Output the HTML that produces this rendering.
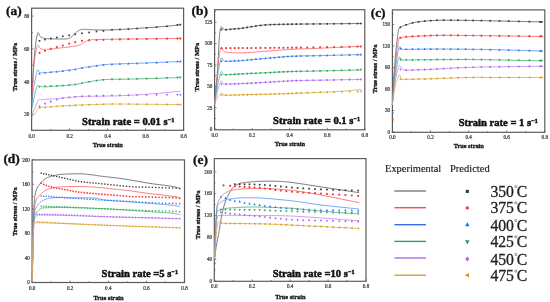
<!DOCTYPE html>
<html><head><meta charset="utf-8"><style>
html,body{margin:0;padding:0;background:#fff;}
body{width:550px;height:302px;overflow:hidden;}
svg{display:block;font-family:"Liberation Serif", serif;will-change:transform;}
</style></head><body>
<svg width="550" height="302" viewBox="0 0 550 302">
<rect width="550" height="302" fill="#fff"/>
<rect x="31.60" y="8.20" width="152.00" height="122.10" fill="none" stroke="#5c5c5c" stroke-width="1.2"/>
<line x1="31.60" y1="130.30" x2="31.60" y2="128.30" stroke="#555" stroke-width="0.7"/>
<text x="31.60" y="137.70" font-size="5.1" text-anchor="middle" fill="#3a3a3a" stroke="#3a3a3a" stroke-width="0.22">0.0</text>
<line x1="50.60" y1="130.30" x2="50.60" y2="129.00" stroke="#555" stroke-width="0.7"/>
<line x1="69.60" y1="130.30" x2="69.60" y2="128.30" stroke="#555" stroke-width="0.7"/>
<text x="69.60" y="137.70" font-size="5.1" text-anchor="middle" fill="#3a3a3a" stroke="#3a3a3a" stroke-width="0.22">0.2</text>
<line x1="88.60" y1="130.30" x2="88.60" y2="129.00" stroke="#555" stroke-width="0.7"/>
<line x1="107.60" y1="130.30" x2="107.60" y2="128.30" stroke="#555" stroke-width="0.7"/>
<text x="107.60" y="137.70" font-size="5.1" text-anchor="middle" fill="#3a3a3a" stroke="#3a3a3a" stroke-width="0.22">0.4</text>
<line x1="126.60" y1="130.30" x2="126.60" y2="129.00" stroke="#555" stroke-width="0.7"/>
<line x1="145.60" y1="130.30" x2="145.60" y2="128.30" stroke="#555" stroke-width="0.7"/>
<text x="145.60" y="137.70" font-size="5.1" text-anchor="middle" fill="#3a3a3a" stroke="#3a3a3a" stroke-width="0.22">0.6</text>
<line x1="164.60" y1="130.30" x2="164.60" y2="129.00" stroke="#555" stroke-width="0.7"/>
<line x1="183.60" y1="130.30" x2="183.60" y2="128.30" stroke="#555" stroke-width="0.7"/>
<text x="183.60" y="137.70" font-size="5.1" text-anchor="middle" fill="#3a3a3a" stroke="#3a3a3a" stroke-width="0.22">0.8</text>
<line x1="31.60" y1="16.10" x2="33.60" y2="16.10" stroke="#555" stroke-width="0.7"/>
<text x="29.30" y="17.90" font-size="5.1" text-anchor="end" fill="#3a3a3a" stroke="#3a3a3a" stroke-width="0.22">80</text>
<line x1="31.60" y1="48.90" x2="33.60" y2="48.90" stroke="#555" stroke-width="0.7"/>
<text x="29.30" y="50.70" font-size="5.1" text-anchor="end" fill="#3a3a3a" stroke="#3a3a3a" stroke-width="0.22">60</text>
<line x1="31.60" y1="81.70" x2="33.60" y2="81.70" stroke="#555" stroke-width="0.7"/>
<text x="29.30" y="83.50" font-size="5.1" text-anchor="end" fill="#3a3a3a" stroke="#3a3a3a" stroke-width="0.22">40</text>
<line x1="31.60" y1="114.50" x2="33.60" y2="114.50" stroke="#555" stroke-width="0.7"/>
<text x="29.30" y="116.30" font-size="5.1" text-anchor="end" fill="#3a3a3a" stroke="#3a3a3a" stroke-width="0.22">20</text>
<line x1="31.60" y1="32.50" x2="32.90" y2="32.50" stroke="#555" stroke-width="0.7"/>
<line x1="31.60" y1="65.30" x2="32.90" y2="65.30" stroke="#555" stroke-width="0.7"/>
<line x1="31.60" y1="98.10" x2="32.90" y2="98.10" stroke="#555" stroke-width="0.7"/>
<text x="107.80" y="147.20" font-size="6.3" font-weight="bold" text-anchor="middle" fill="#111" stroke="#111" stroke-width="0.3">True strain</text>
<text transform="translate(17.30,67.00) rotate(-90)" font-size="6.5" font-weight="bold" text-anchor="middle" fill="#111" stroke="#111" stroke-width="0.32">True stress / MPa</text>
<text x="6.10" y="14.50" font-size="13.4" font-weight="bold" fill="#111" stroke="#111" stroke-width="0.35">(a)</text>
<g transform="translate(82.00,125.00) scale(1,1.02)"><text x="0" y="0" font-size="10.6" font-weight="bold" fill="#111" stroke="#111" stroke-width="0.5">Strain rate = 0.01 s<tspan dy="-3.2" dx="0.2" font-size="6.1">−1</tspan></text></g>
<path d="M31.90,100.00 L31.94,98.81 L32.00,97.28 L32.06,95.47 L32.13,93.44 L32.21,91.25 L32.30,88.96 L32.39,86.63 L32.49,84.32 L32.59,82.09 L32.70,80.00 L32.81,77.99 L32.94,75.97 L33.06,73.94 L33.20,71.90 L33.34,69.88 L33.48,67.86 L33.63,65.85 L33.78,63.87 L33.94,61.92 L34.10,60.00 L34.26,58.08 L34.43,56.13 L34.60,54.18 L34.78,52.23 L34.96,50.32 L35.15,48.47 L35.33,46.69 L35.52,45.00 L35.71,43.43 L35.90,42.00 L36.09,40.67 L36.29,39.40 L36.49,38.22 L36.70,37.11 L36.91,36.10 L37.11,35.19 L37.32,34.40 L37.52,33.73 L37.71,33.19 L37.90,32.80 L38.08,32.60 L38.26,32.61 L38.44,32.80 L38.61,33.11 L38.77,33.52 L38.94,33.99 L39.11,34.47 L39.27,34.92 L39.44,35.31 L39.60,35.60 L39.75,35.81 L39.89,36.00 L40.01,36.18 L40.13,36.34 L40.26,36.49 L40.39,36.64 L40.55,36.78 L40.73,36.92 L40.94,37.06 L41.20,37.20 L41.49,37.35 L41.80,37.49 L42.14,37.64 L42.49,37.78 L42.88,37.93 L43.28,38.06 L43.72,38.19 L44.18,38.30 L44.68,38.41 L45.20,38.50 L45.76,38.58 L46.36,38.64 L47.00,38.70 L47.66,38.74 L48.35,38.77 L49.06,38.80 L49.78,38.83 L50.52,38.85 L51.26,38.88 L52.00,38.90 L52.76,38.92 L53.56,38.94 L54.37,38.96 L55.21,38.97 L56.05,38.98 L56.89,38.99 L57.71,38.99 L58.51,39.00 L59.28,39.00 L60.00,39.00 L60.69,39.00 L61.37,39.00 L62.03,39.00 L62.66,39.00 L63.28,39.00 L63.88,38.99 L64.45,38.98 L64.99,38.96 L65.51,38.94 L66.00,38.90 L66.45,38.86 L66.86,38.83 L67.23,38.80 L67.58,38.76 L67.91,38.71 L68.22,38.65 L68.53,38.58 L68.84,38.48 L69.16,38.35 L69.50,38.20 L69.85,38.01 L70.20,37.80 L70.55,37.56 L70.90,37.29 L71.25,37.01 L71.60,36.72 L71.95,36.42 L72.30,36.11 L72.65,35.80 L73.00,35.50 L73.35,35.19 L73.70,34.86 L74.05,34.52 L74.40,34.17 L74.75,33.82 L75.10,33.47 L75.45,33.13 L75.80,32.80 L76.15,32.49 L76.50,32.20 L76.85,31.93 L77.19,31.67 L77.53,31.41 L77.88,31.17 L78.22,30.94 L78.56,30.72 L78.91,30.52 L79.27,30.33 L79.63,30.15 L80.00,30.00 L80.37,29.86 L80.74,29.75 L81.12,29.65 L81.49,29.56 L81.88,29.49 L82.27,29.44 L82.67,29.39 L83.10,29.35 L83.54,29.32 L84.00,29.30 L84.47,29.29 L84.92,29.29 L85.38,29.31 L85.85,29.34 L86.34,29.38 L86.87,29.42 L87.44,29.47 L88.06,29.52 L88.74,29.56 L89.50,29.60 L90.35,29.64 L91.29,29.68 L92.30,29.73 L93.36,29.78 L94.47,29.83 L95.60,29.87 L96.73,29.91 L97.85,29.95 L98.95,29.98 L100.00,30.00 L101.00,30.01 L101.95,30.02 L102.88,30.03 L103.80,30.02 L104.72,30.02 L105.66,30.01 L106.65,29.99 L107.69,29.97 L108.80,29.94 L110.00,29.90 L111.28,29.86 L112.60,29.81 L113.98,29.75 L115.41,29.69 L116.89,29.62 L118.42,29.55 L120.00,29.47 L121.62,29.39 L123.29,29.30 L125.00,29.20 L126.78,29.10 L128.63,28.98 L130.55,28.86 L132.51,28.73 L134.52,28.60 L136.55,28.46 L138.60,28.32 L140.65,28.18 L142.68,28.04 L144.70,27.90 L146.73,27.76 L148.81,27.61 L150.91,27.47 L153.03,27.32 L155.14,27.17 L157.23,27.02 L159.28,26.86 L161.27,26.71 L163.18,26.55 L165.00,26.40 L166.78,26.24 L168.58,26.06 L170.36,25.88 L172.10,25.69 L173.77,25.51 L175.33,25.33 L176.77,25.17 L178.04,25.02 L179.13,24.90 L180.00,24.80" fill="none" stroke="#585858" stroke-width="0.8" stroke-linejoin="round" stroke-linecap="round"/>
<path d="M31.90,102.00 L31.94,100.95 L32.00,99.62 L32.06,98.05 L32.13,96.29 L32.21,94.38 L32.29,92.35 L32.38,90.26 L32.48,88.14 L32.59,86.04 L32.70,84.00 L32.82,81.91 L32.95,79.68 L33.09,77.35 L33.24,74.96 L33.39,72.56 L33.54,70.20 L33.71,67.92 L33.87,65.76 L34.03,63.77 L34.20,62.00 L34.37,60.43 L34.54,59.01 L34.71,57.72 L34.89,56.55 L35.08,55.48 L35.26,54.48 L35.44,53.56 L35.63,52.68 L35.81,51.83 L36.00,51.00 L36.19,50.19 L36.38,49.41 L36.57,48.68 L36.77,48.00 L36.96,47.38 L37.16,46.82 L37.35,46.34 L37.54,45.93 L37.72,45.62 L37.90,45.40 L38.07,45.31 L38.24,45.36 L38.40,45.52 L38.56,45.76 L38.71,46.07 L38.87,46.41 L39.02,46.76 L39.18,47.09 L39.34,47.38 L39.50,47.60 L39.66,47.77 L39.80,47.93 L39.94,48.08 L40.07,48.22 L40.21,48.36 L40.36,48.48 L40.53,48.60 L40.72,48.71 L40.94,48.81 L41.20,48.90 L41.48,48.99 L41.77,49.07 L42.08,49.14 L42.42,49.20 L42.77,49.26 L43.15,49.30 L43.56,49.34 L44.00,49.37 L44.48,49.39 L45.00,49.40 L45.57,49.40 L46.18,49.39 L46.84,49.37 L47.53,49.33 L48.25,49.29 L48.99,49.25 L49.74,49.19 L50.50,49.13 L51.25,49.07 L52.00,49.00 L52.75,48.92 L53.50,48.84 L54.27,48.74 L55.04,48.64 L55.83,48.53 L56.61,48.42 L57.41,48.31 L58.20,48.20 L59.00,48.10 L59.80,48.00 L60.60,47.91 L61.41,47.82 L62.22,47.74 L63.03,47.65 L63.85,47.57 L64.67,47.48 L65.50,47.40 L66.33,47.30 L67.16,47.21 L68.00,47.10 L68.87,46.98 L69.78,46.86 L70.71,46.73 L71.66,46.59 L72.60,46.46 L73.52,46.32 L74.39,46.18 L75.21,46.05 L75.95,45.92 L76.60,45.80 L77.15,45.69 L77.60,45.60 L77.98,45.52 L78.31,45.45 L78.59,45.37 L78.85,45.29 L79.10,45.19 L79.36,45.08 L79.66,44.96 L80.00,44.80 L80.38,44.62 L80.76,44.40 L81.16,44.17 L81.56,43.93 L81.96,43.67 L82.37,43.41 L82.78,43.14 L83.19,42.88 L83.60,42.63 L84.00,42.40 L84.40,42.17 L84.80,41.94 L85.20,41.70 L85.60,41.47 L86.00,41.24 L86.40,41.02 L86.80,40.81 L87.20,40.62 L87.60,40.45 L88.00,40.30 L88.38,40.18 L88.74,40.08 L89.07,40.00 L89.41,39.93 L89.75,39.88 L90.11,39.84 L90.51,39.80 L90.94,39.77 L91.44,39.74 L92.00,39.70 L92.58,39.66 L93.15,39.64 L93.73,39.62 L94.34,39.60 L95.00,39.59 L95.74,39.58 L96.59,39.56 L97.57,39.55 L98.70,39.53 L100.00,39.50 L101.47,39.47 L103.07,39.43 L104.80,39.39 L106.66,39.35 L108.62,39.31 L110.70,39.26 L112.89,39.22 L115.17,39.18 L117.54,39.14 L120.00,39.10 L122.59,39.07 L125.36,39.04 L128.27,39.01 L131.28,38.98 L134.38,38.95 L137.52,38.92 L140.69,38.89 L143.84,38.86 L146.95,38.83 L150.00,38.80 L153.14,38.76 L156.48,38.72 L159.94,38.67 L163.44,38.63 L166.88,38.58 L170.16,38.54 L173.20,38.49 L175.92,38.46 L178.22,38.42 L180.00,38.40" fill="none" stroke="#f5605f" stroke-width="0.8" stroke-linejoin="round" stroke-linecap="round"/>
<path d="M31.90,105.00 L31.98,104.09 L32.08,102.90 L32.20,101.48 L32.33,99.89 L32.48,98.19 L32.63,96.43 L32.79,94.68 L32.96,92.98 L33.13,91.41 L33.30,90.00 L33.47,88.73 L33.66,87.51 L33.85,86.34 L34.05,85.22 L34.25,84.12 L34.46,83.06 L34.67,82.03 L34.88,81.01 L35.09,80.00 L35.30,79.00 L35.51,77.97 L35.73,76.89 L35.95,75.79 L36.17,74.71 L36.39,73.66 L36.61,72.68 L36.83,71.80 L37.06,71.04 L37.28,70.43 L37.50,70.00 L37.71,69.79 L37.89,69.78 L38.07,69.95 L38.24,70.24 L38.41,70.62 L38.60,71.04 L38.82,71.48 L39.07,71.87 L39.36,72.19 L39.70,72.40 L40.09,72.52 L40.52,72.61 L40.98,72.68 L41.47,72.72 L41.99,72.74 L42.54,72.75 L43.11,72.75 L43.69,72.74 L44.29,72.72 L44.90,72.70 L45.53,72.67 L46.19,72.62 L46.87,72.56 L47.57,72.49 L48.29,72.41 L49.02,72.33 L49.76,72.24 L50.50,72.16 L51.25,72.07 L52.00,72.00 L52.75,71.93 L53.52,71.86 L54.31,71.80 L55.10,71.73 L55.89,71.67 L56.69,71.60 L57.48,71.53 L58.27,71.46 L59.04,71.38 L59.80,71.30 L60.54,71.21 L61.27,71.12 L61.99,71.02 L62.70,70.92 L63.41,70.81 L64.12,70.71 L64.83,70.60 L65.54,70.50 L66.27,70.40 L67.00,70.30 L67.74,70.21 L68.50,70.12 L69.26,70.04 L70.02,69.97 L70.79,69.89 L71.56,69.81 L72.32,69.72 L73.09,69.62 L73.85,69.52 L74.60,69.40 L75.35,69.27 L76.09,69.12 L76.83,68.95 L77.57,68.78 L78.31,68.61 L79.04,68.43 L79.78,68.26 L80.52,68.09 L81.26,67.94 L82.00,67.80 L82.71,67.68 L83.37,67.58 L83.99,67.49 L84.61,67.41 L85.24,67.34 L85.92,67.26 L86.66,67.17 L87.49,67.07 L88.43,66.95 L89.50,66.80 L90.71,66.62 L92.02,66.42 L93.42,66.19 L94.91,65.94 L96.47,65.69 L98.09,65.44 L99.77,65.20 L101.48,64.98 L103.23,64.77 L105.00,64.60 L106.80,64.46 L108.63,64.34 L110.51,64.23 L112.44,64.15 L114.41,64.07 L116.42,64.00 L118.49,63.93 L120.61,63.86 L122.78,63.78 L125.00,63.70 L127.28,63.61 L129.60,63.53 L131.97,63.44 L134.40,63.36 L136.88,63.27 L139.40,63.19 L141.97,63.10 L144.60,63.01 L147.28,62.91 L150.00,62.80 L152.93,62.68 L156.16,62.54 L159.58,62.40 L163.08,62.25 L166.56,62.09 L169.92,61.95 L173.05,61.81 L175.84,61.68 L178.19,61.58 L180.00,61.50" fill="none" stroke="#5590f2" stroke-width="0.8" stroke-linejoin="round" stroke-linecap="round"/>
<path d="M31.90,108.00 L32.01,107.46 L32.16,106.78 L32.33,105.96 L32.52,105.05 L32.73,104.06 L32.94,103.03 L33.16,101.98 L33.38,100.94 L33.60,99.94 L33.80,99.00 L34.00,98.08 L34.20,97.13 L34.40,96.16 L34.60,95.19 L34.81,94.23 L35.01,93.28 L35.21,92.38 L35.41,91.52 L35.61,90.72 L35.80,90.00 L35.99,89.34 L36.17,88.71 L36.35,88.12 L36.53,87.58 L36.71,87.08 L36.88,86.63 L37.06,86.24 L37.24,85.90 L37.42,85.62 L37.60,85.40 L37.77,85.27 L37.93,85.23 L38.08,85.28 L38.23,85.38 L38.38,85.53 L38.55,85.70 L38.74,85.89 L38.95,86.06 L39.20,86.20 L39.50,86.30 L39.83,86.37 L40.18,86.44 L40.55,86.51 L40.94,86.57 L41.37,86.63 L41.82,86.68 L42.31,86.73 L42.83,86.76 L43.40,86.79 L44.00,86.80 L44.66,86.80 L45.38,86.78 L46.14,86.75 L46.95,86.71 L47.78,86.66 L48.63,86.61 L49.49,86.56 L50.34,86.50 L51.18,86.45 L52.00,86.40 L52.77,86.36 L53.49,86.32 L54.19,86.28 L54.88,86.25 L55.59,86.21 L56.32,86.16 L57.11,86.11 L57.98,86.05 L58.93,85.98 L60.00,85.90 L61.19,85.81 L62.49,85.72 L63.89,85.62 L65.35,85.51 L66.87,85.40 L68.42,85.27 L69.99,85.13 L71.56,84.98 L73.10,84.80 L74.60,84.60 L76.08,84.37 L77.55,84.11 L79.03,83.82 L80.51,83.52 L81.99,83.20 L83.48,82.88 L84.98,82.56 L86.48,82.25 L87.98,81.96 L89.50,81.70 L91.01,81.45 L92.49,81.20 L93.96,80.96 L95.44,80.72 L96.93,80.49 L98.45,80.28 L100.00,80.08 L101.60,79.90 L103.27,79.74 L105.00,79.60 L106.80,79.49 L108.63,79.41 L110.51,79.36 L112.44,79.33 L114.41,79.31 L116.42,79.29 L118.49,79.28 L120.61,79.27 L122.78,79.24 L125.00,79.20 L127.28,79.15 L129.60,79.10 L131.97,79.05 L134.40,79.00 L136.88,78.94 L139.40,78.89 L141.97,78.82 L144.60,78.76 L147.28,78.68 L150.00,78.60 L152.93,78.51 L156.16,78.39 L159.58,78.27 L163.08,78.14 L166.56,78.01 L169.92,77.88 L173.05,77.76 L175.84,77.66 L178.19,77.57 L180.00,77.50" fill="none" stroke="#45b474" stroke-width="0.8" stroke-linejoin="round" stroke-linecap="round"/>
<path d="M31.90,114.70 L32.09,114.28 L32.33,113.74 L32.62,113.10 L32.94,112.38 L33.29,111.61 L33.66,110.80 L34.03,109.97 L34.40,109.15 L34.76,108.35 L35.10,107.60 L35.42,106.85 L35.75,106.05 L36.07,105.21 L36.40,104.37 L36.73,103.54 L37.05,102.75 L37.38,102.00 L37.72,101.33 L38.06,100.76 L38.40,100.30 L38.73,99.97 L39.03,99.75 L39.32,99.63 L39.61,99.58 L39.91,99.58 L40.23,99.62 L40.59,99.67 L40.99,99.71 L41.46,99.73 L42.00,99.70 L42.62,99.64 L43.30,99.58 L44.04,99.52 L44.82,99.46 L45.64,99.41 L46.50,99.35 L47.37,99.29 L48.25,99.23 L49.13,99.16 L50.00,99.10 L50.87,99.04 L51.75,98.97 L52.65,98.91 L53.56,98.84 L54.48,98.77 L55.42,98.71 L56.37,98.64 L57.33,98.56 L58.31,98.48 L59.30,98.40 L60.31,98.31 L61.34,98.22 L62.38,98.12 L63.44,98.02 L64.51,97.92 L65.59,97.81 L66.68,97.71 L67.78,97.60 L68.89,97.50 L70.00,97.40 L71.07,97.30 L72.07,97.19 L73.04,97.08 L74.01,96.97 L75.01,96.86 L76.07,96.75 L77.22,96.65 L78.51,96.56 L79.96,96.47 L81.60,96.40 L83.45,96.34 L85.50,96.30 L87.70,96.27 L90.03,96.25 L92.46,96.24 L94.96,96.22 L97.49,96.20 L100.03,96.18 L102.54,96.15 L105.00,96.10 L107.44,96.04 L109.90,95.99 L112.38,95.93 L114.88,95.86 L117.40,95.79 L119.92,95.71 L122.45,95.62 L124.97,95.53 L127.49,95.42 L130.00,95.30 L132.50,95.17 L135.00,95.03 L137.50,94.88 L140.00,94.72 L142.50,94.55 L145.00,94.37 L147.50,94.19 L150.00,94.00 L152.50,93.80 L155.00,93.60 L157.61,93.38 L160.40,93.13 L163.29,92.86 L166.20,92.58 L169.06,92.29 L171.80,92.02 L174.34,91.77 L176.60,91.54 L178.51,91.35 L180.00,91.20" fill="none" stroke="#bf86f3" stroke-width="0.8" stroke-linejoin="round" stroke-linecap="round"/>
<path d="M31.90,117.80 L32.11,117.50 L32.39,117.10 L32.72,116.64 L33.08,116.12 L33.47,115.56 L33.89,114.98 L34.31,114.38 L34.72,113.80 L35.12,113.23 L35.50,112.70 L35.85,112.18 L36.18,111.62 L36.51,111.05 L36.83,110.48 L37.16,109.92 L37.49,109.38 L37.85,108.87 L38.23,108.42 L38.65,108.02 L39.10,107.70 L39.60,107.46 L40.14,107.29 L40.71,107.19 L41.31,107.13 L41.92,107.11 L42.55,107.11 L43.18,107.12 L43.80,107.13 L44.41,107.13 L45.00,107.10 L45.56,107.06 L46.08,107.03 L46.58,107.00 L47.08,106.98 L47.58,106.96 L48.10,106.93 L48.65,106.91 L49.24,106.88 L49.89,106.84 L50.60,106.80 L51.33,106.75 L52.04,106.69 L52.76,106.63 L53.50,106.57 L54.30,106.50 L55.18,106.43 L56.16,106.35 L57.28,106.27 L58.55,106.19 L60.00,106.10 L61.64,106.01 L63.45,105.90 L65.40,105.79 L67.48,105.68 L69.67,105.56 L71.96,105.44 L74.31,105.33 L76.71,105.21 L79.15,105.10 L81.60,105.00 L84.09,104.90 L86.65,104.79 L89.28,104.68 L91.97,104.58 L94.71,104.47 L97.50,104.38 L100.33,104.29 L103.20,104.21 L106.09,104.15 L109.00,104.10 L111.91,104.07 L114.83,104.05 L117.75,104.05 L120.71,104.05 L123.71,104.07 L126.78,104.09 L129.93,104.12 L133.17,104.14 L136.52,104.17 L140.00,104.20 L143.82,104.23 L148.06,104.27 L152.60,104.31 L157.27,104.36 L161.94,104.41 L166.45,104.45 L170.66,104.50 L174.42,104.54 L177.58,104.57 L180.00,104.60" fill="none" stroke="#ddae48" stroke-width="0.8" stroke-linejoin="round" stroke-linecap="round"/>
<rect x="38.65" y="39.95" width="1.70" height="1.70" fill="#383838"/>
<rect x="44.15" y="38.65" width="1.70" height="1.70" fill="#383838"/>
<rect x="49.95" y="37.65" width="1.70" height="1.70" fill="#383838"/>
<rect x="55.95" y="36.65" width="1.70" height="1.70" fill="#383838"/>
<rect x="61.95" y="35.45" width="1.70" height="1.70" fill="#383838"/>
<rect x="68.35" y="34.45" width="1.70" height="1.70" fill="#383838"/>
<rect x="74.35" y="33.45" width="1.70" height="1.70" fill="#383838"/>
<rect x="81.15" y="32.45" width="1.70" height="1.70" fill="#383838"/>
<rect x="88.25" y="31.65" width="1.70" height="1.70" fill="#383838"/>
<rect x="95.65" y="30.65" width="1.70" height="1.70" fill="#383838"/>
<rect x="102.55" y="30.05" width="1.70" height="1.70" fill="#383838"/>
<rect x="111.15" y="28.95" width="1.70" height="1.70" fill="#383838"/>
<rect x="119.05" y="28.63" width="1.70" height="1.70" fill="#383838"/>
<rect x="127.55" y="28.33" width="1.70" height="1.70" fill="#383838"/>
<rect x="136.25" y="27.64" width="1.70" height="1.70" fill="#383838"/>
<rect x="145.85" y="26.96" width="1.70" height="1.70" fill="#383838"/>
<rect x="155.75" y="26.25" width="1.70" height="1.70" fill="#383838"/>
<rect x="166.05" y="25.45" width="1.70" height="1.70" fill="#383838"/>
<rect x="176.55" y="24.05" width="1.70" height="1.70" fill="#383838"/>
<rect x="179.55" y="23.75" width="1.70" height="1.70" fill="#383838"/>
<circle cx="39.50" cy="52.90" r="1.10" fill="#f5393f"/>
<circle cx="45.00" cy="50.86" r="1.10" fill="#f5393f"/>
<circle cx="50.80" cy="48.90" r="1.10" fill="#f5393f"/>
<circle cx="56.80" cy="47.20" r="1.10" fill="#f5393f"/>
<circle cx="62.80" cy="45.60" r="1.10" fill="#f5393f"/>
<circle cx="69.20" cy="43.55" r="1.10" fill="#f5393f"/>
<circle cx="75.20" cy="42.16" r="1.10" fill="#f5393f"/>
<circle cx="82.00" cy="40.80" r="1.10" fill="#f5393f"/>
<circle cx="89.10" cy="40.34" r="1.10" fill="#f5393f"/>
<circle cx="96.50" cy="40.05" r="1.10" fill="#f5393f"/>
<circle cx="103.40" cy="39.84" r="1.10" fill="#f5393f"/>
<circle cx="112.00" cy="39.62" r="1.10" fill="#f5393f"/>
<circle cx="119.90" cy="39.42" r="1.10" fill="#f5393f"/>
<circle cx="128.40" cy="39.22" r="1.10" fill="#f5393f"/>
<circle cx="137.10" cy="39.05" r="1.10" fill="#f5393f"/>
<circle cx="146.70" cy="38.91" r="1.10" fill="#f5393f"/>
<circle cx="156.60" cy="38.80" r="1.10" fill="#f5393f"/>
<circle cx="166.90" cy="38.71" r="1.10" fill="#f5393f"/>
<circle cx="177.40" cy="38.62" r="1.10" fill="#f5393f"/>
<circle cx="180.40" cy="38.60" r="1.10" fill="#f5393f"/>
<path d="M39.50,72.20 L40.70,74.40 L38.30,74.40 Z" fill="#2c6ef0"/>
<path d="M45.00,71.30 L46.20,73.50 L43.80,73.50 Z" fill="#2c6ef0"/>
<path d="M50.80,70.85 L52.00,73.05 L49.60,73.05 Z" fill="#2c6ef0"/>
<path d="M56.80,70.40 L58.00,72.60 L55.60,72.60 Z" fill="#2c6ef0"/>
<path d="M62.80,69.78 L64.00,71.98 L61.60,71.98 Z" fill="#2c6ef0"/>
<path d="M69.20,68.95 L70.40,71.15 L68.00,71.15 Z" fill="#2c6ef0"/>
<path d="M75.20,68.07 L76.40,70.27 L74.00,70.27 Z" fill="#2c6ef0"/>
<path d="M82.00,66.90 L83.20,69.10 L80.80,69.10 Z" fill="#2c6ef0"/>
<path d="M89.10,65.64 L90.30,67.84 L87.90,67.84 Z" fill="#2c6ef0"/>
<path d="M96.50,64.46 L97.70,66.66 L95.30,66.66 Z" fill="#2c6ef0"/>
<path d="M103.40,63.55 L104.60,65.75 L102.20,65.75 Z" fill="#2c6ef0"/>
<path d="M112.00,62.94 L113.20,65.14 L110.80,65.14 Z" fill="#2c6ef0"/>
<path d="M119.90,62.60 L121.10,64.80 L118.70,64.80 Z" fill="#2c6ef0"/>
<path d="M128.40,62.27 L129.60,64.47 L127.20,64.47 Z" fill="#2c6ef0"/>
<path d="M137.10,61.97 L138.30,64.17 L135.90,64.17 Z" fill="#2c6ef0"/>
<path d="M146.70,61.64 L147.90,63.84 L145.50,63.84 Z" fill="#2c6ef0"/>
<path d="M156.60,61.19 L157.80,63.39 L155.40,63.39 Z" fill="#2c6ef0"/>
<path d="M166.90,60.68 L168.10,62.88 L165.70,62.88 Z" fill="#2c6ef0"/>
<path d="M177.40,60.13 L178.60,62.33 L176.20,62.33 Z" fill="#2c6ef0"/>
<path d="M180.40,60.00 L181.60,62.20 L179.20,62.20 Z" fill="#2c6ef0"/>
<path d="M39.50,88.10 L40.70,85.90 L38.30,85.90 Z" fill="#22a055"/>
<path d="M45.00,87.70 L46.20,85.50 L43.80,85.50 Z" fill="#22a055"/>
<path d="M50.80,87.54 L52.00,85.34 L49.60,85.34 Z" fill="#22a055"/>
<path d="M56.80,87.35 L58.00,85.15 L55.60,85.15 Z" fill="#22a055"/>
<path d="M62.80,87.03 L64.00,84.83 L61.60,84.83 Z" fill="#22a055"/>
<path d="M69.20,86.55 L70.40,84.35 L68.00,84.35 Z" fill="#22a055"/>
<path d="M75.20,85.87 L76.40,83.67 L74.00,83.67 Z" fill="#22a055"/>
<path d="M82.00,84.60 L83.20,82.40 L80.80,82.40 Z" fill="#22a055"/>
<path d="M89.10,83.15 L90.30,80.95 L87.90,80.95 Z" fill="#22a055"/>
<path d="M96.50,81.95 L97.70,79.75 L95.30,79.75 Z" fill="#22a055"/>
<path d="M103.40,81.13 L104.60,78.93 L102.20,78.93 Z" fill="#22a055"/>
<path d="M112.00,80.71 L113.20,78.51 L110.80,78.51 Z" fill="#22a055"/>
<path d="M119.90,80.59 L121.10,78.39 L118.70,78.39 Z" fill="#22a055"/>
<path d="M128.40,80.42 L129.60,78.22 L127.20,78.22 Z" fill="#22a055"/>
<path d="M137.10,80.23 L138.30,78.03 L135.90,78.03 Z" fill="#22a055"/>
<path d="M146.70,80.00 L147.90,77.80 L145.50,77.80 Z" fill="#22a055"/>
<path d="M156.60,79.68 L157.80,77.48 L155.40,77.48 Z" fill="#22a055"/>
<path d="M166.90,79.30 L168.10,77.10 L165.70,77.10 Z" fill="#22a055"/>
<path d="M177.40,78.90 L178.60,76.70 L176.20,76.70 Z" fill="#22a055"/>
<path d="M180.40,78.80 L181.60,76.60 L179.20,76.60 Z" fill="#22a055"/>
<path d="M39.50,104.95 L40.60,106.25 L39.50,107.55 L38.40,106.25 Z" fill="#ad62f0"/>
<path d="M45.00,102.35 L46.10,103.65 L45.00,104.95 L43.90,103.65 Z" fill="#ad62f0"/>
<path d="M50.80,100.29 L51.90,101.59 L50.80,102.89 L49.70,101.59 Z" fill="#ad62f0"/>
<path d="M56.80,98.31 L57.90,99.61 L56.80,100.91 L55.70,99.61 Z" fill="#ad62f0"/>
<path d="M62.80,96.68 L63.90,97.98 L62.80,99.28 L61.70,97.98 Z" fill="#ad62f0"/>
<path d="M69.20,95.97 L70.30,97.27 L69.20,98.57 L68.10,97.27 Z" fill="#ad62f0"/>
<path d="M75.20,95.47 L76.30,96.77 L75.20,98.07 L74.10,96.77 Z" fill="#ad62f0"/>
<path d="M82.00,95.08 L83.10,96.38 L82.00,97.68 L80.90,96.38 Z" fill="#ad62f0"/>
<path d="M89.10,94.79 L90.20,96.09 L89.10,97.39 L88.00,96.09 Z" fill="#ad62f0"/>
<path d="M96.50,94.53 L97.60,95.83 L96.50,97.13 L95.40,95.83 Z" fill="#ad62f0"/>
<path d="M103.40,94.34 L104.50,95.64 L103.40,96.94 L102.30,95.64 Z" fill="#ad62f0"/>
<path d="M112.00,94.15 L113.10,95.45 L112.00,96.75 L110.90,95.45 Z" fill="#ad62f0"/>
<path d="M119.90,94.00 L121.00,95.30 L119.90,96.60 L118.80,95.30 Z" fill="#ad62f0"/>
<path d="M128.40,93.86 L129.50,95.16 L128.40,96.46 L127.30,95.16 Z" fill="#ad62f0"/>
<path d="M137.10,93.74 L138.20,95.04 L137.10,96.34 L136.00,95.04 Z" fill="#ad62f0"/>
<path d="M146.70,93.63 L147.80,94.93 L146.70,96.23 L145.60,94.93 Z" fill="#ad62f0"/>
<path d="M156.60,93.55 L157.70,94.85 L156.60,96.15 L155.50,94.85 Z" fill="#ad62f0"/>
<path d="M166.90,93.48 L168.00,94.78 L166.90,96.08 L165.80,94.78 Z" fill="#ad62f0"/>
<path d="M177.40,93.42 L178.50,94.72 L177.40,96.02 L176.30,94.72 Z" fill="#ad62f0"/>
<path d="M180.40,93.40 L181.50,94.70 L180.40,96.00 L179.30,94.70 Z" fill="#ad62f0"/>
<path d="M38.20,107.80 L40.40,106.60 L40.40,109.00 Z" fill="#d99a1c"/>
<path d="M43.70,107.40 L45.90,106.20 L45.90,108.60 Z" fill="#d99a1c"/>
<path d="M49.50,106.88 L51.70,105.68 L51.70,108.08 Z" fill="#d99a1c"/>
<path d="M55.50,106.37 L57.70,105.17 L57.70,107.57 Z" fill="#d99a1c"/>
<path d="M61.50,105.94 L63.70,104.74 L63.70,107.14 Z" fill="#d99a1c"/>
<path d="M67.90,105.59 L70.10,104.39 L70.10,106.79 Z" fill="#d99a1c"/>
<path d="M73.90,105.29 L76.10,104.09 L76.10,106.49 Z" fill="#d99a1c"/>
<path d="M80.70,104.98 L82.90,103.78 L82.90,106.18 Z" fill="#d99a1c"/>
<path d="M87.80,104.69 L90.00,103.49 L90.00,105.89 Z" fill="#d99a1c"/>
<path d="M95.20,104.41 L97.40,103.21 L97.40,105.61 Z" fill="#d99a1c"/>
<path d="M102.10,104.21 L104.30,103.01 L104.30,105.41 Z" fill="#d99a1c"/>
<path d="M110.70,104.07 L112.90,102.87 L112.90,105.27 Z" fill="#d99a1c"/>
<path d="M118.60,104.05 L120.80,102.85 L120.80,105.25 Z" fill="#d99a1c"/>
<path d="M127.10,104.10 L129.30,102.90 L129.30,105.30 Z" fill="#d99a1c"/>
<path d="M135.80,104.18 L138.00,102.98 L138.00,105.38 Z" fill="#d99a1c"/>
<path d="M145.40,104.25 L147.60,103.05 L147.60,105.45 Z" fill="#d99a1c"/>
<path d="M155.30,104.35 L157.50,103.15 L157.50,105.55 Z" fill="#d99a1c"/>
<path d="M165.60,104.46 L167.80,103.26 L167.80,105.66 Z" fill="#d99a1c"/>
<path d="M176.10,104.57 L178.30,103.37 L178.30,105.77 Z" fill="#d99a1c"/>
<path d="M179.10,104.60 L181.30,103.40 L181.30,105.80 Z" fill="#d99a1c"/>
<rect x="214.60" y="9.70" width="150.20" height="120.10" fill="none" stroke="#5c5c5c" stroke-width="1.2"/>
<line x1="214.60" y1="129.80" x2="214.60" y2="127.80" stroke="#555" stroke-width="0.7"/>
<text x="214.60" y="136.60" font-size="5.1" text-anchor="middle" fill="#3a3a3a" stroke="#3a3a3a" stroke-width="0.22">0.0</text>
<line x1="233.38" y1="129.80" x2="233.38" y2="128.50" stroke="#555" stroke-width="0.7"/>
<line x1="252.15" y1="129.80" x2="252.15" y2="127.80" stroke="#555" stroke-width="0.7"/>
<text x="252.15" y="136.60" font-size="5.1" text-anchor="middle" fill="#3a3a3a" stroke="#3a3a3a" stroke-width="0.22">0.2</text>
<line x1="270.93" y1="129.80" x2="270.93" y2="128.50" stroke="#555" stroke-width="0.7"/>
<line x1="289.70" y1="129.80" x2="289.70" y2="127.80" stroke="#555" stroke-width="0.7"/>
<text x="289.70" y="136.60" font-size="5.1" text-anchor="middle" fill="#3a3a3a" stroke="#3a3a3a" stroke-width="0.22">0.4</text>
<line x1="308.48" y1="129.80" x2="308.48" y2="128.50" stroke="#555" stroke-width="0.7"/>
<line x1="327.25" y1="129.80" x2="327.25" y2="127.80" stroke="#555" stroke-width="0.7"/>
<text x="327.25" y="136.60" font-size="5.1" text-anchor="middle" fill="#3a3a3a" stroke="#3a3a3a" stroke-width="0.22">0.6</text>
<line x1="346.02" y1="129.80" x2="346.02" y2="128.50" stroke="#555" stroke-width="0.7"/>
<line x1="364.80" y1="129.80" x2="364.80" y2="127.80" stroke="#555" stroke-width="0.7"/>
<text x="364.80" y="136.60" font-size="5.1" text-anchor="middle" fill="#3a3a3a" stroke="#3a3a3a" stroke-width="0.22">0.8</text>
<line x1="214.60" y1="22.22" x2="216.60" y2="22.22" stroke="#555" stroke-width="0.7"/>
<text x="212.30" y="24.02" font-size="5.1" text-anchor="end" fill="#3a3a3a" stroke="#3a3a3a" stroke-width="0.22">125</text>
<line x1="214.60" y1="43.60" x2="216.60" y2="43.60" stroke="#555" stroke-width="0.7"/>
<text x="212.30" y="45.40" font-size="5.1" text-anchor="end" fill="#3a3a3a" stroke="#3a3a3a" stroke-width="0.22">100</text>
<line x1="214.60" y1="64.97" x2="216.60" y2="64.97" stroke="#555" stroke-width="0.7"/>
<text x="212.30" y="66.77" font-size="5.1" text-anchor="end" fill="#3a3a3a" stroke="#3a3a3a" stroke-width="0.22">75</text>
<line x1="214.60" y1="86.35" x2="216.60" y2="86.35" stroke="#555" stroke-width="0.7"/>
<text x="212.30" y="88.15" font-size="5.1" text-anchor="end" fill="#3a3a3a" stroke="#3a3a3a" stroke-width="0.22">50</text>
<line x1="214.60" y1="107.72" x2="216.60" y2="107.72" stroke="#555" stroke-width="0.7"/>
<text x="212.30" y="109.52" font-size="5.1" text-anchor="end" fill="#3a3a3a" stroke="#3a3a3a" stroke-width="0.22">25</text>
<line x1="214.60" y1="129.10" x2="216.60" y2="129.10" stroke="#555" stroke-width="0.7"/>
<text x="212.30" y="130.90" font-size="5.1" text-anchor="end" fill="#3a3a3a" stroke="#3a3a3a" stroke-width="0.22">0</text>
<line x1="214.60" y1="11.54" x2="215.90" y2="11.54" stroke="#555" stroke-width="0.7"/>
<line x1="214.60" y1="32.91" x2="215.90" y2="32.91" stroke="#555" stroke-width="0.7"/>
<line x1="214.60" y1="54.29" x2="215.90" y2="54.29" stroke="#555" stroke-width="0.7"/>
<line x1="214.60" y1="75.66" x2="215.90" y2="75.66" stroke="#555" stroke-width="0.7"/>
<line x1="214.60" y1="97.04" x2="215.90" y2="97.04" stroke="#555" stroke-width="0.7"/>
<line x1="214.60" y1="118.41" x2="215.90" y2="118.41" stroke="#555" stroke-width="0.7"/>
<text x="289.90" y="146.10" font-size="6.3" font-weight="bold" text-anchor="middle" fill="#111" stroke="#111" stroke-width="0.3">True strain</text>
<text transform="translate(199.10,67.10) rotate(-90)" font-size="6.5" font-weight="bold" text-anchor="middle" fill="#111" stroke="#111" stroke-width="0.32">True stress / MPa</text>
<text x="191.50" y="15.00" font-size="13.4" font-weight="bold" fill="#111" stroke="#111" stroke-width="0.35">(b)</text>
<g transform="translate(273.00,123.90) scale(1,1.02)"><text x="0" y="0" font-size="10.6" font-weight="bold" fill="#111" stroke="#111" stroke-width="0.5">Strain rate = 0.1 s<tspan dy="-3.2" dx="0.2" font-size="6.1">−1</tspan></text></g>
<path d="M214.70,104.00 L214.78,103.03 L214.88,101.78 L214.99,100.28 L215.13,98.61 L215.27,96.81 L215.42,94.95 L215.57,93.08 L215.72,91.26 L215.86,89.55 L216.00,88.00 L216.13,86.61 L216.26,85.32 L216.40,84.10 L216.53,82.92 L216.66,81.75 L216.79,80.56 L216.92,79.32 L217.05,78.00 L217.18,76.57 L217.30,75.00 L217.42,73.27 L217.54,71.40 L217.65,69.42 L217.76,67.36 L217.88,65.25 L217.98,63.12 L218.09,61.00 L218.20,58.92 L218.30,56.91 L218.40,55.00 L218.50,53.14 L218.59,51.26 L218.68,49.40 L218.77,47.55 L218.86,45.75 L218.94,44.01 L219.03,42.34 L219.12,40.78 L219.21,39.32 L219.30,38.00 L219.40,36.81 L219.49,35.75 L219.59,34.79 L219.68,33.92 L219.78,33.14 L219.88,32.42 L219.98,31.76 L220.09,31.15 L220.19,30.57 L220.30,30.00 L220.41,29.46 L220.52,28.97 L220.64,28.53 L220.75,28.14 L220.87,27.79 L220.99,27.50 L221.11,27.25 L221.24,27.05 L221.37,26.90 L221.50,26.80 L221.63,26.77 L221.76,26.83 L221.89,26.97 L222.03,27.15 L222.16,27.38 L222.31,27.62 L222.46,27.87 L222.62,28.11 L222.80,28.33 L223.00,28.50 L223.20,28.65 L223.39,28.80 L223.58,28.96 L223.78,29.11 L223.99,29.25 L224.23,29.38 L224.51,29.50 L224.82,29.59 L225.18,29.66 L225.60,29.70 L226.07,29.71 L226.58,29.68 L227.13,29.63 L227.72,29.56 L228.35,29.47 L229.01,29.37 L229.71,29.27 L230.44,29.17 L231.21,29.08 L232.00,29.00 L232.84,28.93 L233.74,28.88 L234.68,28.82 L235.66,28.77 L236.66,28.71 L237.69,28.65 L238.72,28.58 L239.76,28.50 L240.79,28.41 L241.80,28.30 L242.78,28.17 L243.73,28.03 L244.67,27.87 L245.60,27.70 L246.55,27.52 L247.53,27.34 L248.55,27.15 L249.62,26.96 L250.77,26.78 L252.00,26.60 L253.29,26.42 L254.60,26.23 L255.95,26.03 L257.34,25.83 L258.80,25.63 L260.33,25.44 L261.94,25.25 L263.65,25.08 L265.46,24.93 L267.40,24.80 L269.47,24.69 L271.68,24.60 L274.00,24.52 L276.41,24.46 L278.91,24.41 L281.47,24.36 L284.08,24.32 L286.72,24.28 L289.36,24.24 L292.00,24.20 L294.60,24.16 L297.17,24.12 L299.74,24.09 L302.33,24.06 L304.98,24.04 L307.70,24.01 L310.54,23.99 L313.51,23.96 L316.66,23.93 L320.00,23.90 L323.76,23.86 L328.02,23.82 L332.64,23.77 L337.43,23.73 L342.25,23.68 L346.93,23.64 L351.30,23.59 L355.22,23.56 L358.50,23.52 L361.00,23.50" fill="none" stroke="#585858" stroke-width="0.8" stroke-linejoin="round" stroke-linecap="round"/>
<path d="M214.70,104.00 L214.75,103.29 L214.82,102.37 L214.90,101.28 L214.99,100.06 L215.08,98.75 L215.18,97.38 L215.29,95.98 L215.39,94.59 L215.50,93.25 L215.60,92.00 L215.70,90.81 L215.80,89.65 L215.91,88.49 L216.01,87.34 L216.12,86.19 L216.23,85.02 L216.34,83.82 L216.46,82.59 L216.58,81.32 L216.70,80.00 L216.83,78.61 L216.96,77.15 L217.09,75.64 L217.22,74.10 L217.36,72.53 L217.50,70.96 L217.65,69.41 L217.80,67.89 L217.95,66.41 L218.10,65.00 L218.26,63.61 L218.42,62.21 L218.59,60.82 L218.76,59.44 L218.93,58.10 L219.11,56.81 L219.28,55.59 L219.46,54.45 L219.63,53.42 L219.80,52.50 L219.97,51.69 L220.14,50.96 L220.32,50.32 L220.49,49.76 L220.66,49.27 L220.83,48.86 L221.00,48.52 L221.17,48.25 L221.34,48.05 L221.50,47.90 L221.65,47.85 L221.80,47.93 L221.94,48.10 L222.08,48.35 L222.21,48.65 L222.35,48.98 L222.50,49.33 L222.65,49.66 L222.82,49.96 L223.00,50.20 L223.18,50.41 L223.34,50.61 L223.49,50.81 L223.65,51.01 L223.82,51.21 L224.02,51.39 L224.26,51.56 L224.55,51.72 L224.89,51.87 L225.30,52.00 L225.78,52.11 L226.33,52.20 L226.93,52.28 L227.58,52.34 L228.26,52.39 L228.98,52.44 L229.72,52.48 L230.47,52.52 L231.24,52.56 L232.00,52.60 L232.76,52.65 L233.51,52.70 L234.27,52.74 L235.04,52.79 L235.84,52.83 L236.68,52.87 L237.55,52.89 L238.47,52.91 L239.45,52.91 L240.50,52.90 L241.60,52.87 L242.73,52.84 L243.89,52.79 L245.10,52.74 L246.36,52.67 L247.68,52.59 L249.07,52.51 L250.53,52.41 L252.07,52.31 L253.70,52.20 L255.45,52.08 L257.34,51.93 L259.34,51.78 L261.42,51.61 L263.55,51.44 L265.70,51.26 L267.86,51.09 L269.97,50.92 L272.03,50.75 L274.00,50.60 L275.85,50.46 L277.59,50.32 L279.25,50.18 L280.89,50.05 L282.52,49.92 L284.19,49.79 L285.94,49.67 L287.80,49.54 L289.81,49.42 L292.00,49.30 L294.34,49.19 L296.75,49.08 L299.26,48.98 L301.86,48.88 L304.56,48.79 L307.38,48.69 L310.33,48.58 L313.41,48.47 L316.63,48.34 L320.00,48.20 L323.76,48.03 L328.02,47.84 L332.64,47.63 L337.43,47.41 L342.25,47.18 L346.93,46.96 L351.30,46.76 L355.22,46.57 L358.50,46.42 L361.00,46.30" fill="none" stroke="#f5605f" stroke-width="0.8" stroke-linejoin="round" stroke-linecap="round"/>
<path d="M214.70,104.00 L214.75,103.47 L214.82,102.79 L214.90,101.99 L214.99,101.10 L215.08,100.12 L215.18,99.10 L215.29,98.06 L215.39,97.01 L215.50,95.98 L215.60,95.00 L215.70,94.05 L215.80,93.10 L215.91,92.14 L216.01,91.17 L216.12,90.19 L216.23,89.19 L216.34,88.18 L216.46,87.14 L216.58,86.09 L216.70,85.00 L216.83,83.87 L216.95,82.70 L217.09,81.50 L217.22,80.27 L217.36,79.03 L217.50,77.79 L217.64,76.55 L217.79,75.34 L217.94,74.15 L218.10,73.00 L218.26,71.86 L218.44,70.71 L218.62,69.56 L218.80,68.41 L218.99,67.29 L219.18,66.21 L219.36,65.18 L219.55,64.20 L219.73,63.31 L219.90,62.50 L220.07,61.76 L220.23,61.08 L220.39,60.45 L220.54,59.87 L220.70,59.36 L220.86,58.90 L221.01,58.52 L221.17,58.21 L221.33,57.96 L221.50,57.80 L221.67,57.75 L221.83,57.81 L222.00,57.98 L222.16,58.23 L222.33,58.53 L222.51,58.86 L222.69,59.20 L222.88,59.51 L223.08,59.79 L223.30,60.00 L223.47,60.17 L223.57,60.33 L223.63,60.49 L223.69,60.64 L223.78,60.77 L223.93,60.90 L224.20,61.00 L224.61,61.09 L225.20,61.16 L226.00,61.20 L227.03,61.22 L228.25,61.22 L229.64,61.20 L231.17,61.16 L232.81,61.10 L234.53,61.03 L236.32,60.94 L238.15,60.84 L239.98,60.72 L241.80,60.60 L243.60,60.46 L245.40,60.30 L247.23,60.12 L249.09,59.92 L251.01,59.71 L253.00,59.50 L255.08,59.27 L257.26,59.05 L259.56,58.82 L262.00,58.60 L264.61,58.37 L267.40,58.12 L270.34,57.85 L273.39,57.58 L276.51,57.31 L279.67,57.05 L282.84,56.80 L285.97,56.57 L289.04,56.37 L292.00,56.20 L294.82,56.07 L297.52,55.97 L300.14,55.90 L302.72,55.85 L305.31,55.81 L307.96,55.78 L310.71,55.75 L313.60,55.72 L316.68,55.67 L320.00,55.60 L323.76,55.51 L328.02,55.41 L332.64,55.30 L337.43,55.18 L342.25,55.06 L346.93,54.95 L351.30,54.84 L355.22,54.74 L358.50,54.66 L361.00,54.60" fill="none" stroke="#5590f2" stroke-width="0.8" stroke-linejoin="round" stroke-linecap="round"/>
<path d="M214.70,104.00 L214.75,103.61 L214.82,103.12 L214.90,102.53 L214.99,101.87 L215.08,101.16 L215.18,100.41 L215.29,99.65 L215.39,98.90 L215.50,98.18 L215.60,97.50 L215.70,96.86 L215.80,96.22 L215.91,95.60 L216.01,94.97 L216.12,94.34 L216.23,93.71 L216.34,93.06 L216.46,92.40 L216.58,91.71 L216.70,91.00 L216.83,90.26 L216.95,89.49 L217.09,88.69 L217.22,87.88 L217.36,87.06 L217.50,86.24 L217.64,85.41 L217.79,84.59 L217.94,83.79 L218.10,83.00 L218.27,82.21 L218.44,81.41 L218.62,80.60 L218.81,79.80 L218.99,79.00 L219.18,78.22 L219.37,77.48 L219.55,76.77 L219.73,76.11 L219.90,75.50 L220.06,74.93 L220.21,74.38 L220.36,73.84 L220.50,73.35 L220.64,72.89 L220.79,72.48 L220.93,72.13 L221.08,71.84 L221.24,71.63 L221.40,71.50 L221.57,71.48 L221.74,71.58 L221.92,71.77 L222.09,72.03 L222.28,72.34 L222.46,72.67 L222.66,73.01 L222.86,73.32 L223.08,73.59 L223.30,73.80 L223.48,73.96 L223.58,74.11 L223.64,74.25 L223.69,74.38 L223.78,74.49 L223.94,74.59 L224.20,74.67 L224.61,74.74 L225.20,74.78 L226.00,74.80 L227.03,74.79 L228.25,74.76 L229.64,74.70 L231.17,74.62 L232.81,74.52 L234.53,74.42 L236.32,74.31 L238.15,74.20 L239.98,74.10 L241.80,74.00 L243.60,73.91 L245.40,73.82 L247.23,73.73 L249.09,73.63 L251.01,73.54 L253.00,73.44 L255.08,73.34 L257.26,73.23 L259.56,73.12 L262.00,73.00 L264.61,72.87 L267.40,72.73 L270.34,72.58 L273.39,72.43 L276.51,72.28 L279.67,72.12 L282.84,71.97 L285.97,71.84 L289.04,71.71 L292.00,71.60 L294.82,71.51 L297.52,71.44 L300.14,71.38 L302.72,71.33 L305.31,71.28 L307.96,71.24 L310.71,71.19 L313.60,71.14 L316.68,71.08 L320.00,71.00 L323.76,70.91 L328.02,70.79 L332.64,70.67 L337.43,70.54 L342.25,70.41 L346.93,70.28 L351.30,70.16 L355.22,70.06 L358.50,69.97 L361.00,69.90" fill="none" stroke="#45b474" stroke-width="0.8" stroke-linejoin="round" stroke-linecap="round"/>
<path d="M214.70,104.00 L214.75,103.73 L214.82,103.39 L214.90,102.98 L214.99,102.52 L215.08,102.03 L215.18,101.52 L215.29,100.99 L215.39,100.47 L215.50,99.97 L215.60,99.50 L215.70,99.06 L215.80,98.62 L215.91,98.20 L216.01,97.77 L216.12,97.34 L216.23,96.91 L216.34,96.46 L216.46,96.00 L216.58,95.51 L216.70,95.00 L216.83,94.46 L216.95,93.88 L217.09,93.28 L217.22,92.66 L217.36,92.03 L217.50,91.40 L217.64,90.77 L217.79,90.16 L217.94,89.57 L218.10,89.00 L218.27,88.45 L218.44,87.90 L218.62,87.36 L218.81,86.83 L219.00,86.31 L219.19,85.81 L219.38,85.32 L219.56,84.86 L219.73,84.41 L219.90,84.00 L220.05,83.60 L220.20,83.19 L220.33,82.79 L220.46,82.41 L220.59,82.05 L220.72,81.73 L220.85,81.45 L220.99,81.24 L221.14,81.08 L221.30,81.00 L221.47,81.02 L221.65,81.13 L221.83,81.32 L222.02,81.57 L222.22,81.86 L222.42,82.16 L222.63,82.47 L222.85,82.76 L223.07,83.01 L223.30,83.20 L223.45,83.35 L223.45,83.49 L223.39,83.62 L223.31,83.74 L223.28,83.84 L223.35,83.93 L223.60,84.00 L224.09,84.06 L224.86,84.09 L226.00,84.10 L227.46,84.09 L229.15,84.06 L231.07,84.01 L233.20,83.94 L235.54,83.86 L238.08,83.75 L240.81,83.64 L243.71,83.50 L246.78,83.36 L250.00,83.20 L253.53,83.01 L257.47,82.79 L261.72,82.53 L266.18,82.26 L270.75,81.98 L275.34,81.70 L279.86,81.43 L284.21,81.19 L288.29,80.97 L292.00,80.80 L295.31,80.67 L298.29,80.57 L301.02,80.49 L303.58,80.44 L306.06,80.40 L308.54,80.37 L311.09,80.34 L313.79,80.30 L316.74,80.26 L320.00,80.20 L323.76,80.12 L328.02,80.04 L332.64,79.95 L337.43,79.86 L342.25,79.76 L346.93,79.67 L351.30,79.59 L355.22,79.51 L358.50,79.45 L361.00,79.40" fill="none" stroke="#bf86f3" stroke-width="0.8" stroke-linejoin="round" stroke-linecap="round"/>
<path d="M214.70,104.00 L214.75,103.85 L214.82,103.66 L214.90,103.43 L214.99,103.17 L215.08,102.89 L215.18,102.61 L215.29,102.31 L215.39,102.03 L215.50,101.75 L215.60,101.50 L215.70,101.26 L215.80,101.03 L215.91,100.80 L216.01,100.57 L216.12,100.34 L216.23,100.12 L216.34,99.89 L216.46,99.66 L216.58,99.43 L216.70,99.20 L216.83,98.96 L216.95,98.72 L217.09,98.48 L217.22,98.24 L217.36,98.00 L217.50,97.76 L217.64,97.52 L217.79,97.28 L217.94,97.04 L218.10,96.80 L218.26,96.56 L218.44,96.32 L218.62,96.08 L218.80,95.83 L218.99,95.59 L219.18,95.36 L219.36,95.13 L219.55,94.91 L219.73,94.70 L219.90,94.50 L220.07,94.30 L220.23,94.10 L220.39,93.90 L220.54,93.70 L220.70,93.51 L220.86,93.35 L221.01,93.20 L221.17,93.10 L221.33,93.02 L221.50,93.00 L221.67,93.03 L221.83,93.12 L222.00,93.25 L222.16,93.42 L222.33,93.61 L222.51,93.81 L222.69,94.01 L222.88,94.20 L223.08,94.37 L223.30,94.50 L223.44,94.61 L223.44,94.71 L223.37,94.81 L223.29,94.90 L223.26,94.98 L223.34,95.05 L223.60,95.11 L224.08,95.16 L224.86,95.19 L226.00,95.20 L227.47,95.19 L229.21,95.17 L231.19,95.13 L233.39,95.07 L235.79,95.00 L238.37,94.92 L241.10,94.84 L243.96,94.76 L246.94,94.68 L250.00,94.60 L253.26,94.52 L256.80,94.45 L260.56,94.36 L264.48,94.28 L268.50,94.19 L272.56,94.10 L276.60,94.01 L280.56,93.91 L284.38,93.81 L288.00,93.70 L291.47,93.59 L294.90,93.47 L298.26,93.34 L301.57,93.21 L304.81,93.08 L307.99,92.95 L311.10,92.81 L314.14,92.67 L317.11,92.54 L320.00,92.40 L322.82,92.26 L325.59,92.13 L328.30,91.99 L330.94,91.85 L333.50,91.71 L335.98,91.57 L338.38,91.43 L340.69,91.29 L342.90,91.14 L345.00,91.00 L347.04,90.85 L349.03,90.68 L350.97,90.51 L352.82,90.34 L354.56,90.16 L356.18,90.00 L357.66,89.84 L358.97,89.71 L360.09,89.59 L361.00,89.50" fill="none" stroke="#ddae48" stroke-width="0.8" stroke-linejoin="round" stroke-linecap="round"/>
<rect x="220.65" y="28.65" width="1.70" height="1.70" fill="#383838"/>
<rect x="225.25" y="28.82" width="1.70" height="1.70" fill="#383838"/>
<rect x="229.65" y="28.50" width="1.70" height="1.70" fill="#383838"/>
<rect x="233.75" y="28.16" width="1.70" height="1.70" fill="#383838"/>
<rect x="237.85" y="27.78" width="1.70" height="1.70" fill="#383838"/>
<rect x="241.95" y="27.32" width="1.70" height="1.70" fill="#383838"/>
<rect x="246.35" y="26.58" width="1.70" height="1.70" fill="#383838"/>
<rect x="250.45" y="25.85" width="1.70" height="1.70" fill="#383838"/>
<rect x="255.05" y="25.19" width="1.70" height="1.70" fill="#383838"/>
<rect x="259.65" y="24.57" width="1.70" height="1.70" fill="#383838"/>
<rect x="264.55" y="24.09" width="1.70" height="1.70" fill="#383838"/>
<rect x="269.45" y="23.80" width="1.70" height="1.70" fill="#383838"/>
<rect x="273.65" y="23.66" width="1.70" height="1.70" fill="#383838"/>
<rect x="278.15" y="23.55" width="1.70" height="1.70" fill="#383838"/>
<rect x="282.55" y="23.48" width="1.70" height="1.70" fill="#383838"/>
<rect x="286.95" y="23.42" width="1.70" height="1.70" fill="#383838"/>
<rect x="291.05" y="23.35" width="1.70" height="1.70" fill="#383838"/>
<rect x="295.45" y="23.28" width="1.70" height="1.70" fill="#383838"/>
<rect x="300.05" y="23.23" width="1.70" height="1.70" fill="#383838"/>
<rect x="306.35" y="23.17" width="1.70" height="1.70" fill="#383838"/>
<rect x="312.55" y="23.11" width="1.70" height="1.70" fill="#383838"/>
<rect x="319.25" y="23.05" width="1.70" height="1.70" fill="#383838"/>
<rect x="326.25" y="22.98" width="1.70" height="1.70" fill="#383838"/>
<rect x="333.15" y="22.91" width="1.70" height="1.70" fill="#383838"/>
<rect x="340.75" y="22.84" width="1.70" height="1.70" fill="#383838"/>
<rect x="348.65" y="22.76" width="1.70" height="1.70" fill="#383838"/>
<rect x="356.55" y="22.68" width="1.70" height="1.70" fill="#383838"/>
<rect x="359.95" y="22.65" width="1.70" height="1.70" fill="#383838"/>
<circle cx="221.50" cy="48.20" r="1.10" fill="#f5393f"/>
<circle cx="226.10" cy="48.17" r="1.10" fill="#f5393f"/>
<circle cx="230.50" cy="48.15" r="1.10" fill="#f5393f"/>
<circle cx="234.60" cy="48.12" r="1.10" fill="#f5393f"/>
<circle cx="238.70" cy="48.10" r="1.10" fill="#f5393f"/>
<circle cx="242.80" cy="48.08" r="1.10" fill="#f5393f"/>
<circle cx="247.20" cy="48.05" r="1.10" fill="#f5393f"/>
<circle cx="251.30" cy="48.03" r="1.10" fill="#f5393f"/>
<circle cx="255.90" cy="48.00" r="1.10" fill="#f5393f"/>
<circle cx="260.50" cy="47.97" r="1.10" fill="#f5393f"/>
<circle cx="265.40" cy="47.93" r="1.10" fill="#f5393f"/>
<circle cx="270.30" cy="47.90" r="1.10" fill="#f5393f"/>
<circle cx="274.50" cy="47.87" r="1.10" fill="#f5393f"/>
<circle cx="279.00" cy="47.83" r="1.10" fill="#f5393f"/>
<circle cx="283.40" cy="47.79" r="1.10" fill="#f5393f"/>
<circle cx="287.80" cy="47.75" r="1.10" fill="#f5393f"/>
<circle cx="291.90" cy="47.70" r="1.10" fill="#f5393f"/>
<circle cx="296.30" cy="47.65" r="1.10" fill="#f5393f"/>
<circle cx="300.90" cy="47.59" r="1.10" fill="#f5393f"/>
<circle cx="307.20" cy="47.50" r="1.10" fill="#f5393f"/>
<circle cx="313.40" cy="47.40" r="1.10" fill="#f5393f"/>
<circle cx="320.10" cy="47.30" r="1.10" fill="#f5393f"/>
<circle cx="327.10" cy="47.18" r="1.10" fill="#f5393f"/>
<circle cx="334.00" cy="47.07" r="1.10" fill="#f5393f"/>
<circle cx="341.60" cy="46.93" r="1.10" fill="#f5393f"/>
<circle cx="349.50" cy="46.80" r="1.10" fill="#f5393f"/>
<circle cx="357.40" cy="46.66" r="1.10" fill="#f5393f"/>
<circle cx="360.80" cy="46.60" r="1.10" fill="#f5393f"/>
<path d="M221.50,59.70 L222.70,61.90 L220.30,61.90 Z" fill="#2c6ef0"/>
<path d="M226.10,59.90 L227.30,62.10 L224.90,62.10 Z" fill="#2c6ef0"/>
<path d="M230.50,59.73 L231.70,61.93 L229.30,61.93 Z" fill="#2c6ef0"/>
<path d="M234.60,59.54 L235.80,61.74 L233.40,61.74 Z" fill="#2c6ef0"/>
<path d="M238.70,59.31 L239.90,61.51 L237.50,61.51 Z" fill="#2c6ef0"/>
<path d="M242.80,59.03 L244.00,61.23 L241.60,61.23 Z" fill="#2c6ef0"/>
<path d="M247.20,58.65 L248.40,60.85 L246.00,60.85 Z" fill="#2c6ef0"/>
<path d="M251.30,58.27 L252.50,60.47 L250.10,60.47 Z" fill="#2c6ef0"/>
<path d="M255.90,57.84 L257.10,60.04 L254.70,60.04 Z" fill="#2c6ef0"/>
<path d="M260.50,57.43 L261.70,59.63 L259.30,59.63 Z" fill="#2c6ef0"/>
<path d="M265.40,57.01 L266.60,59.21 L264.20,59.21 Z" fill="#2c6ef0"/>
<path d="M270.30,56.57 L271.50,58.77 L269.10,58.77 Z" fill="#2c6ef0"/>
<path d="M274.50,56.20 L275.70,58.40 L273.30,58.40 Z" fill="#2c6ef0"/>
<path d="M279.00,55.82 L280.20,58.02 L277.80,58.02 Z" fill="#2c6ef0"/>
<path d="M283.40,55.47 L284.60,57.67 L282.20,57.67 Z" fill="#2c6ef0"/>
<path d="M287.80,55.16 L289.00,57.36 L286.60,57.36 Z" fill="#2c6ef0"/>
<path d="M291.90,54.91 L293.10,57.11 L290.70,57.11 Z" fill="#2c6ef0"/>
<path d="M296.30,54.70 L297.50,56.90 L295.10,56.90 Z" fill="#2c6ef0"/>
<path d="M300.90,54.56 L302.10,56.76 L299.70,56.76 Z" fill="#2c6ef0"/>
<path d="M307.20,54.43 L308.40,56.63 L306.00,56.63 Z" fill="#2c6ef0"/>
<path d="M313.40,54.34 L314.60,56.54 L312.20,56.54 Z" fill="#2c6ef0"/>
<path d="M320.10,54.20 L321.30,56.40 L318.90,56.40 Z" fill="#2c6ef0"/>
<path d="M327.10,54.03 L328.30,56.23 L325.90,56.23 Z" fill="#2c6ef0"/>
<path d="M334.00,53.86 L335.20,56.06 L332.80,56.06 Z" fill="#2c6ef0"/>
<path d="M341.60,53.67 L342.80,55.87 L340.40,55.87 Z" fill="#2c6ef0"/>
<path d="M349.50,53.48 L350.70,55.68 L348.30,55.68 Z" fill="#2c6ef0"/>
<path d="M357.40,53.29 L358.60,55.49 L356.20,55.49 Z" fill="#2c6ef0"/>
<path d="M360.80,53.20 L362.00,55.40 L359.60,55.40 Z" fill="#2c6ef0"/>
<path d="M221.50,76.10 L222.70,73.90 L220.30,73.90 Z" fill="#22a055"/>
<path d="M226.10,76.10 L227.30,73.90 L224.90,73.90 Z" fill="#22a055"/>
<path d="M230.50,75.89 L231.70,73.69 L229.30,73.69 Z" fill="#22a055"/>
<path d="M234.60,75.67 L235.80,73.47 L233.40,73.47 Z" fill="#22a055"/>
<path d="M238.70,75.46 L239.90,73.26 L237.50,73.26 Z" fill="#22a055"/>
<path d="M242.80,75.25 L244.00,73.05 L241.60,73.05 Z" fill="#22a055"/>
<path d="M247.20,75.03 L248.40,72.83 L246.00,72.83 Z" fill="#22a055"/>
<path d="M251.30,74.82 L252.50,72.62 L250.10,72.62 Z" fill="#22a055"/>
<path d="M255.90,74.60 L257.10,72.40 L254.70,72.40 Z" fill="#22a055"/>
<path d="M260.50,74.37 L261.70,72.17 L259.30,72.17 Z" fill="#22a055"/>
<path d="M265.40,74.13 L266.60,71.93 L264.20,71.93 Z" fill="#22a055"/>
<path d="M270.30,73.89 L271.50,71.69 L269.10,71.69 Z" fill="#22a055"/>
<path d="M274.50,73.67 L275.70,71.47 L273.30,71.47 Z" fill="#22a055"/>
<path d="M279.00,73.45 L280.20,71.25 L277.80,71.25 Z" fill="#22a055"/>
<path d="M283.40,73.25 L284.60,71.05 L282.20,71.05 Z" fill="#22a055"/>
<path d="M287.80,73.06 L289.00,70.86 L286.60,70.86 Z" fill="#22a055"/>
<path d="M291.90,72.90 L293.10,70.70 L290.70,70.70 Z" fill="#22a055"/>
<path d="M296.30,72.77 L297.50,70.57 L295.10,70.57 Z" fill="#22a055"/>
<path d="M300.90,72.67 L302.10,70.47 L299.70,70.47 Z" fill="#22a055"/>
<path d="M307.20,72.56 L308.40,70.36 L306.00,70.36 Z" fill="#22a055"/>
<path d="M313.40,72.46 L314.60,70.26 L312.20,70.26 Z" fill="#22a055"/>
<path d="M320.10,72.30 L321.30,70.10 L318.90,70.10 Z" fill="#22a055"/>
<path d="M327.10,72.09 L328.30,69.89 L325.90,69.89 Z" fill="#22a055"/>
<path d="M334.00,71.88 L335.20,69.68 L332.80,69.68 Z" fill="#22a055"/>
<path d="M341.60,71.63 L342.80,69.43 L340.40,69.43 Z" fill="#22a055"/>
<path d="M349.50,71.38 L350.70,69.18 L348.30,69.18 Z" fill="#22a055"/>
<path d="M357.40,71.12 L358.60,68.92 L356.20,68.92 Z" fill="#22a055"/>
<path d="M360.80,71.01 L362.00,68.81 L359.60,68.81 Z" fill="#22a055"/>
<path d="M221.50,82.70 L222.60,84.00 L221.50,85.30 L220.40,84.00 Z" fill="#ad62f0"/>
<path d="M226.10,82.80 L227.20,84.10 L226.10,85.40 L225.00,84.10 Z" fill="#ad62f0"/>
<path d="M230.50,82.67 L231.60,83.97 L230.50,85.27 L229.40,83.97 Z" fill="#ad62f0"/>
<path d="M234.60,82.54 L235.70,83.84 L234.60,85.14 L233.50,83.84 Z" fill="#ad62f0"/>
<path d="M238.70,82.40 L239.80,83.70 L238.70,85.00 L237.60,83.70 Z" fill="#ad62f0"/>
<path d="M242.80,82.23 L243.90,83.53 L242.80,84.83 L241.70,83.53 Z" fill="#ad62f0"/>
<path d="M247.20,82.04 L248.30,83.34 L247.20,84.64 L246.10,83.34 Z" fill="#ad62f0"/>
<path d="M251.30,81.83 L252.40,83.13 L251.30,84.43 L250.20,83.13 Z" fill="#ad62f0"/>
<path d="M255.90,81.58 L257.00,82.88 L255.90,84.18 L254.80,82.88 Z" fill="#ad62f0"/>
<path d="M260.50,81.31 L261.60,82.61 L260.50,83.91 L259.40,82.61 Z" fill="#ad62f0"/>
<path d="M265.40,81.01 L266.50,82.31 L265.40,83.61 L264.30,82.31 Z" fill="#ad62f0"/>
<path d="M270.30,80.71 L271.40,82.01 L270.30,83.31 L269.20,82.01 Z" fill="#ad62f0"/>
<path d="M274.50,80.45 L275.60,81.75 L274.50,83.05 L273.40,81.75 Z" fill="#ad62f0"/>
<path d="M279.00,80.19 L280.10,81.49 L279.00,82.79 L277.90,81.49 Z" fill="#ad62f0"/>
<path d="M283.40,79.93 L284.50,81.23 L283.40,82.53 L282.30,81.23 Z" fill="#ad62f0"/>
<path d="M287.80,79.70 L288.90,81.00 L287.80,82.30 L286.70,81.00 Z" fill="#ad62f0"/>
<path d="M291.90,79.50 L293.00,80.80 L291.90,82.10 L290.80,80.80 Z" fill="#ad62f0"/>
<path d="M296.30,79.33 L297.40,80.63 L296.30,81.93 L295.20,80.63 Z" fill="#ad62f0"/>
<path d="M300.90,79.20 L302.00,80.50 L300.90,81.80 L299.80,80.50 Z" fill="#ad62f0"/>
<path d="M307.20,79.08 L308.30,80.38 L307.20,81.68 L306.10,80.38 Z" fill="#ad62f0"/>
<path d="M313.40,79.01 L314.50,80.31 L313.40,81.61 L312.30,80.31 Z" fill="#ad62f0"/>
<path d="M320.10,78.90 L321.20,80.20 L320.10,81.50 L319.00,80.20 Z" fill="#ad62f0"/>
<path d="M327.10,78.76 L328.20,80.06 L327.10,81.36 L326.00,80.06 Z" fill="#ad62f0"/>
<path d="M334.00,78.62 L335.10,79.92 L334.00,81.22 L332.90,79.92 Z" fill="#ad62f0"/>
<path d="M341.60,78.48 L342.70,79.78 L341.60,81.08 L340.50,79.78 Z" fill="#ad62f0"/>
<path d="M349.50,78.32 L350.60,79.62 L349.50,80.92 L348.40,79.62 Z" fill="#ad62f0"/>
<path d="M357.40,78.17 L358.50,79.47 L357.40,80.77 L356.30,79.47 Z" fill="#ad62f0"/>
<path d="M360.80,78.10 L361.90,79.40 L360.80,80.70 L359.70,79.40 Z" fill="#ad62f0"/>
<path d="M220.20,95.00 L222.40,93.80 L222.40,96.20 Z" fill="#d99a1c"/>
<path d="M224.80,95.20 L227.00,94.00 L227.00,96.40 Z" fill="#d99a1c"/>
<path d="M229.20,95.11 L231.40,93.91 L231.40,96.31 Z" fill="#d99a1c"/>
<path d="M233.30,95.01 L235.50,93.81 L235.50,96.21 Z" fill="#d99a1c"/>
<path d="M237.40,94.91 L239.60,93.71 L239.60,96.11 Z" fill="#d99a1c"/>
<path d="M241.50,94.80 L243.70,93.60 L243.70,96.00 Z" fill="#d99a1c"/>
<path d="M245.90,94.68 L248.10,93.48 L248.10,95.88 Z" fill="#d99a1c"/>
<path d="M250.00,94.56 L252.20,93.36 L252.20,95.76 Z" fill="#d99a1c"/>
<path d="M254.60,94.44 L256.80,93.24 L256.80,95.64 Z" fill="#d99a1c"/>
<path d="M259.20,94.32 L261.40,93.12 L261.40,95.52 Z" fill="#d99a1c"/>
<path d="M264.10,94.18 L266.30,92.98 L266.30,95.38 Z" fill="#d99a1c"/>
<path d="M269.00,94.05 L271.20,92.85 L271.20,95.25 Z" fill="#d99a1c"/>
<path d="M273.20,93.93 L275.40,92.73 L275.40,95.13 Z" fill="#d99a1c"/>
<path d="M277.70,93.80 L279.90,92.60 L279.90,95.00 Z" fill="#d99a1c"/>
<path d="M282.10,93.66 L284.30,92.46 L284.30,94.86 Z" fill="#d99a1c"/>
<path d="M286.50,93.51 L288.70,92.31 L288.70,94.71 Z" fill="#d99a1c"/>
<path d="M290.60,93.31 L292.80,92.11 L292.80,94.51 Z" fill="#d99a1c"/>
<path d="M295.00,92.95 L297.20,91.75 L297.20,94.15 Z" fill="#d99a1c"/>
<path d="M299.60,92.64 L301.80,91.44 L301.80,93.84 Z" fill="#d99a1c"/>
<path d="M305.90,92.47 L308.10,91.27 L308.10,93.67 Z" fill="#d99a1c"/>
<path d="M312.10,92.36 L314.30,91.16 L314.30,93.56 Z" fill="#d99a1c"/>
<path d="M318.80,92.26 L321.00,91.06 L321.00,93.46 Z" fill="#d99a1c"/>
<path d="M325.80,92.15 L328.00,90.95 L328.00,93.35 Z" fill="#d99a1c"/>
<path d="M332.70,92.02 L334.90,90.82 L334.90,93.22 Z" fill="#d99a1c"/>
<path d="M340.30,91.85 L342.50,90.65 L342.50,93.05 Z" fill="#d99a1c"/>
<path d="M348.20,91.67 L350.40,90.47 L350.40,92.87 Z" fill="#d99a1c"/>
<path d="M356.10,91.48 L358.30,90.28 L358.30,92.68 Z" fill="#d99a1c"/>
<path d="M359.50,91.40 L361.70,90.20 L361.70,92.60 Z" fill="#d99a1c"/>
<rect x="392.40" y="9.90" width="152.40" height="122.40" fill="none" stroke="#5c5c5c" stroke-width="1.2"/>
<line x1="392.40" y1="132.30" x2="392.40" y2="130.30" stroke="#555" stroke-width="0.7"/>
<text x="392.40" y="138.90" font-size="5.1" text-anchor="middle" fill="#3a3a3a" stroke="#3a3a3a" stroke-width="0.22">0.0</text>
<line x1="411.45" y1="132.30" x2="411.45" y2="131.00" stroke="#555" stroke-width="0.7"/>
<line x1="430.50" y1="132.30" x2="430.50" y2="130.30" stroke="#555" stroke-width="0.7"/>
<text x="430.50" y="138.90" font-size="5.1" text-anchor="middle" fill="#3a3a3a" stroke="#3a3a3a" stroke-width="0.22">0.2</text>
<line x1="449.55" y1="132.30" x2="449.55" y2="131.00" stroke="#555" stroke-width="0.7"/>
<line x1="468.60" y1="132.30" x2="468.60" y2="130.30" stroke="#555" stroke-width="0.7"/>
<text x="468.60" y="138.90" font-size="5.1" text-anchor="middle" fill="#3a3a3a" stroke="#3a3a3a" stroke-width="0.22">0.4</text>
<line x1="487.65" y1="132.30" x2="487.65" y2="131.00" stroke="#555" stroke-width="0.7"/>
<line x1="506.70" y1="132.30" x2="506.70" y2="130.30" stroke="#555" stroke-width="0.7"/>
<text x="506.70" y="138.90" font-size="5.1" text-anchor="middle" fill="#3a3a3a" stroke="#3a3a3a" stroke-width="0.22">0.6</text>
<line x1="525.75" y1="132.30" x2="525.75" y2="131.00" stroke="#555" stroke-width="0.7"/>
<line x1="544.80" y1="132.30" x2="544.80" y2="130.30" stroke="#555" stroke-width="0.7"/>
<text x="544.80" y="138.90" font-size="5.1" text-anchor="middle" fill="#3a3a3a" stroke="#3a3a3a" stroke-width="0.22">0.8</text>
<line x1="392.40" y1="24.45" x2="394.40" y2="24.45" stroke="#555" stroke-width="0.7"/>
<text x="390.10" y="26.25" font-size="5.1" text-anchor="end" fill="#3a3a3a" stroke="#3a3a3a" stroke-width="0.22">150</text>
<line x1="392.40" y1="45.96" x2="394.40" y2="45.96" stroke="#555" stroke-width="0.7"/>
<text x="390.10" y="47.76" font-size="5.1" text-anchor="end" fill="#3a3a3a" stroke="#3a3a3a" stroke-width="0.22">120</text>
<line x1="392.40" y1="67.47" x2="394.40" y2="67.47" stroke="#555" stroke-width="0.7"/>
<text x="390.10" y="69.27" font-size="5.1" text-anchor="end" fill="#3a3a3a" stroke="#3a3a3a" stroke-width="0.22">90</text>
<line x1="392.40" y1="88.98" x2="394.40" y2="88.98" stroke="#555" stroke-width="0.7"/>
<text x="390.10" y="90.78" font-size="5.1" text-anchor="end" fill="#3a3a3a" stroke="#3a3a3a" stroke-width="0.22">60</text>
<line x1="392.40" y1="110.49" x2="394.40" y2="110.49" stroke="#555" stroke-width="0.7"/>
<text x="390.10" y="112.29" font-size="5.1" text-anchor="end" fill="#3a3a3a" stroke="#3a3a3a" stroke-width="0.22">30</text>
<line x1="392.40" y1="132.00" x2="394.40" y2="132.00" stroke="#555" stroke-width="0.7"/>
<text x="390.10" y="133.80" font-size="5.1" text-anchor="end" fill="#3a3a3a" stroke="#3a3a3a" stroke-width="0.22">0</text>
<line x1="392.40" y1="13.70" x2="393.70" y2="13.70" stroke="#555" stroke-width="0.7"/>
<line x1="392.40" y1="35.20" x2="393.70" y2="35.20" stroke="#555" stroke-width="0.7"/>
<line x1="392.40" y1="56.72" x2="393.70" y2="56.72" stroke="#555" stroke-width="0.7"/>
<line x1="392.40" y1="78.22" x2="393.70" y2="78.22" stroke="#555" stroke-width="0.7"/>
<line x1="392.40" y1="99.73" x2="393.70" y2="99.73" stroke="#555" stroke-width="0.7"/>
<line x1="392.40" y1="121.25" x2="393.70" y2="121.25" stroke="#555" stroke-width="0.7"/>
<text x="468.80" y="148.40" font-size="6.3" font-weight="bold" text-anchor="middle" fill="#111" stroke="#111" stroke-width="0.3">True strain</text>
<text transform="translate(376.90,68.90) rotate(-90)" font-size="6.5" font-weight="bold" text-anchor="middle" fill="#111" stroke="#111" stroke-width="0.32">True stress / MPa</text>
<text x="370.70" y="16.90" font-size="13.4" font-weight="bold" fill="#111" stroke="#111" stroke-width="0.35">(c)</text>
<g transform="translate(458.70,125.90) scale(1,1.02)"><text x="0" y="0" font-size="10.6" font-weight="bold" fill="#111" stroke="#111" stroke-width="0.5">Strain rate = 1 s<tspan dy="-3.2" dx="0.2" font-size="6.1">−1</tspan></text></g>
<path d="M392.40,104.50 L392.45,103.52 L392.50,102.28 L392.57,100.81 L392.65,99.16 L392.73,97.38 L392.82,95.50 L392.91,93.58 L393.01,91.66 L393.10,89.78 L393.20,88.00 L393.30,86.26 L393.39,84.50 L393.50,82.71 L393.60,80.91 L393.71,79.09 L393.82,77.27 L393.93,75.45 L394.05,73.62 L394.17,71.81 L394.30,70.00 L394.43,68.18 L394.57,66.34 L394.72,64.47 L394.87,62.61 L395.02,60.75 L395.17,58.91 L395.33,57.11 L395.49,55.34 L395.64,53.64 L395.80,52.00 L395.96,50.42 L396.12,48.87 L396.28,47.35 L396.44,45.88 L396.60,44.45 L396.76,43.06 L396.92,41.72 L397.08,40.43 L397.24,39.19 L397.40,38.00 L397.55,36.85 L397.68,35.74 L397.81,34.67 L397.93,33.64 L398.06,32.67 L398.19,31.75 L398.34,30.90 L398.50,30.12 L398.69,29.42 L398.90,28.80 L399.13,28.29 L399.37,27.90 L399.63,27.60 L399.90,27.38 L400.18,27.21 L400.49,27.08 L400.82,26.97 L401.18,26.84 L401.57,26.69 L402.00,26.50 L402.45,26.28 L402.92,26.06 L403.41,25.84 L403.92,25.62 L404.47,25.41 L405.05,25.19 L405.67,24.97 L406.33,24.75 L407.04,24.53 L407.80,24.30 L408.59,24.06 L409.37,23.82 L410.18,23.57 L411.03,23.32 L411.93,23.06 L412.89,22.81 L413.95,22.57 L415.11,22.33 L416.38,22.11 L417.80,21.90 L419.34,21.70 L420.96,21.50 L422.69,21.31 L424.51,21.12 L426.43,20.94 L428.45,20.78 L430.57,20.63 L432.80,20.50 L435.15,20.39 L437.60,20.30 L440.20,20.24 L442.98,20.20 L445.89,20.19 L448.92,20.19 L452.04,20.21 L455.22,20.24 L458.43,20.28 L461.65,20.32 L464.85,20.36 L468.00,20.40 L471.09,20.44 L474.14,20.48 L477.17,20.53 L480.21,20.59 L483.29,20.65 L486.42,20.71 L489.63,20.78 L492.95,20.85 L496.40,20.93 L500.00,21.00 L503.97,21.08 L508.40,21.18 L513.14,21.28 L518.02,21.38 L522.90,21.49 L527.62,21.59 L532.02,21.69 L535.96,21.77 L539.27,21.85 L541.80,21.90" fill="none" stroke="#585858" stroke-width="0.8" stroke-linejoin="round" stroke-linecap="round"/>
<path d="M392.40,104.50 L392.45,103.64 L392.50,102.54 L392.57,101.23 L392.65,99.77 L392.73,98.19 L392.82,96.53 L392.91,94.84 L393.01,93.16 L393.10,91.54 L393.20,90.00 L393.30,88.52 L393.39,87.03 L393.50,85.54 L393.60,84.04 L393.71,82.53 L393.82,81.02 L393.93,79.52 L394.05,78.01 L394.17,76.50 L394.30,75.00 L394.43,73.50 L394.57,71.98 L394.71,70.47 L394.86,68.95 L395.01,67.44 L395.16,65.93 L395.32,64.43 L395.47,62.94 L395.64,61.46 L395.80,60.00 L395.97,58.53 L396.14,57.05 L396.31,55.55 L396.49,54.06 L396.68,52.59 L396.86,51.16 L397.04,49.76 L397.23,48.43 L397.41,47.17 L397.60,46.00 L397.78,44.89 L397.96,43.81 L398.14,42.77 L398.32,41.79 L398.51,40.87 L398.69,40.02 L398.88,39.24 L399.08,38.56 L399.29,37.98 L399.50,37.50 L399.71,37.17 L399.92,36.98 L400.13,36.93 L400.34,36.96 L400.56,37.07 L400.79,37.21 L401.05,37.37 L401.33,37.50 L401.65,37.59 L402.00,37.60 L402.29,37.56 L402.44,37.51 L402.53,37.45 L402.62,37.37 L402.78,37.29 L403.08,37.21 L403.58,37.11 L404.36,37.01 L405.48,36.91 L407.00,36.80 L408.98,36.68 L411.38,36.53 L414.13,36.38 L417.15,36.21 L420.38,36.04 L423.73,35.88 L427.14,35.73 L430.54,35.59 L433.85,35.48 L437.00,35.40 L440.06,35.35 L443.12,35.32 L446.19,35.31 L449.28,35.32 L452.38,35.34 L455.48,35.37 L458.60,35.40 L461.72,35.44 L464.85,35.47 L468.00,35.50 L471.12,35.53 L474.18,35.56 L477.22,35.59 L480.26,35.63 L483.32,35.67 L486.45,35.71 L489.65,35.76 L492.96,35.80 L496.40,35.85 L500.00,35.90 L503.97,35.95 L508.40,36.02 L513.14,36.08 L518.02,36.15 L522.90,36.22 L527.62,36.29 L532.02,36.36 L535.96,36.42 L539.27,36.46 L541.80,36.50" fill="none" stroke="#f5605f" stroke-width="0.8" stroke-linejoin="round" stroke-linecap="round"/>
<path d="M392.40,104.50 L392.45,103.76 L392.50,102.81 L392.57,101.68 L392.65,100.42 L392.73,99.06 L392.82,97.64 L392.91,96.18 L393.01,94.73 L393.10,93.33 L393.20,92.00 L393.30,90.72 L393.39,89.43 L393.50,88.14 L393.60,86.84 L393.71,85.53 L393.82,84.22 L393.93,82.92 L394.05,81.61 L394.17,80.30 L394.30,79.00 L394.43,77.70 L394.57,76.38 L394.71,75.07 L394.86,73.75 L395.01,72.44 L395.16,71.13 L395.32,69.83 L395.47,68.54 L395.64,67.26 L395.80,66.00 L395.97,64.74 L396.14,63.46 L396.31,62.18 L396.49,60.90 L396.68,59.64 L396.86,58.41 L397.04,57.22 L397.23,56.08 L397.41,55.01 L397.60,54.00 L397.79,53.04 L397.97,52.09 L398.16,51.18 L398.35,50.30 L398.54,49.49 L398.73,48.74 L398.92,48.07 L399.11,47.50 L399.31,47.04 L399.50,46.70 L399.70,46.52 L399.89,46.49 L400.09,46.60 L400.29,46.81 L400.49,47.09 L400.70,47.42 L400.90,47.75 L401.10,48.06 L401.30,48.32 L401.50,48.50 L401.59,48.63 L401.51,48.74 L401.33,48.85 L401.12,48.94 L400.97,49.03 L400.94,49.11 L401.10,49.17 L401.53,49.23 L402.31,49.27 L403.50,49.30 L405.11,49.31 L407.05,49.30 L409.29,49.28 L411.78,49.24 L414.50,49.19 L417.40,49.14 L420.43,49.09 L423.57,49.05 L426.77,49.01 L430.00,49.00 L433.36,49.00 L436.96,49.00 L440.74,49.01 L444.66,49.02 L448.66,49.04 L452.68,49.07 L456.68,49.09 L460.60,49.13 L464.39,49.16 L468.00,49.20 L471.40,49.24 L474.63,49.28 L477.73,49.33 L480.76,49.38 L483.76,49.44 L486.78,49.50 L489.87,49.56 L493.07,49.64 L496.43,49.71 L500.00,49.80 L503.97,49.90 L508.40,50.02 L513.14,50.15 L518.02,50.29 L522.90,50.44 L527.62,50.58 L532.02,50.71 L535.96,50.83 L539.27,50.93 L541.80,51.00" fill="none" stroke="#5590f2" stroke-width="0.8" stroke-linejoin="round" stroke-linecap="round"/>
<path d="M392.40,104.50 L392.45,103.88 L392.50,103.08 L392.57,102.14 L392.65,101.08 L392.73,99.94 L392.82,98.74 L392.91,97.52 L393.01,96.30 L393.10,95.12 L393.20,94.00 L393.30,92.92 L393.39,91.83 L393.50,90.74 L393.60,89.64 L393.71,88.53 L393.82,87.42 L393.93,86.32 L394.05,85.21 L394.17,84.10 L394.30,83.00 L394.43,81.90 L394.57,80.78 L394.71,79.67 L394.86,78.55 L395.01,77.44 L395.16,76.33 L395.32,75.23 L395.47,74.14 L395.64,73.06 L395.80,72.00 L395.97,70.94 L396.14,69.86 L396.31,68.78 L396.49,67.70 L396.68,66.64 L396.86,65.61 L397.04,64.62 L397.23,63.68 L397.41,62.80 L397.60,62.00 L397.79,61.25 L397.98,60.52 L398.17,59.84 L398.36,59.19 L398.55,58.60 L398.74,58.07 L398.93,57.62 L399.12,57.25 L399.31,56.97 L399.50,56.80 L399.68,56.77 L399.87,56.89 L400.05,57.13 L400.23,57.46 L400.41,57.85 L400.59,58.27 L400.77,58.68 L400.95,59.07 L401.12,59.38 L401.30,59.60 L401.36,59.74 L401.24,59.84 L401.02,59.92 L400.77,59.96 L400.58,59.99 L400.50,60.00 L400.63,60.00 L401.04,60.00 L401.81,60.00 L403.00,60.00 L404.63,60.00 L406.60,60.00 L408.89,59.99 L411.45,59.97 L414.23,59.94 L417.19,59.92 L420.29,59.89 L423.49,59.86 L426.74,59.83 L430.00,59.80 L433.38,59.77 L436.99,59.73 L440.78,59.69 L444.70,59.65 L448.69,59.61 L452.70,59.57 L456.69,59.53 L460.61,59.51 L464.39,59.50 L468.00,59.50 L471.40,59.52 L474.63,59.54 L477.73,59.58 L480.76,59.62 L483.76,59.67 L486.78,59.73 L489.87,59.80 L493.07,59.86 L496.43,59.93 L500.00,60.00 L503.97,60.08 L508.40,60.17 L513.14,60.27 L518.02,60.37 L522.90,60.48 L527.62,60.59 L532.02,60.68 L535.96,60.77 L539.27,60.84 L541.80,60.90" fill="none" stroke="#45b474" stroke-width="0.8" stroke-linejoin="round" stroke-linecap="round"/>
<path d="M392.40,104.50 L392.45,104.00 L392.50,103.35 L392.57,102.59 L392.65,101.74 L392.73,100.81 L392.82,99.84 L392.91,98.85 L393.01,97.87 L393.10,96.91 L393.20,96.00 L393.30,95.12 L393.39,94.23 L393.50,93.34 L393.60,92.44 L393.71,91.53 L393.82,90.62 L393.93,89.72 L394.05,88.81 L394.17,87.90 L394.30,87.00 L394.43,86.10 L394.57,85.18 L394.71,84.27 L394.86,83.35 L395.01,82.44 L395.16,81.53 L395.32,80.63 L395.47,79.74 L395.64,78.86 L395.80,78.00 L395.97,77.14 L396.14,76.28 L396.31,75.42 L396.49,74.56 L396.68,73.72 L396.86,72.90 L397.04,72.11 L397.23,71.36 L397.41,70.65 L397.60,70.00 L397.78,69.37 L397.96,68.76 L398.14,68.16 L398.32,67.59 L398.51,67.06 L398.69,66.59 L398.88,66.19 L399.08,65.86 L399.29,65.63 L399.50,65.50 L399.72,65.50 L399.94,65.64 L400.16,65.89 L400.38,66.22 L400.62,66.61 L400.86,67.03 L401.12,67.46 L401.39,67.86 L401.69,68.22 L402.00,68.50 L402.25,68.73 L402.38,68.96 L402.46,69.18 L402.53,69.39 L402.66,69.59 L402.89,69.76 L403.28,69.91 L403.90,70.04 L404.78,70.14 L406.00,70.20 L407.53,70.23 L409.30,70.22 L411.29,70.18 L413.49,70.12 L415.88,70.03 L418.43,69.93 L421.14,69.81 L423.98,69.68 L426.94,69.54 L430.00,69.40 L433.26,69.24 L436.80,69.05 L440.56,68.84 L444.48,68.62 L448.50,68.39 L452.56,68.16 L456.60,67.93 L460.56,67.73 L464.38,67.55 L468.00,67.40 L471.40,67.28 L474.63,67.19 L477.73,67.12 L480.76,67.06 L483.76,67.01 L486.78,66.97 L489.87,66.94 L493.07,66.90 L496.43,66.85 L500.00,66.80 L503.97,66.74 L508.40,66.67 L513.14,66.60 L518.02,66.53 L522.90,66.46 L527.62,66.40 L532.02,66.34 L535.96,66.28 L539.27,66.24 L541.80,66.20" fill="none" stroke="#bf86f3" stroke-width="0.8" stroke-linejoin="round" stroke-linecap="round"/>
<path d="M392.40,104.50 L392.45,104.12 L392.50,103.64 L392.57,103.08 L392.64,102.44 L392.72,101.75 L392.81,101.02 L392.90,100.27 L393.00,99.50 L393.10,98.74 L393.20,98.00 L393.31,97.26 L393.42,96.50 L393.54,95.71 L393.66,94.91 L393.79,94.09 L393.92,93.27 L394.06,92.45 L394.20,91.62 L394.35,90.81 L394.50,90.00 L394.66,89.19 L394.82,88.35 L395.00,87.51 L395.17,86.66 L395.36,85.81 L395.54,84.98 L395.73,84.18 L395.92,83.41 L396.11,82.68 L396.30,82.00 L396.50,81.37 L396.70,80.76 L396.91,80.19 L397.12,79.65 L397.33,79.14 L397.54,78.65 L397.75,78.20 L397.94,77.77 L398.13,77.37 L398.30,77.00 L398.46,76.64 L398.60,76.28 L398.72,75.93 L398.84,75.60 L398.96,75.31 L399.07,75.07 L399.19,74.89 L399.31,74.77 L399.45,74.74 L399.60,74.80 L399.76,74.99 L399.93,75.32 L400.11,75.77 L400.29,76.29 L400.48,76.85 L400.67,77.43 L400.87,77.98 L401.07,78.48 L401.28,78.90 L401.50,79.20 L401.62,79.39 L401.59,79.52 L401.47,79.59 L401.33,79.62 L401.24,79.61 L401.28,79.58 L401.50,79.53 L401.99,79.48 L402.80,79.43 L404.00,79.40 L405.59,79.38 L407.50,79.34 L409.69,79.30 L412.13,79.25 L414.78,79.19 L417.61,79.13 L420.58,79.06 L423.66,78.98 L426.81,78.89 L430.00,78.80 L433.34,78.69 L436.93,78.56 L440.71,78.42 L444.62,78.27 L448.62,78.11 L452.66,77.96 L456.66,77.82 L460.59,77.69 L464.39,77.58 L468.00,77.50 L471.40,77.45 L474.63,77.42 L477.73,77.40 L480.76,77.41 L483.76,77.42 L486.78,77.44 L489.87,77.46 L493.07,77.48 L496.43,77.49 L500.00,77.50 L503.97,77.50 L508.40,77.50 L513.14,77.50 L518.02,77.50 L522.90,77.50 L527.62,77.50 L532.02,77.50 L535.96,77.50 L539.27,77.50 L541.80,77.50" fill="none" stroke="#ddae48" stroke-width="0.8" stroke-linejoin="round" stroke-linecap="round"/>
<rect x="399.55" y="26.51" width="1.70" height="1.70" fill="#383838"/>
<rect x="405.35" y="24.01" width="1.70" height="1.70" fill="#383838"/>
<rect x="411.65" y="22.04" width="1.70" height="1.70" fill="#383838"/>
<rect x="417.65" y="20.96" width="1.70" height="1.70" fill="#383838"/>
<rect x="423.85" y="20.25" width="1.70" height="1.70" fill="#383838"/>
<rect x="429.85" y="19.77" width="1.70" height="1.70" fill="#383838"/>
<rect x="436.15" y="19.47" width="1.70" height="1.70" fill="#383838"/>
<rect x="442.85" y="19.35" width="1.70" height="1.70" fill="#383838"/>
<rect x="449.95" y="19.35" width="1.70" height="1.70" fill="#383838"/>
<rect x="457.05" y="19.42" width="1.70" height="1.70" fill="#383838"/>
<rect x="464.75" y="19.52" width="1.70" height="1.70" fill="#383838"/>
<rect x="472.35" y="19.62" width="1.70" height="1.70" fill="#383838"/>
<rect x="480.55" y="19.76" width="1.70" height="1.70" fill="#383838"/>
<rect x="489.35" y="19.94" width="1.70" height="1.70" fill="#383838"/>
<rect x="498.55" y="20.14" width="1.70" height="1.70" fill="#383838"/>
<rect x="507.85" y="20.33" width="1.70" height="1.70" fill="#383838"/>
<rect x="517.95" y="20.55" width="1.70" height="1.70" fill="#383838"/>
<rect x="528.55" y="20.78" width="1.70" height="1.70" fill="#383838"/>
<rect x="539.15" y="21.01" width="1.70" height="1.70" fill="#383838"/>
<rect x="540.95" y="21.05" width="1.70" height="1.70" fill="#383838"/>
<circle cx="400.40" cy="37.98" r="1.10" fill="#f5393f"/>
<circle cx="406.20" cy="36.86" r="1.10" fill="#f5393f"/>
<circle cx="412.50" cy="36.45" r="1.10" fill="#f5393f"/>
<circle cx="418.50" cy="36.12" r="1.10" fill="#f5393f"/>
<circle cx="424.70" cy="35.82" r="1.10" fill="#f5393f"/>
<circle cx="430.70" cy="35.58" r="1.10" fill="#f5393f"/>
<circle cx="437.00" cy="35.40" r="1.10" fill="#f5393f"/>
<circle cx="443.70" cy="35.32" r="1.10" fill="#f5393f"/>
<circle cx="450.80" cy="35.33" r="1.10" fill="#f5393f"/>
<circle cx="457.90" cy="35.39" r="1.10" fill="#f5393f"/>
<circle cx="465.60" cy="35.48" r="1.10" fill="#f5393f"/>
<circle cx="473.20" cy="35.55" r="1.10" fill="#f5393f"/>
<circle cx="481.40" cy="35.65" r="1.10" fill="#f5393f"/>
<circle cx="490.20" cy="35.78" r="1.10" fill="#f5393f"/>
<circle cx="499.40" cy="35.89" r="1.10" fill="#f5393f"/>
<circle cx="508.70" cy="35.99" r="1.10" fill="#f5393f"/>
<circle cx="518.80" cy="36.09" r="1.10" fill="#f5393f"/>
<circle cx="529.40" cy="36.19" r="1.10" fill="#f5393f"/>
<circle cx="540.00" cy="36.28" r="1.10" fill="#f5393f"/>
<circle cx="541.80" cy="36.30" r="1.10" fill="#f5393f"/>
<path d="M400.40,47.34 L401.60,49.54 L399.20,49.54 Z" fill="#2c6ef0"/>
<path d="M406.20,47.91 L407.40,50.11 L405.00,50.11 Z" fill="#2c6ef0"/>
<path d="M412.50,47.86 L413.70,50.06 L411.30,50.06 Z" fill="#2c6ef0"/>
<path d="M418.50,47.78 L419.70,49.98 L417.30,49.98 Z" fill="#2c6ef0"/>
<path d="M424.70,47.72 L425.90,49.92 L423.50,49.92 Z" fill="#2c6ef0"/>
<path d="M430.70,47.70 L431.90,49.90 L429.50,49.90 Z" fill="#2c6ef0"/>
<path d="M437.00,47.71 L438.20,49.91 L435.80,49.91 Z" fill="#2c6ef0"/>
<path d="M443.70,47.73 L444.90,49.93 L442.50,49.93 Z" fill="#2c6ef0"/>
<path d="M450.80,47.76 L452.00,49.96 L449.60,49.96 Z" fill="#2c6ef0"/>
<path d="M457.90,47.81 L459.10,50.01 L456.70,50.01 Z" fill="#2c6ef0"/>
<path d="M465.60,47.87 L466.80,50.07 L464.40,50.07 Z" fill="#2c6ef0"/>
<path d="M473.20,47.97 L474.40,50.17 L472.00,50.17 Z" fill="#2c6ef0"/>
<path d="M481.40,48.10 L482.60,50.30 L480.20,50.30 Z" fill="#2c6ef0"/>
<path d="M490.20,48.29 L491.40,50.49 L489.00,50.49 Z" fill="#2c6ef0"/>
<path d="M499.40,48.49 L500.60,50.69 L498.20,50.69 Z" fill="#2c6ef0"/>
<path d="M508.70,48.70 L509.90,50.90 L507.50,50.90 Z" fill="#2c6ef0"/>
<path d="M518.80,48.94 L520.00,51.14 L517.60,51.14 Z" fill="#2c6ef0"/>
<path d="M529.40,49.20 L530.60,51.40 L528.20,51.40 Z" fill="#2c6ef0"/>
<path d="M540.00,49.46 L541.20,51.66 L538.80,51.66 Z" fill="#2c6ef0"/>
<path d="M541.80,49.50 L543.00,51.70 L540.60,51.70 Z" fill="#2c6ef0"/>
<path d="M400.40,60.87 L401.60,58.67 L399.20,58.67 Z" fill="#22a055"/>
<path d="M406.20,61.12 L407.40,58.92 L405.00,58.92 Z" fill="#22a055"/>
<path d="M412.50,61.14 L413.70,58.94 L411.30,58.94 Z" fill="#22a055"/>
<path d="M418.50,61.13 L419.70,58.93 L417.30,58.93 Z" fill="#22a055"/>
<path d="M424.70,61.12 L425.90,58.92 L423.50,58.92 Z" fill="#22a055"/>
<path d="M430.70,61.10 L431.90,58.90 L429.50,58.90 Z" fill="#22a055"/>
<path d="M437.00,61.05 L438.20,58.85 L435.80,58.85 Z" fill="#22a055"/>
<path d="M443.70,60.97 L444.90,58.77 L442.50,58.77 Z" fill="#22a055"/>
<path d="M450.80,60.90 L452.00,58.70 L449.60,58.70 Z" fill="#22a055"/>
<path d="M457.90,60.83 L459.10,58.63 L456.70,58.63 Z" fill="#22a055"/>
<path d="M465.60,60.80 L466.80,58.60 L464.40,58.60 Z" fill="#22a055"/>
<path d="M473.20,60.83 L474.40,58.63 L472.00,58.63 Z" fill="#22a055"/>
<path d="M481.40,60.94 L482.60,58.74 L480.20,58.74 Z" fill="#22a055"/>
<path d="M490.20,61.12 L491.40,58.92 L489.00,58.92 Z" fill="#22a055"/>
<path d="M499.40,61.29 L500.60,59.09 L498.20,59.09 Z" fill="#22a055"/>
<path d="M508.70,61.44 L509.90,59.24 L507.50,59.24 Z" fill="#22a055"/>
<path d="M518.80,61.61 L520.00,59.41 L517.60,59.41 Z" fill="#22a055"/>
<path d="M529.40,61.79 L530.60,59.59 L528.20,59.59 Z" fill="#22a055"/>
<path d="M540.00,61.97 L541.20,59.77 L538.80,59.77 Z" fill="#22a055"/>
<path d="M541.80,62.00 L543.00,59.80 L540.60,59.80 Z" fill="#22a055"/>
<path d="M400.40,68.21 L401.50,69.51 L400.40,70.81 L399.30,69.51 Z" fill="#ad62f0"/>
<path d="M406.20,68.70 L407.30,70.00 L406.20,71.30 L405.10,70.00 Z" fill="#ad62f0"/>
<path d="M412.50,68.63 L413.60,69.93 L412.50,71.23 L411.40,69.93 Z" fill="#ad62f0"/>
<path d="M418.50,68.49 L419.60,69.79 L418.50,71.09 L417.40,69.79 Z" fill="#ad62f0"/>
<path d="M424.70,68.30 L425.80,69.60 L424.70,70.90 L423.60,69.60 Z" fill="#ad62f0"/>
<path d="M430.70,68.07 L431.80,69.37 L430.70,70.67 L429.60,69.37 Z" fill="#ad62f0"/>
<path d="M437.00,67.76 L438.10,69.06 L437.00,70.36 L435.90,69.06 Z" fill="#ad62f0"/>
<path d="M443.70,67.38 L444.80,68.68 L443.70,69.98 L442.60,68.68 Z" fill="#ad62f0"/>
<path d="M450.80,66.97 L451.90,68.27 L450.80,69.57 L449.70,68.27 Z" fill="#ad62f0"/>
<path d="M457.90,66.57 L459.00,67.87 L457.90,69.17 L456.80,67.87 Z" fill="#ad62f0"/>
<path d="M465.60,66.20 L466.70,67.50 L465.60,68.80 L464.50,67.50 Z" fill="#ad62f0"/>
<path d="M473.20,65.93 L474.30,67.23 L473.20,68.53 L472.10,67.23 Z" fill="#ad62f0"/>
<path d="M481.40,65.75 L482.50,67.05 L481.40,68.35 L480.30,67.05 Z" fill="#ad62f0"/>
<path d="M490.20,65.63 L491.30,66.93 L490.20,68.23 L489.10,66.93 Z" fill="#ad62f0"/>
<path d="M499.40,65.51 L500.50,66.81 L499.40,68.11 L498.30,66.81 Z" fill="#ad62f0"/>
<path d="M508.70,65.37 L509.80,66.67 L508.70,67.97 L507.60,66.67 Z" fill="#ad62f0"/>
<path d="M518.80,65.22 L519.90,66.52 L518.80,67.82 L517.70,66.52 Z" fill="#ad62f0"/>
<path d="M529.40,65.07 L530.50,66.37 L529.40,67.67 L528.30,66.37 Z" fill="#ad62f0"/>
<path d="M540.00,64.93 L541.10,66.23 L540.00,67.53 L538.90,66.23 Z" fill="#ad62f0"/>
<path d="M541.80,64.90 L542.90,66.20 L541.80,67.50 L540.70,66.20 Z" fill="#ad62f0"/>
<circle cx="392.80" cy="119.20" r="0.99" fill="#f5393f"/>
<path d="M392.80,111.53 L393.88,113.51 L391.72,113.51 Z" fill="#2c6ef0"/>
<path d="M399.10,79.02 L401.30,77.82 L401.30,80.22 Z" fill="#d99a1c"/>
<path d="M404.90,79.28 L407.10,78.08 L407.10,80.48 Z" fill="#d99a1c"/>
<path d="M411.20,79.19 L413.40,77.99 L413.40,80.39 Z" fill="#d99a1c"/>
<path d="M417.20,79.08 L419.40,77.88 L419.40,80.28 Z" fill="#d99a1c"/>
<path d="M423.40,78.94 L425.60,77.74 L425.60,80.14 Z" fill="#d99a1c"/>
<path d="M429.40,78.78 L431.60,77.58 L431.60,79.98 Z" fill="#d99a1c"/>
<path d="M435.70,78.57 L437.90,77.37 L437.90,79.77 Z" fill="#d99a1c"/>
<path d="M442.40,78.31 L444.60,77.11 L444.60,79.51 Z" fill="#d99a1c"/>
<path d="M449.50,78.04 L451.70,76.84 L451.70,79.24 Z" fill="#d99a1c"/>
<path d="M456.60,77.78 L458.80,76.58 L458.80,78.98 Z" fill="#d99a1c"/>
<path d="M464.30,77.55 L466.50,76.35 L466.50,78.75 Z" fill="#d99a1c"/>
<path d="M471.90,77.43 L474.10,76.23 L474.10,78.63 Z" fill="#d99a1c"/>
<path d="M480.10,77.41 L482.30,76.21 L482.30,78.61 Z" fill="#d99a1c"/>
<path d="M488.90,77.46 L491.10,76.26 L491.10,78.66 Z" fill="#d99a1c"/>
<path d="M498.10,77.50 L500.30,76.30 L500.30,78.70 Z" fill="#d99a1c"/>
<path d="M507.40,77.50 L509.60,76.30 L509.60,78.70 Z" fill="#d99a1c"/>
<path d="M517.50,77.50 L519.70,76.30 L519.70,78.70 Z" fill="#d99a1c"/>
<path d="M528.10,77.50 L530.30,76.30 L530.30,78.70 Z" fill="#d99a1c"/>
<path d="M538.70,77.50 L540.90,76.30 L540.90,78.70 Z" fill="#d99a1c"/>
<path d="M540.50,77.50 L542.70,76.30 L542.70,78.70 Z" fill="#d99a1c"/>
<rect x="32.10" y="159.90" width="152.40" height="122.60" fill="none" stroke="#5c5c5c" stroke-width="1.2"/>
<line x1="32.10" y1="282.50" x2="32.10" y2="280.50" stroke="#555" stroke-width="0.7"/>
<text x="32.10" y="289.70" font-size="5.1" text-anchor="middle" fill="#3a3a3a" stroke="#3a3a3a" stroke-width="0.22">0.0</text>
<line x1="51.15" y1="282.50" x2="51.15" y2="281.20" stroke="#555" stroke-width="0.7"/>
<line x1="70.20" y1="282.50" x2="70.20" y2="280.50" stroke="#555" stroke-width="0.7"/>
<text x="70.20" y="289.70" font-size="5.1" text-anchor="middle" fill="#3a3a3a" stroke="#3a3a3a" stroke-width="0.22">0.2</text>
<line x1="89.25" y1="282.50" x2="89.25" y2="281.20" stroke="#555" stroke-width="0.7"/>
<line x1="108.30" y1="282.50" x2="108.30" y2="280.50" stroke="#555" stroke-width="0.7"/>
<text x="108.30" y="289.70" font-size="5.1" text-anchor="middle" fill="#3a3a3a" stroke="#3a3a3a" stroke-width="0.22">0.4</text>
<line x1="127.35" y1="282.50" x2="127.35" y2="281.20" stroke="#555" stroke-width="0.7"/>
<line x1="146.40" y1="282.50" x2="146.40" y2="280.50" stroke="#555" stroke-width="0.7"/>
<text x="146.40" y="289.70" font-size="5.1" text-anchor="middle" fill="#3a3a3a" stroke="#3a3a3a" stroke-width="0.22">0.6</text>
<line x1="165.45" y1="282.50" x2="165.45" y2="281.20" stroke="#555" stroke-width="0.7"/>
<line x1="184.50" y1="282.50" x2="184.50" y2="280.50" stroke="#555" stroke-width="0.7"/>
<text x="184.50" y="289.70" font-size="5.1" text-anchor="middle" fill="#3a3a3a" stroke="#3a3a3a" stroke-width="0.22">0.8</text>
<line x1="32.10" y1="159.70" x2="34.10" y2="159.70" stroke="#555" stroke-width="0.7"/>
<text x="29.80" y="161.50" font-size="5.1" text-anchor="end" fill="#3a3a3a" stroke="#3a3a3a" stroke-width="0.22">200</text>
<line x1="32.10" y1="184.26" x2="34.10" y2="184.26" stroke="#555" stroke-width="0.7"/>
<text x="29.80" y="186.06" font-size="5.1" text-anchor="end" fill="#3a3a3a" stroke="#3a3a3a" stroke-width="0.22">160</text>
<line x1="32.10" y1="208.82" x2="34.10" y2="208.82" stroke="#555" stroke-width="0.7"/>
<text x="29.80" y="210.62" font-size="5.1" text-anchor="end" fill="#3a3a3a" stroke="#3a3a3a" stroke-width="0.22">120</text>
<line x1="32.10" y1="233.38" x2="34.10" y2="233.38" stroke="#555" stroke-width="0.7"/>
<text x="29.80" y="235.18" font-size="5.1" text-anchor="end" fill="#3a3a3a" stroke="#3a3a3a" stroke-width="0.22">80</text>
<line x1="32.10" y1="257.94" x2="34.10" y2="257.94" stroke="#555" stroke-width="0.7"/>
<text x="29.80" y="259.74" font-size="5.1" text-anchor="end" fill="#3a3a3a" stroke="#3a3a3a" stroke-width="0.22">40</text>
<line x1="32.10" y1="282.50" x2="34.10" y2="282.50" stroke="#555" stroke-width="0.7"/>
<text x="29.80" y="284.30" font-size="5.1" text-anchor="end" fill="#3a3a3a" stroke="#3a3a3a" stroke-width="0.22">0</text>
<line x1="32.10" y1="171.98" x2="33.40" y2="171.98" stroke="#555" stroke-width="0.7"/>
<line x1="32.10" y1="196.54" x2="33.40" y2="196.54" stroke="#555" stroke-width="0.7"/>
<line x1="32.10" y1="221.10" x2="33.40" y2="221.10" stroke="#555" stroke-width="0.7"/>
<line x1="32.10" y1="245.66" x2="33.40" y2="245.66" stroke="#555" stroke-width="0.7"/>
<line x1="32.10" y1="270.22" x2="33.40" y2="270.22" stroke="#555" stroke-width="0.7"/>
<text x="108.50" y="299.50" font-size="6.3" font-weight="bold" text-anchor="middle" fill="#111" stroke="#111" stroke-width="0.3">True strain</text>
<text transform="translate(17.30,211.70) rotate(-90)" font-size="6.5" font-weight="bold" text-anchor="middle" fill="#111" stroke="#111" stroke-width="0.32">True stress / MPa</text>
<text x="3.40" y="163.30" font-size="13.4" font-weight="bold" fill="#111" stroke="#111" stroke-width="0.35">(d)</text>
<g transform="translate(101.60,277.20) scale(1,1.02)"><text x="0" y="0" font-size="10.6" font-weight="bold" fill="#111" stroke="#111" stroke-width="0.5">Strain rate =5 s<tspan dy="-3.2" dx="0.2" font-size="6.1">−1</tspan></text></g>
<path d="M32.35,281.00 L32.36,280.00 L32.37,278.86 L32.38,277.58 L32.40,276.11 L32.41,274.44 L32.43,272.53 L32.46,270.36 L32.50,267.90 L32.54,265.12 L32.60,262.00 L32.67,258.32 L32.74,254.00 L32.81,249.19 L32.90,244.04 L32.99,238.72 L33.09,233.38 L33.20,228.18 L33.32,223.28 L33.46,218.83 L33.60,215.00 L33.75,211.70 L33.89,208.72 L34.04,206.02 L34.19,203.59 L34.36,201.38 L34.55,199.35 L34.76,197.49 L35.00,195.74 L35.28,194.09 L35.60,192.50 L35.96,191.04 L36.36,189.78 L36.80,188.69 L37.27,187.75 L37.76,186.92 L38.27,186.19 L38.80,185.50 L39.33,184.85 L39.87,184.19 L40.40,183.50 L40.93,182.81 L41.47,182.16 L42.01,181.55 L42.56,180.98 L43.12,180.44 L43.70,179.94 L44.30,179.47 L44.91,179.02 L45.54,178.60 L46.20,178.20 L46.89,177.83 L47.60,177.50 L48.34,177.21 L49.10,176.95 L49.87,176.71 L50.65,176.49 L51.44,176.28 L52.23,176.08 L53.02,175.89 L53.80,175.70 L54.53,175.51 L55.20,175.34 L55.83,175.17 L56.46,175.02 L57.11,174.87 L57.81,174.74 L58.59,174.62 L59.48,174.50 L60.50,174.40 L61.70,174.30 L63.12,174.21 L64.76,174.12 L66.57,174.04 L68.50,173.97 L70.49,173.91 L72.50,173.86 L74.47,173.83 L76.34,173.80 L78.07,173.79 L79.60,173.80 L80.95,173.82 L82.17,173.87 L83.28,173.93 L84.32,174.00 L85.29,174.08 L86.23,174.17 L87.15,174.27 L88.07,174.38 L89.01,174.49 L90.00,174.60 L90.99,174.71 L91.95,174.84 L92.87,174.96 L93.79,175.10 L94.71,175.24 L95.66,175.38 L96.65,175.53 L97.69,175.68 L98.80,175.84 L100.00,176.00 L101.31,176.16 L102.71,176.33 L104.20,176.51 L105.74,176.69 L107.31,176.88 L108.90,177.06 L110.49,177.25 L112.05,177.43 L113.56,177.62 L115.00,177.80 L116.34,177.97 L117.58,178.13 L118.76,178.28 L119.91,178.42 L121.06,178.58 L122.25,178.74 L123.50,178.91 L124.86,179.11 L126.34,179.34 L128.00,179.60 L129.83,179.90 L131.82,180.24 L133.92,180.62 L136.13,181.01 L138.41,181.42 L140.73,181.84 L143.08,182.26 L145.42,182.66 L147.74,183.04 L150.00,183.40 L152.30,183.74 L154.71,184.07 L157.19,184.39 L159.68,184.70 L162.16,185.01 L164.56,185.30 L166.84,185.59 L168.95,185.87 L170.86,186.14 L172.50,186.40 L173.89,186.66 L175.08,186.91 L176.09,187.16 L176.94,187.41 L177.66,187.64 L178.26,187.85 L178.77,188.05 L179.22,188.23 L179.62,188.38 L180.00,188.50" fill="none" stroke="#585858" stroke-width="0.8" stroke-linejoin="round" stroke-linecap="round"/>
<path d="M32.35,281.00 L32.36,279.95 L32.38,278.70 L32.39,277.26 L32.41,275.63 L32.42,273.81 L32.45,271.81 L32.48,269.62 L32.51,267.26 L32.55,264.71 L32.60,262.00 L32.65,258.96 L32.71,255.51 L32.77,251.74 L32.83,247.77 L32.90,243.67 L32.98,239.57 L33.07,235.55 L33.17,231.72 L33.28,228.17 L33.40,225.00 L33.53,222.14 L33.65,219.45 L33.78,216.91 L33.91,214.52 L34.06,212.29 L34.22,210.20 L34.42,208.25 L34.64,206.43 L34.90,204.75 L35.20,203.20 L35.55,201.83 L35.93,200.67 L36.36,199.69 L36.81,198.86 L37.29,198.15 L37.79,197.52 L38.30,196.94 L38.83,196.39 L39.36,195.82 L39.90,195.20 L40.44,194.57 L40.99,193.97 L41.54,193.40 L42.12,192.86 L42.70,192.35 L43.30,191.87 L43.92,191.41 L44.56,190.99 L45.22,190.58 L45.90,190.20 L46.61,189.85 L47.36,189.53 L48.13,189.24 L48.92,188.99 L49.73,188.75 L50.55,188.53 L51.37,188.34 L52.19,188.15 L53.00,187.97 L53.80,187.80 L54.54,187.64 L55.21,187.50 L55.84,187.38 L56.46,187.27 L57.10,187.17 L57.79,187.08 L58.57,187.00 L59.45,186.93 L60.49,186.87 L61.70,186.80 L63.10,186.74 L64.67,186.67 L66.37,186.61 L68.19,186.56 L70.09,186.52 L72.06,186.49 L74.06,186.47 L76.06,186.46 L78.05,186.47 L80.00,186.50 L81.95,186.55 L83.97,186.62 L86.03,186.71 L88.12,186.82 L90.21,186.93 L92.28,187.06 L94.31,187.19 L96.29,187.33 L98.19,187.46 L100.00,187.60 L101.71,187.74 L103.35,187.89 L104.93,188.05 L106.46,188.21 L107.94,188.38 L109.38,188.55 L110.80,188.72 L112.21,188.88 L113.60,189.05 L115.00,189.20 L116.34,189.34 L117.58,189.47 L118.76,189.58 L119.91,189.70 L121.06,189.81 L122.25,189.93 L123.50,190.07 L124.86,190.22 L126.34,190.40 L128.00,190.60 L129.82,190.84 L131.78,191.10 L133.84,191.38 L136.01,191.68 L138.25,192.00 L140.55,192.32 L142.90,192.65 L145.26,192.97 L147.64,193.29 L150.00,193.60 L152.47,193.91 L155.13,194.23 L157.91,194.55 L160.74,194.88 L163.56,195.20 L166.30,195.52 L168.88,195.82 L171.23,196.10 L173.30,196.36 L175.00,196.60 L176.33,196.81 L177.36,197.00 L178.13,197.18 L178.68,197.34 L179.06,197.49 L179.32,197.62 L179.50,197.73 L179.64,197.84 L179.79,197.92 L180.00,198.00" fill="none" stroke="#f5605f" stroke-width="0.8" stroke-linejoin="round" stroke-linecap="round"/>
<path d="M32.35,281.00 L32.36,279.94 L32.38,278.66 L32.39,277.17 L32.41,275.49 L32.43,273.62 L32.46,271.59 L32.48,269.40 L32.52,267.06 L32.56,264.59 L32.60,262.00 L32.65,259.13 L32.70,255.89 L32.75,252.38 L32.80,248.68 L32.86,244.90 L32.93,241.12 L33.00,237.45 L33.09,233.98 L33.19,230.80 L33.30,228.00 L33.42,225.54 L33.52,223.31 L33.64,221.26 L33.75,219.39 L33.89,217.67 L34.04,216.08 L34.22,214.60 L34.44,213.21 L34.70,211.88 L35.00,210.60 L35.36,209.40 L35.76,208.34 L36.20,207.39 L36.68,206.54 L37.18,205.77 L37.71,205.08 L38.25,204.44 L38.80,203.84 L39.35,203.26 L39.90,202.70 L40.45,202.17 L41.00,201.70 L41.56,201.29 L42.13,200.93 L42.71,200.61 L43.31,200.31 L43.93,200.05 L44.56,199.79 L45.22,199.55 L45.90,199.30 L46.58,199.06 L47.23,198.84 L47.87,198.64 L48.52,198.45 L49.21,198.29 L49.95,198.14 L50.76,198.01 L51.66,197.89 L52.67,197.79 L53.80,197.70 L55.04,197.63 L56.37,197.59 L57.77,197.57 L59.26,197.57 L60.83,197.57 L62.49,197.59 L64.23,197.62 L66.06,197.65 L67.99,197.68 L70.00,197.70 L72.21,197.72 L74.68,197.73 L77.33,197.74 L80.09,197.76 L82.89,197.78 L85.66,197.81 L88.33,197.86 L90.82,197.92 L93.07,198.00 L95.00,198.10 L96.52,198.23 L97.64,198.38 L98.47,198.55 L99.12,198.73 L99.69,198.93 L100.28,199.14 L101.00,199.35 L101.96,199.57 L103.26,199.79 L105.00,200.00 L107.21,200.22 L109.80,200.44 L112.69,200.67 L115.80,200.91 L119.06,201.15 L122.40,201.39 L125.74,201.63 L129.00,201.86 L132.11,202.08 L135.00,202.30 L137.76,202.51 L140.53,202.72 L143.28,202.93 L145.98,203.13 L148.62,203.33 L151.18,203.52 L153.61,203.71 L155.91,203.88 L158.05,204.05 L160.00,204.20 L161.75,204.34 L163.31,204.45 L164.70,204.56 L165.96,204.66 L167.10,204.74 L168.16,204.83 L169.15,204.91 L170.10,205.00 L171.04,205.10 L172.00,205.20 L172.96,205.32 L173.89,205.45 L174.79,205.58 L175.65,205.72 L176.45,205.86 L177.19,206.00 L177.87,206.12 L178.47,206.23 L178.98,206.33 L179.40,206.40" fill="none" stroke="#5590f2" stroke-width="0.8" stroke-linejoin="round" stroke-linecap="round"/>
<path d="M32.35,281.00 L32.36,279.92 L32.38,278.59 L32.39,277.04 L32.41,275.30 L32.43,273.38 L32.46,271.30 L32.48,269.11 L32.52,266.81 L32.56,264.43 L32.60,262.00 L32.65,259.38 L32.70,256.49 L32.75,253.38 L32.80,250.14 L32.86,246.84 L32.93,243.55 L33.00,240.35 L33.09,237.31 L33.19,234.50 L33.30,232.00 L33.42,229.76 L33.52,227.69 L33.64,225.77 L33.75,223.98 L33.89,222.33 L34.04,220.79 L34.22,219.36 L34.44,218.02 L34.70,216.77 L35.00,215.60 L35.36,214.53 L35.76,213.60 L36.20,212.79 L36.68,212.08 L37.18,211.46 L37.71,210.92 L38.25,210.44 L38.80,210.00 L39.35,209.59 L39.90,209.20 L40.37,208.85 L40.74,208.58 L41.05,208.37 L41.35,208.22 L41.70,208.11 L42.14,208.03 L42.73,207.97 L43.52,207.92 L44.56,207.87 L45.90,207.80 L47.53,207.73 L49.39,207.66 L51.46,207.61 L53.71,207.57 L56.14,207.54 L58.71,207.53 L61.40,207.53 L64.19,207.54 L67.07,207.56 L70.00,207.60 L73.08,207.65 L76.38,207.72 L79.86,207.81 L83.46,207.91 L87.13,208.02 L90.84,208.14 L94.52,208.27 L98.15,208.41 L101.65,208.55 L105.00,208.70 L108.22,208.86 L111.40,209.03 L114.53,209.21 L117.60,209.41 L120.62,209.61 L123.60,209.81 L126.53,210.01 L129.40,210.21 L132.22,210.41 L135.00,210.60 L137.76,210.79 L140.53,210.98 L143.28,211.18 L145.98,211.38 L148.62,211.57 L151.18,211.76 L153.61,211.94 L155.91,212.11 L158.05,212.26 L160.00,212.40 L161.75,212.52 L163.31,212.62 L164.70,212.70 L165.96,212.77 L167.10,212.84 L168.16,212.90 L169.15,212.96 L170.10,213.03 L171.04,213.11 L172.00,213.20 L172.96,213.31 L173.89,213.43 L174.79,213.57 L175.65,213.71 L176.45,213.85 L177.19,213.99 L177.87,214.12 L178.47,214.23 L178.98,214.33 L179.40,214.40" fill="none" stroke="#45b474" stroke-width="0.8" stroke-linejoin="round" stroke-linecap="round"/>
<path d="M32.35,281.00 L32.36,279.92 L32.38,278.59 L32.39,277.04 L32.41,275.30 L32.43,273.38 L32.46,271.30 L32.48,269.11 L32.52,266.81 L32.56,264.43 L32.60,262.00 L32.65,259.37 L32.70,256.42 L32.76,253.26 L32.82,249.95 L32.89,246.59 L32.96,243.27 L33.04,240.06 L33.12,237.06 L33.21,234.34 L33.30,232.00 L33.39,230.00 L33.49,228.25 L33.58,226.70 L33.68,225.34 L33.79,224.14 L33.90,223.06 L34.03,222.09 L34.17,221.19 L34.33,220.34 L34.50,219.50 L34.70,218.73 L34.91,218.06 L35.14,217.50 L35.38,217.03 L35.64,216.63 L35.90,216.29 L36.17,216.00 L36.45,215.75 L36.72,215.52 L37.00,215.30 L37.20,215.12 L37.30,215.00 L37.33,214.93 L37.35,214.91 L37.41,214.93 L37.55,214.96 L37.83,215.00 L38.30,215.05 L39.01,215.09 L40.00,215.10 L41.20,215.10 L42.51,215.10 L43.96,215.09 L45.58,215.09 L47.38,215.10 L49.38,215.11 L51.63,215.14 L54.13,215.18 L56.91,215.23 L60.00,215.30 L63.53,215.39 L67.56,215.51 L71.98,215.65 L76.68,215.80 L81.56,215.96 L86.52,216.12 L91.45,216.28 L96.24,216.43 L100.79,216.57 L105.00,216.70 L108.89,216.81 L112.57,216.91 L116.10,217.00 L119.51,217.09 L122.85,217.17 L126.16,217.25 L129.49,217.33 L132.88,217.42 L136.37,217.50 L140.00,217.60 L143.94,217.71 L148.23,217.82 L152.74,217.95 L157.33,218.08 L161.89,218.21 L166.27,218.33 L170.34,218.44 L173.97,218.55 L177.04,218.63 L179.40,218.70" fill="none" stroke="#bf86f3" stroke-width="0.8" stroke-linejoin="round" stroke-linecap="round"/>
<path d="M32.35,281.00 L32.36,279.88 L32.38,278.46 L32.40,276.79 L32.42,274.91 L32.45,272.88 L32.48,270.73 L32.51,268.52 L32.54,266.30 L32.57,264.11 L32.60,262.00 L32.63,259.89 L32.66,257.70 L32.68,255.43 L32.71,253.13 L32.74,250.81 L32.78,248.51 L32.82,246.25 L32.87,244.06 L32.93,241.97 L33.00,240.00 L33.08,238.09 L33.18,236.18 L33.28,234.29 L33.39,232.46 L33.51,230.70 L33.64,229.05 L33.77,227.52 L33.91,226.16 L34.05,224.97 L34.20,224.00 L34.26,223.27 L34.17,222.78 L34.00,222.50 L33.81,222.37 L33.68,222.36 L33.65,222.44 L33.81,222.56 L34.21,222.69 L34.92,222.78 L36.00,222.80 L37.41,222.78 L39.04,222.79 L40.91,222.81 L42.99,222.85 L45.30,222.91 L47.82,222.99 L50.56,223.08 L53.50,223.17 L56.65,223.28 L60.00,223.40 L63.69,223.53 L67.82,223.69 L72.27,223.87 L76.97,224.06 L81.81,224.26 L86.71,224.46 L91.57,224.66 L96.30,224.85 L100.81,225.03 L105.00,225.20 L108.89,225.35 L112.57,225.49 L116.10,225.63 L119.51,225.76 L122.85,225.88 L126.16,226.00 L129.49,226.13 L132.88,226.25 L136.37,226.37 L140.00,226.50 L143.94,226.64 L148.23,226.78 L152.74,226.93 L157.33,227.08 L161.89,227.23 L166.27,227.37 L170.34,227.51 L173.97,227.62 L177.04,227.72 L179.40,227.80" fill="none" stroke="#ddae48" stroke-width="0.8" stroke-linejoin="round" stroke-linecap="round"/>
<rect x="40.52" y="172.52" width="1.36" height="1.36" fill="#383838"/>
<rect x="43.06" y="173.06" width="1.36" height="1.36" fill="#383838"/>
<rect x="45.62" y="173.60" width="1.36" height="1.36" fill="#383838"/>
<rect x="48.20" y="174.15" width="1.36" height="1.36" fill="#383838"/>
<rect x="50.80" y="174.70" width="1.36" height="1.36" fill="#383838"/>
<rect x="53.42" y="175.26" width="1.36" height="1.36" fill="#383838"/>
<rect x="56.07" y="175.83" width="1.36" height="1.36" fill="#383838"/>
<rect x="58.73" y="176.39" width="1.36" height="1.36" fill="#383838"/>
<rect x="61.42" y="176.98" width="1.36" height="1.36" fill="#383838"/>
<rect x="64.12" y="177.60" width="1.36" height="1.36" fill="#383838"/>
<rect x="66.85" y="178.23" width="1.36" height="1.36" fill="#383838"/>
<rect x="69.60" y="178.87" width="1.36" height="1.36" fill="#383838"/>
<rect x="72.37" y="179.48" width="1.36" height="1.36" fill="#383838"/>
<rect x="75.16" y="180.07" width="1.36" height="1.36" fill="#383838"/>
<rect x="77.97" y="180.59" width="1.36" height="1.36" fill="#383838"/>
<rect x="80.80" y="181.05" width="1.36" height="1.36" fill="#383838"/>
<rect x="83.65" y="181.43" width="1.36" height="1.36" fill="#383838"/>
<rect x="86.52" y="181.74" width="1.36" height="1.36" fill="#383838"/>
<rect x="89.42" y="182.02" width="1.36" height="1.36" fill="#383838"/>
<rect x="92.33" y="182.27" width="1.36" height="1.36" fill="#383838"/>
<rect x="95.27" y="182.53" width="1.36" height="1.36" fill="#383838"/>
<rect x="98.22" y="182.81" width="1.36" height="1.36" fill="#383838"/>
<rect x="101.20" y="183.11" width="1.36" height="1.36" fill="#383838"/>
<rect x="104.20" y="183.43" width="1.36" height="1.36" fill="#383838"/>
<rect x="107.22" y="183.75" width="1.36" height="1.36" fill="#383838"/>
<rect x="110.26" y="184.08" width="1.36" height="1.36" fill="#383838"/>
<rect x="113.32" y="184.40" width="1.36" height="1.36" fill="#383838"/>
<rect x="116.40" y="184.72" width="1.36" height="1.36" fill="#383838"/>
<rect x="119.50" y="185.04" width="1.36" height="1.36" fill="#383838"/>
<rect x="122.63" y="185.34" width="1.36" height="1.36" fill="#383838"/>
<rect x="125.77" y="185.63" width="1.36" height="1.36" fill="#383838"/>
<rect x="128.94" y="185.89" width="1.36" height="1.36" fill="#383838"/>
<rect x="132.12" y="186.11" width="1.36" height="1.36" fill="#383838"/>
<rect x="135.33" y="186.27" width="1.36" height="1.36" fill="#383838"/>
<rect x="138.56" y="186.38" width="1.36" height="1.36" fill="#383838"/>
<rect x="141.81" y="186.45" width="1.36" height="1.36" fill="#383838"/>
<rect x="145.08" y="186.51" width="1.36" height="1.36" fill="#383838"/>
<rect x="148.37" y="186.59" width="1.36" height="1.36" fill="#383838"/>
<rect x="151.68" y="186.70" width="1.36" height="1.36" fill="#383838"/>
<rect x="155.01" y="186.80" width="1.36" height="1.36" fill="#383838"/>
<rect x="158.36" y="186.90" width="1.36" height="1.36" fill="#383838"/>
<rect x="161.74" y="187.01" width="1.36" height="1.36" fill="#383838"/>
<rect x="165.13" y="187.11" width="1.36" height="1.36" fill="#383838"/>
<rect x="168.55" y="187.22" width="1.36" height="1.36" fill="#383838"/>
<rect x="171.98" y="187.33" width="1.36" height="1.36" fill="#383838"/>
<rect x="175.44" y="187.47" width="1.36" height="1.36" fill="#383838"/>
<rect x="178.92" y="187.82" width="1.36" height="1.36" fill="#383838"/>
<circle cx="41.20" cy="183.13" r="0.88" fill="#f5393f"/>
<circle cx="43.74" cy="184.39" r="0.88" fill="#f5393f"/>
<circle cx="46.30" cy="185.49" r="0.88" fill="#f5393f"/>
<circle cx="48.88" cy="186.35" r="0.88" fill="#f5393f"/>
<circle cx="51.48" cy="187.00" r="0.88" fill="#f5393f"/>
<circle cx="54.10" cy="187.56" r="0.88" fill="#f5393f"/>
<circle cx="56.75" cy="188.07" r="0.88" fill="#f5393f"/>
<circle cx="59.41" cy="188.57" r="0.88" fill="#f5393f"/>
<circle cx="62.10" cy="189.05" r="0.88" fill="#f5393f"/>
<circle cx="64.80" cy="189.53" r="0.88" fill="#f5393f"/>
<circle cx="67.53" cy="190.01" r="0.88" fill="#f5393f"/>
<circle cx="70.28" cy="190.51" r="0.88" fill="#f5393f"/>
<circle cx="73.05" cy="191.06" r="0.88" fill="#f5393f"/>
<circle cx="75.84" cy="191.61" r="0.88" fill="#f5393f"/>
<circle cx="78.65" cy="192.03" r="0.88" fill="#f5393f"/>
<circle cx="81.48" cy="192.37" r="0.88" fill="#f5393f"/>
<circle cx="84.33" cy="192.66" r="0.88" fill="#f5393f"/>
<circle cx="87.20" cy="192.92" r="0.88" fill="#f5393f"/>
<circle cx="90.10" cy="193.18" r="0.88" fill="#f5393f"/>
<circle cx="93.01" cy="193.42" r="0.88" fill="#f5393f"/>
<circle cx="95.95" cy="193.66" r="0.88" fill="#f5393f"/>
<circle cx="98.90" cy="193.91" r="0.88" fill="#f5393f"/>
<circle cx="101.88" cy="194.16" r="0.88" fill="#f5393f"/>
<circle cx="104.88" cy="194.42" r="0.88" fill="#f5393f"/>
<circle cx="107.90" cy="194.67" r="0.88" fill="#f5393f"/>
<circle cx="110.94" cy="194.93" r="0.88" fill="#f5393f"/>
<circle cx="114.00" cy="195.19" r="0.88" fill="#f5393f"/>
<circle cx="117.08" cy="195.45" r="0.88" fill="#f5393f"/>
<circle cx="120.18" cy="195.70" r="0.88" fill="#f5393f"/>
<circle cx="123.31" cy="195.94" r="0.88" fill="#f5393f"/>
<circle cx="126.45" cy="196.17" r="0.88" fill="#f5393f"/>
<circle cx="129.62" cy="196.38" r="0.88" fill="#f5393f"/>
<circle cx="132.80" cy="196.55" r="0.88" fill="#f5393f"/>
<circle cx="136.01" cy="196.69" r="0.88" fill="#f5393f"/>
<circle cx="139.24" cy="196.78" r="0.88" fill="#f5393f"/>
<circle cx="142.49" cy="196.84" r="0.88" fill="#f5393f"/>
<circle cx="145.76" cy="196.89" r="0.88" fill="#f5393f"/>
<circle cx="149.05" cy="196.97" r="0.88" fill="#f5393f"/>
<circle cx="152.36" cy="197.07" r="0.88" fill="#f5393f"/>
<circle cx="155.69" cy="197.17" r="0.88" fill="#f5393f"/>
<circle cx="159.04" cy="197.27" r="0.88" fill="#f5393f"/>
<circle cx="162.42" cy="197.37" r="0.88" fill="#f5393f"/>
<circle cx="165.81" cy="197.47" r="0.88" fill="#f5393f"/>
<circle cx="169.23" cy="197.58" r="0.88" fill="#f5393f"/>
<circle cx="172.66" cy="197.70" r="0.88" fill="#f5393f"/>
<circle cx="176.12" cy="197.86" r="0.88" fill="#f5393f"/>
<circle cx="179.60" cy="198.40" r="0.88" fill="#f5393f"/>
<path d="M41.20,194.68 L42.16,196.44 L40.24,196.44 Z" fill="#2c6ef0"/>
<path d="M43.74,194.88 L44.70,196.64 L42.78,196.64 Z" fill="#2c6ef0"/>
<path d="M46.30,195.09 L47.26,196.85 L45.34,196.85 Z" fill="#2c6ef0"/>
<path d="M48.88,195.30 L49.84,197.06 L47.92,197.06 Z" fill="#2c6ef0"/>
<path d="M51.48,195.50 L52.44,197.26 L50.52,197.26 Z" fill="#2c6ef0"/>
<path d="M54.10,195.71 L55.06,197.47 L53.14,197.47 Z" fill="#2c6ef0"/>
<path d="M56.75,195.92 L57.71,197.68 L55.79,197.68 Z" fill="#2c6ef0"/>
<path d="M59.41,196.12 L60.37,197.88 L58.45,197.88 Z" fill="#2c6ef0"/>
<path d="M62.10,196.32 L63.06,198.08 L61.14,198.08 Z" fill="#2c6ef0"/>
<path d="M64.80,196.52 L65.76,198.28 L63.84,198.28 Z" fill="#2c6ef0"/>
<path d="M67.53,196.71 L68.49,198.47 L66.57,198.47 Z" fill="#2c6ef0"/>
<path d="M70.28,196.90 L71.24,198.66 L69.32,198.66 Z" fill="#2c6ef0"/>
<path d="M73.05,197.08 L74.01,198.84 L72.09,198.84 Z" fill="#2c6ef0"/>
<path d="M75.84,197.26 L76.80,199.02 L74.88,199.02 Z" fill="#2c6ef0"/>
<path d="M78.65,197.44 L79.61,199.20 L77.69,199.20 Z" fill="#2c6ef0"/>
<path d="M81.48,197.61 L82.44,199.37 L80.52,199.37 Z" fill="#2c6ef0"/>
<path d="M84.33,197.79 L85.29,199.55 L83.37,199.55 Z" fill="#2c6ef0"/>
<path d="M87.20,197.96 L88.16,199.72 L86.24,199.72 Z" fill="#2c6ef0"/>
<path d="M90.10,198.13 L91.06,199.89 L89.14,199.89 Z" fill="#2c6ef0"/>
<path d="M93.01,198.31 L93.97,200.07 L92.05,200.07 Z" fill="#2c6ef0"/>
<path d="M95.95,198.48 L96.91,200.24 L94.99,200.24 Z" fill="#2c6ef0"/>
<path d="M98.90,198.65 L99.86,200.41 L97.94,200.41 Z" fill="#2c6ef0"/>
<path d="M101.88,198.82 L102.84,200.58 L100.92,200.58 Z" fill="#2c6ef0"/>
<path d="M104.88,198.99 L105.84,200.75 L103.92,200.75 Z" fill="#2c6ef0"/>
<path d="M107.90,199.15 L108.86,200.91 L106.94,200.91 Z" fill="#2c6ef0"/>
<path d="M110.94,199.31 L111.90,201.07 L109.98,201.07 Z" fill="#2c6ef0"/>
<path d="M114.00,199.46 L114.96,201.22 L113.04,201.22 Z" fill="#2c6ef0"/>
<path d="M117.08,199.60 L118.04,201.36 L116.12,201.36 Z" fill="#2c6ef0"/>
<path d="M120.18,199.72 L121.14,201.48 L119.22,201.48 Z" fill="#2c6ef0"/>
<path d="M123.31,199.85 L124.27,201.61 L122.35,201.61 Z" fill="#2c6ef0"/>
<path d="M126.45,199.98 L127.41,201.74 L125.49,201.74 Z" fill="#2c6ef0"/>
<path d="M129.62,200.14 L130.58,201.90 L128.66,201.90 Z" fill="#2c6ef0"/>
<path d="M132.80,200.33 L133.76,202.09 L131.84,202.09 Z" fill="#2c6ef0"/>
<path d="M136.01,200.54 L136.97,202.30 L135.05,202.30 Z" fill="#2c6ef0"/>
<path d="M139.24,200.77 L140.20,202.53 L138.28,202.53 Z" fill="#2c6ef0"/>
<path d="M142.49,201.01 L143.45,202.77 L141.53,202.77 Z" fill="#2c6ef0"/>
<path d="M145.76,201.22 L146.72,202.98 L144.80,202.98 Z" fill="#2c6ef0"/>
<path d="M149.05,201.41 L150.01,203.17 L148.09,203.17 Z" fill="#2c6ef0"/>
<path d="M152.36,201.57 L153.32,203.33 L151.40,203.33 Z" fill="#2c6ef0"/>
<path d="M155.69,201.70 L156.65,203.46 L154.73,203.46 Z" fill="#2c6ef0"/>
<path d="M159.04,201.83 L160.00,203.59 L158.08,203.59 Z" fill="#2c6ef0"/>
<path d="M162.42,201.94 L163.38,203.70 L161.46,203.70 Z" fill="#2c6ef0"/>
<path d="M165.81,202.06 L166.77,203.82 L164.85,203.82 Z" fill="#2c6ef0"/>
<path d="M169.23,202.17 L170.19,203.93 L168.27,203.93 Z" fill="#2c6ef0"/>
<path d="M172.66,202.28 L173.62,204.04 L171.70,204.04 Z" fill="#2c6ef0"/>
<path d="M176.12,202.40 L177.08,204.16 L175.16,204.16 Z" fill="#2c6ef0"/>
<path d="M179.60,202.56 L180.56,204.32 L178.64,204.32 Z" fill="#2c6ef0"/>
<path d="M41.20,207.44 L42.16,205.68 L40.24,205.68 Z" fill="#22a055"/>
<path d="M43.74,207.51 L44.70,205.75 L42.78,205.75 Z" fill="#22a055"/>
<path d="M46.30,207.58 L47.26,205.82 L45.34,205.82 Z" fill="#22a055"/>
<path d="M48.88,207.65 L49.84,205.89 L47.92,205.89 Z" fill="#22a055"/>
<path d="M51.48,207.72 L52.44,205.96 L50.52,205.96 Z" fill="#22a055"/>
<path d="M54.10,207.79 L55.06,206.03 L53.14,206.03 Z" fill="#22a055"/>
<path d="M56.75,207.87 L57.71,206.11 L55.79,206.11 Z" fill="#22a055"/>
<path d="M59.41,207.95 L60.37,206.19 L58.45,206.19 Z" fill="#22a055"/>
<path d="M62.10,208.04 L63.06,206.28 L61.14,206.28 Z" fill="#22a055"/>
<path d="M64.80,208.13 L65.76,206.37 L63.84,206.37 Z" fill="#22a055"/>
<path d="M67.53,208.24 L68.49,206.48 L66.57,206.48 Z" fill="#22a055"/>
<path d="M70.28,208.35 L71.24,206.59 L69.32,206.59 Z" fill="#22a055"/>
<path d="M73.05,208.48 L74.01,206.72 L72.09,206.72 Z" fill="#22a055"/>
<path d="M75.84,208.63 L76.80,206.87 L74.88,206.87 Z" fill="#22a055"/>
<path d="M78.65,208.78 L79.61,207.02 L77.69,207.02 Z" fill="#22a055"/>
<path d="M81.48,208.94 L82.44,207.18 L80.52,207.18 Z" fill="#22a055"/>
<path d="M84.33,209.10 L85.29,207.34 L83.37,207.34 Z" fill="#22a055"/>
<path d="M87.20,209.27 L88.16,207.51 L86.24,207.51 Z" fill="#22a055"/>
<path d="M90.10,209.44 L91.06,207.68 L89.14,207.68 Z" fill="#22a055"/>
<path d="M93.01,209.61 L93.97,207.85 L92.05,207.85 Z" fill="#22a055"/>
<path d="M95.95,209.77 L96.91,208.01 L94.99,208.01 Z" fill="#22a055"/>
<path d="M98.90,209.94 L99.86,208.18 L97.94,208.18 Z" fill="#22a055"/>
<path d="M101.88,210.09 L102.84,208.33 L100.92,208.33 Z" fill="#22a055"/>
<path d="M104.88,210.23 L105.84,208.47 L103.92,208.47 Z" fill="#22a055"/>
<path d="M107.90,210.37 L108.86,208.61 L106.94,208.61 Z" fill="#22a055"/>
<path d="M110.94,210.50 L111.90,208.74 L109.98,208.74 Z" fill="#22a055"/>
<path d="M114.00,210.63 L114.96,208.87 L113.04,208.87 Z" fill="#22a055"/>
<path d="M117.08,210.75 L118.04,208.99 L116.12,208.99 Z" fill="#22a055"/>
<path d="M120.18,210.87 L121.14,209.11 L119.22,209.11 Z" fill="#22a055"/>
<path d="M123.31,210.98 L124.27,209.22 L122.35,209.22 Z" fill="#22a055"/>
<path d="M126.45,211.09 L127.41,209.33 L125.49,209.33 Z" fill="#22a055"/>
<path d="M129.62,211.20 L130.58,209.44 L128.66,209.44 Z" fill="#22a055"/>
<path d="M132.80,211.31 L133.76,209.55 L131.84,209.55 Z" fill="#22a055"/>
<path d="M136.01,211.41 L136.97,209.65 L135.05,209.65 Z" fill="#22a055"/>
<path d="M139.24,211.52 L140.20,209.76 L138.28,209.76 Z" fill="#22a055"/>
<path d="M142.49,211.62 L143.45,209.86 L141.53,209.86 Z" fill="#22a055"/>
<path d="M145.76,211.72 L146.72,209.96 L144.80,209.96 Z" fill="#22a055"/>
<path d="M149.05,211.81 L150.01,210.05 L148.09,210.05 Z" fill="#22a055"/>
<path d="M152.36,211.91 L153.32,210.15 L151.40,210.15 Z" fill="#22a055"/>
<path d="M155.69,212.00 L156.65,210.24 L154.73,210.24 Z" fill="#22a055"/>
<path d="M159.04,212.09 L160.00,210.33 L158.08,210.33 Z" fill="#22a055"/>
<path d="M162.42,212.18 L163.38,210.42 L161.46,210.42 Z" fill="#22a055"/>
<path d="M165.81,212.27 L166.77,210.51 L164.85,210.51 Z" fill="#22a055"/>
<path d="M169.23,212.36 L170.19,210.60 L168.27,210.60 Z" fill="#22a055"/>
<path d="M172.66,212.45 L173.62,210.69 L171.70,210.69 Z" fill="#22a055"/>
<path d="M176.12,212.55 L177.08,210.79 L175.16,210.79 Z" fill="#22a055"/>
<path d="M179.60,212.64 L180.56,210.88 L178.64,210.88 Z" fill="#22a055"/>
<path d="M37.00,213.16 L37.88,214.20 L37.00,215.24 L36.12,214.20 Z" fill="#ad62f0"/>
<path d="M39.56,213.22 L40.44,214.26 L39.56,215.30 L38.68,214.26 Z" fill="#ad62f0"/>
<path d="M42.14,213.27 L43.02,214.31 L42.14,215.35 L41.26,214.31 Z" fill="#ad62f0"/>
<path d="M44.74,213.32 L45.62,214.36 L44.74,215.40 L43.86,214.36 Z" fill="#ad62f0"/>
<path d="M47.37,213.38 L48.25,214.42 L47.37,215.46 L46.49,214.42 Z" fill="#ad62f0"/>
<path d="M50.01,213.43 L50.89,214.47 L50.01,215.51 L49.13,214.47 Z" fill="#ad62f0"/>
<path d="M52.67,213.49 L53.55,214.53 L52.67,215.57 L51.79,214.53 Z" fill="#ad62f0"/>
<path d="M55.36,213.55 L56.24,214.59 L55.36,215.63 L54.48,214.59 Z" fill="#ad62f0"/>
<path d="M58.06,213.62 L58.94,214.66 L58.06,215.70 L57.18,214.66 Z" fill="#ad62f0"/>
<path d="M60.78,213.68 L61.66,214.72 L60.78,215.76 L59.90,214.72 Z" fill="#ad62f0"/>
<path d="M63.53,213.76 L64.41,214.80 L63.53,215.84 L62.65,214.80 Z" fill="#ad62f0"/>
<path d="M66.30,213.84 L67.18,214.88 L66.30,215.92 L65.42,214.88 Z" fill="#ad62f0"/>
<path d="M69.08,213.93 L69.96,214.97 L69.08,216.01 L68.20,214.97 Z" fill="#ad62f0"/>
<path d="M71.89,214.03 L72.77,215.07 L71.89,216.11 L71.01,215.07 Z" fill="#ad62f0"/>
<path d="M74.72,214.14 L75.60,215.18 L74.72,216.22 L73.84,215.18 Z" fill="#ad62f0"/>
<path d="M77.57,214.27 L78.45,215.31 L77.57,216.35 L76.69,215.31 Z" fill="#ad62f0"/>
<path d="M80.44,214.40 L81.32,215.44 L80.44,216.48 L79.56,215.44 Z" fill="#ad62f0"/>
<path d="M83.33,214.55 L84.21,215.59 L83.33,216.63 L82.45,215.59 Z" fill="#ad62f0"/>
<path d="M86.24,214.69 L87.12,215.73 L86.24,216.77 L85.36,215.73 Z" fill="#ad62f0"/>
<path d="M89.17,214.84 L90.05,215.88 L89.17,216.92 L88.29,215.88 Z" fill="#ad62f0"/>
<path d="M92.12,214.99 L93.00,216.03 L92.12,217.07 L91.24,216.03 Z" fill="#ad62f0"/>
<path d="M95.09,215.13 L95.97,216.17 L95.09,217.21 L94.21,216.17 Z" fill="#ad62f0"/>
<path d="M98.09,215.27 L98.97,216.31 L98.09,217.35 L97.21,216.31 Z" fill="#ad62f0"/>
<path d="M101.10,215.40 L101.98,216.44 L101.10,217.48 L100.22,216.44 Z" fill="#ad62f0"/>
<path d="M104.13,215.53 L105.01,216.57 L104.13,217.61 L103.25,216.57 Z" fill="#ad62f0"/>
<path d="M107.19,215.64 L108.07,216.68 L107.19,217.72 L106.31,216.68 Z" fill="#ad62f0"/>
<path d="M110.26,215.74 L111.14,216.78 L110.26,217.82 L109.38,216.78 Z" fill="#ad62f0"/>
<path d="M113.36,215.84 L114.24,216.88 L113.36,217.92 L112.48,216.88 Z" fill="#ad62f0"/>
<path d="M116.48,215.94 L117.36,216.98 L116.48,218.02 L115.60,216.98 Z" fill="#ad62f0"/>
<path d="M119.61,216.03 L120.49,217.07 L119.61,218.11 L118.73,217.07 Z" fill="#ad62f0"/>
<path d="M122.77,216.11 L123.65,217.15 L122.77,218.19 L121.89,217.15 Z" fill="#ad62f0"/>
<path d="M125.95,216.20 L126.83,217.24 L125.95,218.28 L125.07,217.24 Z" fill="#ad62f0"/>
<path d="M129.15,216.28 L130.03,217.32 L129.15,218.36 L128.27,217.32 Z" fill="#ad62f0"/>
<path d="M132.37,216.36 L133.25,217.40 L132.37,218.44 L131.49,217.40 Z" fill="#ad62f0"/>
<path d="M135.61,216.44 L136.49,217.48 L135.61,218.52 L134.73,217.48 Z" fill="#ad62f0"/>
<path d="M138.87,216.53 L139.75,217.57 L138.87,218.61 L137.99,217.57 Z" fill="#ad62f0"/>
<path d="M142.15,216.62 L143.03,217.66 L142.15,218.70 L141.27,217.66 Z" fill="#ad62f0"/>
<path d="M145.45,216.70 L146.33,217.74 L145.45,218.78 L144.57,217.74 Z" fill="#ad62f0"/>
<path d="M148.77,216.79 L149.65,217.83 L148.77,218.87 L147.89,217.83 Z" fill="#ad62f0"/>
<path d="M152.11,216.87 L152.99,217.91 L152.11,218.95 L151.23,217.91 Z" fill="#ad62f0"/>
<path d="M155.48,216.96 L156.36,218.00 L155.48,219.04 L154.60,218.00 Z" fill="#ad62f0"/>
<path d="M158.86,217.04 L159.74,218.08 L158.86,219.12 L157.98,218.08 Z" fill="#ad62f0"/>
<path d="M162.27,217.13 L163.15,218.17 L162.27,219.21 L161.39,218.17 Z" fill="#ad62f0"/>
<path d="M165.69,217.21 L166.57,218.25 L165.69,219.29 L164.81,218.25 Z" fill="#ad62f0"/>
<path d="M169.14,217.30 L170.02,218.34 L169.14,219.38 L168.26,218.34 Z" fill="#ad62f0"/>
<path d="M172.61,217.39 L173.49,218.43 L172.61,219.47 L171.73,218.43 Z" fill="#ad62f0"/>
<path d="M176.09,217.47 L176.97,218.51 L176.09,219.55 L175.21,218.51 Z" fill="#ad62f0"/>
<path d="M179.60,217.56 L180.48,218.60 L179.60,219.64 L178.72,218.60 Z" fill="#ad62f0"/>
<path d="M35.96,221.90 L37.72,220.94 L37.72,222.86 Z" fill="#d99a1c"/>
<path d="M38.52,221.96 L40.28,221.00 L40.28,222.92 Z" fill="#d99a1c"/>
<path d="M41.10,222.02 L42.86,221.06 L42.86,222.98 Z" fill="#d99a1c"/>
<path d="M43.70,222.10 L45.46,221.14 L45.46,223.06 Z" fill="#d99a1c"/>
<path d="M46.33,222.22 L48.09,221.26 L48.09,223.18 Z" fill="#d99a1c"/>
<path d="M48.97,222.42 L50.73,221.46 L50.73,223.38 Z" fill="#d99a1c"/>
<path d="M51.63,222.65 L53.39,221.69 L53.39,223.61 Z" fill="#d99a1c"/>
<path d="M54.32,222.84 L56.08,221.88 L56.08,223.80 Z" fill="#d99a1c"/>
<path d="M57.02,223.00 L58.78,222.04 L58.78,223.96 Z" fill="#d99a1c"/>
<path d="M59.74,223.14 L61.50,222.18 L61.50,224.10 Z" fill="#d99a1c"/>
<path d="M62.49,223.28 L64.25,222.32 L64.25,224.24 Z" fill="#d99a1c"/>
<path d="M65.26,223.42 L67.02,222.46 L67.02,224.38 Z" fill="#d99a1c"/>
<path d="M68.04,223.55 L69.80,222.59 L69.80,224.51 Z" fill="#d99a1c"/>
<path d="M70.85,223.69 L72.61,222.73 L72.61,224.65 Z" fill="#d99a1c"/>
<path d="M73.68,223.82 L75.44,222.86 L75.44,224.78 Z" fill="#d99a1c"/>
<path d="M76.53,223.96 L78.29,223.00 L78.29,224.92 Z" fill="#d99a1c"/>
<path d="M79.40,224.09 L81.16,223.13 L81.16,225.05 Z" fill="#d99a1c"/>
<path d="M82.29,224.23 L84.05,223.27 L84.05,225.19 Z" fill="#d99a1c"/>
<path d="M85.20,224.36 L86.96,223.40 L86.96,225.32 Z" fill="#d99a1c"/>
<path d="M88.13,224.50 L89.89,223.54 L89.89,225.46 Z" fill="#d99a1c"/>
<path d="M91.08,224.63 L92.84,223.67 L92.84,225.59 Z" fill="#d99a1c"/>
<path d="M94.05,224.77 L95.81,223.81 L95.81,225.73 Z" fill="#d99a1c"/>
<path d="M97.05,224.90 L98.81,223.94 L98.81,225.86 Z" fill="#d99a1c"/>
<path d="M100.06,225.03 L101.82,224.07 L101.82,225.99 Z" fill="#d99a1c"/>
<path d="M103.09,225.16 L104.85,224.20 L104.85,226.12 Z" fill="#d99a1c"/>
<path d="M106.15,225.29 L107.91,224.33 L107.91,226.25 Z" fill="#d99a1c"/>
<path d="M109.22,225.42 L110.98,224.46 L110.98,226.38 Z" fill="#d99a1c"/>
<path d="M112.32,225.54 L114.08,224.58 L114.08,226.50 Z" fill="#d99a1c"/>
<path d="M115.44,225.66 L117.20,224.70 L117.20,226.62 Z" fill="#d99a1c"/>
<path d="M118.57,225.78 L120.33,224.82 L120.33,226.74 Z" fill="#d99a1c"/>
<path d="M121.73,225.90 L123.49,224.94 L123.49,226.86 Z" fill="#d99a1c"/>
<path d="M124.91,226.01 L126.67,225.05 L126.67,226.97 Z" fill="#d99a1c"/>
<path d="M128.11,226.12 L129.87,225.16 L129.87,227.08 Z" fill="#d99a1c"/>
<path d="M131.33,226.24 L133.09,225.28 L133.09,227.20 Z" fill="#d99a1c"/>
<path d="M134.57,226.35 L136.33,225.39 L136.33,227.31 Z" fill="#d99a1c"/>
<path d="M137.83,226.46 L139.59,225.50 L139.59,227.42 Z" fill="#d99a1c"/>
<path d="M141.11,226.57 L142.87,225.61 L142.87,227.53 Z" fill="#d99a1c"/>
<path d="M144.41,226.69 L146.17,225.73 L146.17,227.65 Z" fill="#d99a1c"/>
<path d="M147.73,226.80 L149.49,225.84 L149.49,227.76 Z" fill="#d99a1c"/>
<path d="M151.07,226.91 L152.83,225.95 L152.83,227.87 Z" fill="#d99a1c"/>
<path d="M154.44,227.02 L156.20,226.06 L156.20,227.98 Z" fill="#d99a1c"/>
<path d="M157.82,227.13 L159.58,226.17 L159.58,228.09 Z" fill="#d99a1c"/>
<path d="M161.23,227.24 L162.99,226.28 L162.99,228.20 Z" fill="#d99a1c"/>
<path d="M164.65,227.35 L166.41,226.39 L166.41,228.31 Z" fill="#d99a1c"/>
<path d="M168.10,227.46 L169.86,226.50 L169.86,228.42 Z" fill="#d99a1c"/>
<path d="M171.57,227.57 L173.33,226.61 L173.33,228.53 Z" fill="#d99a1c"/>
<path d="M175.05,227.69 L176.81,226.73 L176.81,228.65 Z" fill="#d99a1c"/>
<path d="M178.56,227.80 L180.32,226.84 L180.32,228.76 Z" fill="#d99a1c"/>
<rect x="214.30" y="158.60" width="151.70" height="122.70" fill="none" stroke="#5c5c5c" stroke-width="1.2"/>
<line x1="214.30" y1="281.30" x2="214.30" y2="279.30" stroke="#555" stroke-width="0.7"/>
<text x="214.30" y="287.60" font-size="5.1" text-anchor="middle" fill="#3a3a3a" stroke="#3a3a3a" stroke-width="0.22">0.0</text>
<line x1="233.26" y1="281.30" x2="233.26" y2="280.00" stroke="#555" stroke-width="0.7"/>
<line x1="252.23" y1="281.30" x2="252.23" y2="279.30" stroke="#555" stroke-width="0.7"/>
<text x="252.23" y="287.60" font-size="5.1" text-anchor="middle" fill="#3a3a3a" stroke="#3a3a3a" stroke-width="0.22">0.2</text>
<line x1="271.19" y1="281.30" x2="271.19" y2="280.00" stroke="#555" stroke-width="0.7"/>
<line x1="290.15" y1="281.30" x2="290.15" y2="279.30" stroke="#555" stroke-width="0.7"/>
<text x="290.15" y="287.60" font-size="5.1" text-anchor="middle" fill="#3a3a3a" stroke="#3a3a3a" stroke-width="0.22">0.4</text>
<line x1="309.11" y1="281.30" x2="309.11" y2="280.00" stroke="#555" stroke-width="0.7"/>
<line x1="328.07" y1="281.30" x2="328.07" y2="279.30" stroke="#555" stroke-width="0.7"/>
<text x="328.07" y="287.60" font-size="5.1" text-anchor="middle" fill="#3a3a3a" stroke="#3a3a3a" stroke-width="0.22">0.6</text>
<line x1="347.04" y1="281.30" x2="347.04" y2="280.00" stroke="#555" stroke-width="0.7"/>
<line x1="366.00" y1="281.30" x2="366.00" y2="279.30" stroke="#555" stroke-width="0.7"/>
<text x="366.00" y="287.60" font-size="5.1" text-anchor="middle" fill="#3a3a3a" stroke="#3a3a3a" stroke-width="0.22">0.8</text>
<line x1="214.30" y1="171.80" x2="216.30" y2="171.80" stroke="#555" stroke-width="0.7"/>
<text x="212.00" y="173.60" font-size="5.1" text-anchor="end" fill="#3a3a3a" stroke="#3a3a3a" stroke-width="0.22">200</text>
<line x1="214.30" y1="193.64" x2="216.30" y2="193.64" stroke="#555" stroke-width="0.7"/>
<text x="212.00" y="195.44" font-size="5.1" text-anchor="end" fill="#3a3a3a" stroke="#3a3a3a" stroke-width="0.22">160</text>
<line x1="214.30" y1="215.48" x2="216.30" y2="215.48" stroke="#555" stroke-width="0.7"/>
<text x="212.00" y="217.28" font-size="5.1" text-anchor="end" fill="#3a3a3a" stroke="#3a3a3a" stroke-width="0.22">120</text>
<line x1="214.30" y1="237.32" x2="216.30" y2="237.32" stroke="#555" stroke-width="0.7"/>
<text x="212.00" y="239.12" font-size="5.1" text-anchor="end" fill="#3a3a3a" stroke="#3a3a3a" stroke-width="0.22">80</text>
<line x1="214.30" y1="259.16" x2="216.30" y2="259.16" stroke="#555" stroke-width="0.7"/>
<text x="212.00" y="260.96" font-size="5.1" text-anchor="end" fill="#3a3a3a" stroke="#3a3a3a" stroke-width="0.22">40</text>
<line x1="214.30" y1="281.00" x2="216.30" y2="281.00" stroke="#555" stroke-width="0.7"/>
<text x="212.00" y="282.80" font-size="5.1" text-anchor="end" fill="#3a3a3a" stroke="#3a3a3a" stroke-width="0.22">0</text>
<line x1="214.30" y1="182.72" x2="215.60" y2="182.72" stroke="#555" stroke-width="0.7"/>
<line x1="214.30" y1="204.56" x2="215.60" y2="204.56" stroke="#555" stroke-width="0.7"/>
<line x1="214.30" y1="226.40" x2="215.60" y2="226.40" stroke="#555" stroke-width="0.7"/>
<line x1="214.30" y1="248.24" x2="215.60" y2="248.24" stroke="#555" stroke-width="0.7"/>
<line x1="214.30" y1="270.08" x2="215.60" y2="270.08" stroke="#555" stroke-width="0.7"/>
<text x="290.35" y="298.70" font-size="6.3" font-weight="bold" text-anchor="middle" fill="#111" stroke="#111" stroke-width="0.3">True strain</text>
<text transform="translate(199.90,214.80) rotate(-90)" font-size="6.5" font-weight="bold" text-anchor="middle" fill="#111" stroke="#111" stroke-width="0.32">True stress / MPa</text>
<text x="193.00" y="164.40" font-size="13.4" font-weight="bold" fill="#111" stroke="#111" stroke-width="0.35">(e)</text>
<g transform="translate(272.70,276.90) scale(1,1.02)"><text x="0" y="0" font-size="10.6" font-weight="bold" fill="#111" stroke="#111" stroke-width="0.5">Strain rate =10 s<tspan dy="-3.2" dx="0.2" font-size="6.1">−1</tspan></text></g>
<path d="M214.60,258.00 L214.71,257.23 L214.85,256.23 L215.01,255.06 L215.19,253.74 L215.39,252.31 L215.61,250.82 L215.83,249.31 L216.05,247.81 L216.28,246.36 L216.50,245.00 L216.73,243.70 L216.97,242.38 L217.22,241.07 L217.49,239.75 L217.75,238.44 L218.01,237.13 L218.28,235.83 L218.53,234.54 L218.77,233.26 L219.00,232.00 L219.21,230.75 L219.42,229.50 L219.61,228.26 L219.80,227.03 L219.98,225.81 L220.16,224.61 L220.34,223.42 L220.52,222.26 L220.71,221.11 L220.90,220.00 L221.09,218.92 L221.28,217.87 L221.46,216.85 L221.64,215.86 L221.82,214.88 L222.02,213.90 L222.22,212.94 L222.43,211.97 L222.66,210.99 L222.90,210.00 L223.16,209.00 L223.42,207.99 L223.69,206.98 L223.97,205.98 L224.27,204.97 L224.58,203.96 L224.90,202.96 L225.25,201.97 L225.61,200.98 L226.00,200.00 L226.42,199.01 L226.88,197.99 L227.36,196.96 L227.87,195.92 L228.39,194.91 L228.91,193.92 L229.43,192.97 L229.94,192.07 L230.43,191.25 L230.90,190.50 L231.34,189.84 L231.76,189.25 L232.16,188.72 L232.55,188.25 L232.94,187.82 L233.33,187.42 L233.73,187.05 L234.14,186.70 L234.56,186.35 L235.00,186.00 L235.45,185.66 L235.90,185.34 L236.35,185.04 L236.81,184.76 L237.28,184.49 L237.76,184.25 L238.27,184.02 L238.81,183.80 L239.39,183.59 L240.00,183.40 L240.62,183.22 L241.24,183.07 L241.85,182.93 L242.49,182.81 L243.17,182.70 L243.90,182.60 L244.70,182.50 L245.59,182.40 L246.59,182.31 L247.70,182.20 L248.96,182.09 L250.36,181.97 L251.87,181.85 L253.47,181.73 L255.14,181.61 L256.85,181.50 L258.57,181.41 L260.29,181.32 L261.97,181.25 L263.60,181.20 L265.22,181.17 L266.90,181.16 L268.60,181.16 L270.32,181.17 L272.01,181.20 L273.67,181.23 L275.27,181.27 L276.79,181.32 L278.21,181.36 L279.50,181.40 L280.63,181.44 L281.62,181.48 L282.48,181.52 L283.26,181.56 L283.99,181.61 L284.70,181.67 L285.43,181.73 L286.19,181.81 L287.04,181.90 L288.00,182.00 L289.01,182.11 L290.00,182.22 L291.00,182.34 L292.03,182.47 L293.11,182.61 L294.25,182.77 L295.50,182.94 L296.85,183.14 L298.35,183.35 L300.00,183.60 L301.78,183.87 L303.66,184.16 L305.63,184.48 L307.71,184.81 L309.91,185.16 L312.22,185.53 L314.66,185.92 L317.23,186.33 L319.94,186.76 L322.80,187.20 L326.02,187.69 L329.72,188.25 L333.74,188.86 L337.94,189.49 L342.18,190.12 L346.30,190.74 L350.16,191.32 L353.61,191.84 L356.51,192.27 L358.70,192.60" fill="none" stroke="#585858" stroke-width="0.8" stroke-linejoin="round" stroke-linecap="round"/>
<path d="M214.60,258.00 L214.65,256.62 L214.72,254.82 L214.80,252.70 L214.89,250.31 L214.99,247.75 L215.09,245.09 L215.19,242.40 L215.30,239.78 L215.40,237.28 L215.50,235.00 L215.60,232.84 L215.69,230.67 L215.79,228.51 L215.89,226.38 L215.99,224.28 L216.09,222.24 L216.19,220.28 L216.29,218.41 L216.40,216.64 L216.50,215.00 L216.60,213.48 L216.68,212.07 L216.75,210.75 L216.83,209.52 L216.91,208.38 L217.00,207.30 L217.11,206.28 L217.24,205.31 L217.40,204.39 L217.60,203.50 L217.84,202.67 L218.12,201.91 L218.44,201.22 L218.78,200.58 L219.13,200.00 L219.50,199.46 L219.86,198.94 L220.22,198.45 L220.57,197.97 L220.90,197.50 L221.21,197.04 L221.50,196.62 L221.79,196.23 L222.07,195.87 L222.35,195.53 L222.64,195.21 L222.93,194.90 L223.23,194.60 L223.56,194.30 L223.90,194.00 L224.27,193.70 L224.65,193.42 L225.06,193.14 L225.47,192.87 L225.89,192.61 L226.32,192.37 L226.75,192.13 L227.18,191.91 L227.59,191.70 L228.00,191.50 L228.36,191.32 L228.65,191.16 L228.89,191.02 L229.13,190.90 L229.39,190.78 L229.69,190.67 L230.06,190.56 L230.53,190.45 L231.14,190.33 L231.90,190.20 L232.81,190.06 L233.84,189.91 L234.98,189.76 L236.21,189.60 L237.53,189.44 L238.92,189.29 L240.38,189.15 L241.88,189.02 L243.43,188.90 L245.00,188.80 L246.61,188.71 L248.28,188.62 L249.99,188.54 L251.77,188.47 L253.59,188.41 L255.48,188.37 L257.42,188.34 L259.42,188.34 L261.48,188.35 L263.60,188.40 L265.86,188.48 L268.31,188.59 L270.88,188.74 L273.54,188.90 L276.21,189.08 L278.85,189.27 L281.41,189.46 L283.82,189.65 L286.04,189.84 L288.00,190.00 L289.65,190.14 L291.02,190.27 L292.17,190.38 L293.17,190.49 L294.10,190.61 L295.02,190.73 L296.00,190.88 L297.11,191.05 L298.42,191.25 L300.00,191.50 L301.78,191.78 L303.66,192.07 L305.63,192.39 L307.71,192.73 L309.91,193.09 L312.22,193.49 L314.66,193.91 L317.23,194.37 L319.94,194.87 L322.80,195.40 L326.02,196.02 L329.72,196.74 L333.74,197.54 L337.94,198.39 L342.18,199.24 L346.30,200.08 L350.16,200.87 L353.61,201.57 L356.51,202.16 L358.70,202.60" fill="none" stroke="#f5605f" stroke-width="0.8" stroke-linejoin="round" stroke-linecap="round"/>
<path d="M214.60,258.00 L214.64,256.62 L214.69,254.82 L214.75,252.70 L214.82,250.31 L214.89,247.75 L214.97,245.09 L215.05,242.40 L215.14,239.78 L215.22,237.28 L215.30,235.00 L215.38,232.82 L215.47,230.62 L215.56,228.40 L215.65,226.21 L215.74,224.06 L215.84,221.99 L215.93,220.02 L216.02,218.18 L216.11,216.50 L216.20,215.00 L216.28,213.69 L216.35,212.56 L216.41,211.58 L216.47,210.72 L216.53,209.97 L216.60,209.30 L216.67,208.69 L216.76,208.12 L216.87,207.56 L217.00,207.00 L217.15,206.46 L217.31,205.99 L217.48,205.58 L217.67,205.21 L217.87,204.88 L218.08,204.58 L218.30,204.31 L218.52,204.04 L218.76,203.77 L219.00,203.50 L219.25,203.23 L219.50,202.98 L219.77,202.75 L220.04,202.54 L220.32,202.33 L220.61,202.14 L220.91,201.95 L221.23,201.77 L221.56,201.58 L221.90,201.40 L222.25,201.22 L222.61,201.04 L222.99,200.86 L223.37,200.70 L223.76,200.53 L224.17,200.37 L224.60,200.22 L225.05,200.07 L225.51,199.93 L226.00,199.80 L226.50,199.68 L227.00,199.56 L227.51,199.46 L228.04,199.36 L228.59,199.26 L229.17,199.17 L229.78,199.08 L230.44,198.99 L231.14,198.90 L231.90,198.80 L232.68,198.69 L233.47,198.58 L234.26,198.46 L235.10,198.34 L235.98,198.22 L236.94,198.11 L237.98,198.00 L239.12,197.92 L240.39,197.85 L241.80,197.80 L243.35,197.77 L245.02,197.74 L246.80,197.73 L248.69,197.73 L250.67,197.74 L252.73,197.77 L254.86,197.82 L257.06,197.89 L259.31,197.98 L261.60,198.10 L264.04,198.25 L266.69,198.44 L269.49,198.67 L272.38,198.91 L275.29,199.17 L278.16,199.44 L280.93,199.71 L283.54,199.96 L285.91,200.19 L288.00,200.40 L289.73,200.57 L291.15,200.72 L292.32,200.85 L293.32,200.97 L294.23,201.09 L295.11,201.21 L296.06,201.34 L297.14,201.50 L298.43,201.68 L300.00,201.90 L301.78,202.15 L303.66,202.44 L305.63,202.74 L307.71,203.07 L309.91,203.41 L312.22,203.76 L314.66,204.12 L317.23,204.48 L319.94,204.84 L322.80,205.20 L326.02,205.58 L329.72,205.99 L333.74,206.42 L337.94,206.87 L342.18,207.31 L346.30,207.73 L350.16,208.12 L353.61,208.48 L356.51,208.77 L358.70,209.00" fill="none" stroke="#5590f2" stroke-width="0.8" stroke-linejoin="round" stroke-linecap="round"/>
<path d="M214.60,258.00 L214.64,256.73 L214.69,255.08 L214.75,253.12 L214.82,250.92 L214.89,248.56 L214.97,246.12 L215.05,243.67 L215.14,241.28 L215.22,239.03 L215.30,237.00 L215.38,235.10 L215.47,233.20 L215.56,231.32 L215.65,229.48 L215.74,227.69 L215.84,225.96 L215.93,224.31 L216.02,222.76 L216.11,221.32 L216.20,220.00 L216.28,218.81 L216.35,217.72 L216.41,216.74 L216.47,215.85 L216.53,215.04 L216.60,214.31 L216.67,213.65 L216.76,213.05 L216.87,212.50 L217.00,212.00 L217.15,211.57 L217.31,211.24 L217.48,211.00 L217.67,210.83 L217.86,210.71 L218.07,210.62 L218.29,210.55 L218.52,210.49 L218.75,210.41 L219.00,210.30 L219.25,210.18 L219.50,210.07 L219.76,209.97 L220.03,209.89 L220.31,209.81 L220.61,209.73 L220.92,209.65 L221.26,209.57 L221.61,209.49 L222.00,209.40 L222.42,209.30 L222.87,209.20 L223.35,209.09 L223.86,208.99 L224.38,208.88 L224.90,208.78 L225.44,208.67 L225.97,208.58 L226.49,208.48 L227.00,208.40 L227.44,208.32 L227.79,208.26 L228.09,208.20 L228.38,208.14 L228.69,208.09 L229.06,208.04 L229.54,207.98 L230.17,207.93 L230.97,207.87 L232.00,207.80 L233.26,207.72 L234.74,207.63 L236.38,207.54 L238.17,207.44 L240.06,207.34 L242.03,207.24 L244.04,207.16 L246.06,207.09 L248.06,207.03 L250.00,207.00 L251.91,206.99 L253.84,207.00 L255.79,207.02 L257.76,207.05 L259.75,207.09 L261.76,207.15 L263.79,207.21 L265.84,207.27 L267.91,207.33 L270.00,207.40 L272.08,207.46 L274.14,207.52 L276.20,207.57 L278.27,207.63 L280.38,207.69 L282.53,207.77 L284.75,207.87 L287.06,207.98 L289.47,208.13 L292.00,208.30 L294.65,208.51 L297.38,208.75 L300.20,209.03 L303.10,209.32 L306.08,209.63 L309.13,209.95 L312.26,210.27 L315.44,210.59 L318.69,210.91 L322.00,211.20 L325.56,211.50 L329.50,211.81 L333.67,212.14 L337.96,212.46 L342.23,212.78 L346.34,213.09 L350.18,213.37 L353.60,213.62 L356.49,213.83 L358.70,214.00" fill="none" stroke="#45b474" stroke-width="0.8" stroke-linejoin="round" stroke-linecap="round"/>
<path d="M214.60,258.00 L214.65,256.60 L214.71,254.78 L214.78,252.60 L214.86,250.17 L214.94,247.56 L215.04,244.87 L215.14,242.18 L215.25,239.58 L215.37,237.16 L215.50,235.00 L215.62,232.99 L215.74,230.98 L215.85,229.00 L215.97,227.07 L216.11,225.22 L216.26,223.47 L216.44,221.85 L216.65,220.38 L216.90,219.09 L217.20,218.00 L217.41,217.15 L217.43,216.53 L217.37,216.10 L217.30,215.83 L217.33,215.68 L217.54,215.62 L218.02,215.60 L218.87,215.60 L220.16,215.58 L222.00,215.50 L224.50,215.40 L227.64,215.35 L231.27,215.33 L235.29,215.34 L239.55,215.38 L243.93,215.42 L248.29,215.47 L252.51,215.53 L256.46,215.57 L260.00,215.60 L263.18,215.61 L266.14,215.62 L268.95,215.62 L271.63,215.62 L274.25,215.62 L276.85,215.64 L279.47,215.67 L282.18,215.72 L285.00,215.80 L288.00,215.90 L291.14,216.03 L294.37,216.19 L297.67,216.38 L301.04,216.58 L304.46,216.79 L307.92,217.02 L311.41,217.26 L314.93,217.51 L318.46,217.75 L322.00,218.00 L325.73,218.26 L329.75,218.56 L333.97,218.88 L338.25,219.20 L342.48,219.53 L346.53,219.85 L350.30,220.14 L353.67,220.41 L356.50,220.63 L358.70,220.80" fill="none" stroke="#bf86f3" stroke-width="0.8" stroke-linejoin="round" stroke-linecap="round"/>
<path d="M214.60,258.00 L214.68,256.78 L214.79,255.18 L214.91,253.28 L215.05,251.15 L215.20,248.88 L215.36,246.53 L215.52,244.19 L215.68,241.94 L215.85,239.85 L216.00,238.00 L216.15,236.30 L216.31,234.63 L216.48,232.99 L216.64,231.40 L216.81,229.89 L216.98,228.46 L217.14,227.14 L217.30,225.95 L217.46,224.90 L217.60,224.00 L217.73,223.29 L217.85,222.75 L217.96,222.37 L218.06,222.11 L218.16,221.95 L218.27,221.87 L218.38,221.84 L218.50,221.83 L218.64,221.83 L218.80,221.80 L218.97,221.79 L219.15,221.84 L219.33,221.94 L219.52,222.07 L219.73,222.24 L219.94,222.41 L220.18,222.59 L220.43,222.76 L220.70,222.90 L221.00,223.00 L221.19,223.07 L221.19,223.13 L221.09,223.18 L220.98,223.22 L220.95,223.25 L221.08,223.28 L221.46,223.31 L222.19,223.33 L223.34,223.36 L225.00,223.40 L227.28,223.44 L230.13,223.47 L233.44,223.50 L237.10,223.53 L241.00,223.56 L245.02,223.59 L249.04,223.63 L252.95,223.68 L256.64,223.73 L260.00,223.80 L263.06,223.88 L265.95,223.97 L268.73,224.06 L271.42,224.16 L274.06,224.27 L276.70,224.38 L279.38,224.50 L282.13,224.63 L284.99,224.76 L288.00,224.90 L291.14,225.05 L294.37,225.20 L297.67,225.36 L301.04,225.53 L304.46,225.71 L307.92,225.88 L311.41,226.06 L314.93,226.24 L318.46,226.42 L322.00,226.60 L325.73,226.78 L329.75,226.98 L333.97,227.19 L338.25,227.40 L342.48,227.61 L346.53,227.80 L350.30,227.99 L353.67,228.15 L356.50,228.29 L358.70,228.40" fill="none" stroke="#ddae48" stroke-width="0.8" stroke-linejoin="round" stroke-linecap="round"/>
<path d="M214.90,260.64 L215.86,258.88 L213.94,258.88 Z" fill="#22a055"/>
<circle cx="214.90" cy="263.40" r="0.88" fill="#f5393f"/>
<rect x="234.01" y="183.34" width="1.70" height="1.70" fill="#383838"/>
<rect x="238.81" y="183.29" width="1.70" height="1.70" fill="#383838"/>
<rect x="243.70" y="183.38" width="1.70" height="1.70" fill="#383838"/>
<rect x="248.65" y="183.50" width="1.70" height="1.70" fill="#383838"/>
<rect x="253.69" y="183.64" width="1.70" height="1.70" fill="#383838"/>
<rect x="258.80" y="183.85" width="1.70" height="1.70" fill="#383838"/>
<rect x="263.99" y="184.14" width="1.70" height="1.70" fill="#383838"/>
<rect x="269.25" y="184.56" width="1.70" height="1.70" fill="#383838"/>
<rect x="274.59" y="185.07" width="1.70" height="1.70" fill="#383838"/>
<rect x="280.00" y="185.63" width="1.70" height="1.70" fill="#383838"/>
<rect x="285.50" y="186.20" width="1.70" height="1.70" fill="#383838"/>
<rect x="291.06" y="186.72" width="1.70" height="1.70" fill="#383838"/>
<rect x="296.71" y="187.17" width="1.70" height="1.70" fill="#383838"/>
<rect x="302.43" y="187.53" width="1.70" height="1.70" fill="#383838"/>
<rect x="308.23" y="187.90" width="1.70" height="1.70" fill="#383838"/>
<rect x="314.10" y="188.23" width="1.70" height="1.70" fill="#383838"/>
<rect x="320.05" y="188.50" width="1.70" height="1.70" fill="#383838"/>
<rect x="326.08" y="188.74" width="1.70" height="1.70" fill="#383838"/>
<rect x="332.18" y="188.95" width="1.70" height="1.70" fill="#383838"/>
<rect x="338.36" y="189.15" width="1.70" height="1.70" fill="#383838"/>
<rect x="344.61" y="189.34" width="1.70" height="1.70" fill="#383838"/>
<rect x="350.94" y="189.54" width="1.70" height="1.70" fill="#383838"/>
<rect x="357.35" y="189.74" width="1.70" height="1.70" fill="#383838"/>
<circle cx="223.50" cy="185.40" r="1.10" fill="#f5393f"/>
<circle cx="230.13" cy="185.78" r="1.10" fill="#f5393f"/>
<circle cx="234.86" cy="186.28" r="1.10" fill="#f5393f"/>
<circle cx="239.66" cy="186.59" r="1.10" fill="#f5393f"/>
<circle cx="244.55" cy="186.88" r="1.10" fill="#f5393f"/>
<circle cx="249.50" cy="187.18" r="1.10" fill="#f5393f"/>
<circle cx="254.54" cy="187.54" r="1.10" fill="#f5393f"/>
<circle cx="259.65" cy="187.97" r="1.10" fill="#f5393f"/>
<circle cx="264.84" cy="188.52" r="1.10" fill="#f5393f"/>
<circle cx="270.10" cy="189.19" r="1.10" fill="#f5393f"/>
<circle cx="275.44" cy="189.89" r="1.10" fill="#f5393f"/>
<circle cx="280.85" cy="190.60" r="1.10" fill="#f5393f"/>
<circle cx="286.35" cy="191.24" r="1.10" fill="#f5393f"/>
<circle cx="291.91" cy="191.77" r="1.10" fill="#f5393f"/>
<circle cx="297.56" cy="192.19" r="1.10" fill="#f5393f"/>
<circle cx="303.28" cy="192.55" r="1.10" fill="#f5393f"/>
<circle cx="309.08" cy="192.87" r="1.10" fill="#f5393f"/>
<circle cx="314.95" cy="193.19" r="1.10" fill="#f5393f"/>
<circle cx="320.90" cy="193.53" r="1.10" fill="#f5393f"/>
<circle cx="326.93" cy="193.91" r="1.10" fill="#f5393f"/>
<circle cx="333.03" cy="194.29" r="1.10" fill="#f5393f"/>
<circle cx="339.21" cy="194.68" r="1.10" fill="#f5393f"/>
<circle cx="345.46" cy="195.08" r="1.10" fill="#f5393f"/>
<circle cx="351.79" cy="195.48" r="1.10" fill="#f5393f"/>
<circle cx="358.20" cy="195.88" r="1.10" fill="#f5393f"/>
<path d="M220.90,195.40 L222.10,197.60 L219.70,197.60 Z" fill="#2c6ef0"/>
<path d="M225.48,196.79 L226.68,198.99 L224.28,198.99 Z" fill="#2c6ef0"/>
<path d="M230.13,198.47 L231.33,200.67 L228.93,200.67 Z" fill="#2c6ef0"/>
<path d="M234.86,199.53 L236.06,201.73 L233.66,201.73 Z" fill="#2c6ef0"/>
<path d="M239.66,200.37 L240.86,202.57 L238.46,202.57 Z" fill="#2c6ef0"/>
<path d="M244.55,201.54 L245.75,203.74 L243.35,203.74 Z" fill="#2c6ef0"/>
<path d="M249.50,202.32 L250.70,204.52 L248.30,204.52 Z" fill="#2c6ef0"/>
<path d="M254.54,203.07 L255.74,205.27 L253.34,205.27 Z" fill="#2c6ef0"/>
<path d="M259.65,203.78 L260.85,205.98 L258.45,205.98 Z" fill="#2c6ef0"/>
<path d="M264.84,204.46 L266.04,206.66 L263.64,206.66 Z" fill="#2c6ef0"/>
<path d="M270.10,205.12 L271.30,207.32 L268.90,207.32 Z" fill="#2c6ef0"/>
<path d="M275.44,205.77 L276.64,207.97 L274.24,207.97 Z" fill="#2c6ef0"/>
<path d="M280.85,206.38 L282.05,208.58 L279.65,208.58 Z" fill="#2c6ef0"/>
<path d="M286.35,206.91 L287.55,209.11 L285.15,209.11 Z" fill="#2c6ef0"/>
<path d="M291.91,207.34 L293.11,209.54 L290.71,209.54 Z" fill="#2c6ef0"/>
<path d="M297.56,207.68 L298.76,209.88 L296.36,209.88 Z" fill="#2c6ef0"/>
<path d="M303.28,207.96 L304.48,210.16 L302.08,210.16 Z" fill="#2c6ef0"/>
<path d="M309.08,208.19 L310.28,210.39 L307.88,210.39 Z" fill="#2c6ef0"/>
<path d="M314.95,208.39 L316.15,210.59 L313.75,210.59 Z" fill="#2c6ef0"/>
<path d="M320.90,208.57 L322.10,210.77 L319.70,210.77 Z" fill="#2c6ef0"/>
<path d="M326.93,208.72 L328.13,210.92 L325.73,210.92 Z" fill="#2c6ef0"/>
<path d="M333.03,208.84 L334.23,211.04 L331.83,211.04 Z" fill="#2c6ef0"/>
<path d="M339.21,208.94 L340.41,211.14 L338.01,211.14 Z" fill="#2c6ef0"/>
<path d="M345.46,209.03 L346.66,211.23 L344.26,211.23 Z" fill="#2c6ef0"/>
<path d="M351.79,209.11 L352.99,211.31 L350.59,211.31 Z" fill="#2c6ef0"/>
<path d="M358.20,209.20 L359.40,211.40 L357.00,211.40 Z" fill="#2c6ef0"/>
<path d="M220.90,210.90 L222.10,208.70 L219.70,208.70 Z" fill="#22a055"/>
<path d="M225.48,210.94 L226.68,208.74 L224.28,208.74 Z" fill="#22a055"/>
<path d="M230.13,210.98 L231.33,208.78 L228.93,208.78 Z" fill="#22a055"/>
<path d="M234.86,211.03 L236.06,208.83 L233.66,208.83 Z" fill="#22a055"/>
<path d="M239.66,211.10 L240.86,208.90 L238.46,208.90 Z" fill="#22a055"/>
<path d="M244.55,211.17 L245.75,208.97 L243.35,208.97 Z" fill="#22a055"/>
<path d="M249.50,211.24 L250.70,209.04 L248.30,209.04 Z" fill="#22a055"/>
<path d="M254.54,211.35 L255.74,209.15 L253.34,209.15 Z" fill="#22a055"/>
<path d="M259.65,211.49 L260.85,209.29 L258.45,209.29 Z" fill="#22a055"/>
<path d="M264.84,211.67 L266.04,209.47 L263.64,209.47 Z" fill="#22a055"/>
<path d="M270.10,211.89 L271.30,209.69 L268.90,209.69 Z" fill="#22a055"/>
<path d="M275.44,212.11 L276.64,209.91 L274.24,209.91 Z" fill="#22a055"/>
<path d="M280.85,212.34 L282.05,210.14 L279.65,210.14 Z" fill="#22a055"/>
<path d="M286.35,212.56 L287.55,210.36 L285.15,210.36 Z" fill="#22a055"/>
<path d="M291.91,212.77 L293.11,210.57 L290.71,210.57 Z" fill="#22a055"/>
<path d="M297.56,212.96 L298.76,210.76 L296.36,210.76 Z" fill="#22a055"/>
<path d="M303.28,213.15 L304.48,210.95 L302.08,210.95 Z" fill="#22a055"/>
<path d="M309.08,213.33 L310.28,211.13 L307.88,211.13 Z" fill="#22a055"/>
<path d="M314.95,213.50 L316.15,211.30 L313.75,211.30 Z" fill="#22a055"/>
<path d="M320.90,213.67 L322.10,211.47 L319.70,211.47 Z" fill="#22a055"/>
<path d="M326.93,213.83 L328.13,211.63 L325.73,211.63 Z" fill="#22a055"/>
<path d="M333.03,213.99 L334.23,211.79 L331.83,211.79 Z" fill="#22a055"/>
<path d="M339.21,214.14 L340.41,211.94 L338.01,211.94 Z" fill="#22a055"/>
<path d="M345.46,214.29 L346.66,212.09 L344.26,212.09 Z" fill="#22a055"/>
<path d="M351.79,214.44 L352.99,212.24 L350.59,212.24 Z" fill="#22a055"/>
<path d="M358.20,214.59 L359.40,212.39 L357.00,212.39 Z" fill="#22a055"/>
<path d="M220.90,210.90 L222.00,212.20 L220.90,213.50 L219.80,212.20 Z" fill="#ad62f0"/>
<path d="M225.48,211.60 L226.58,212.90 L225.48,214.20 L224.38,212.90 Z" fill="#ad62f0"/>
<path d="M230.13,212.17 L231.23,213.47 L230.13,214.77 L229.03,213.47 Z" fill="#ad62f0"/>
<path d="M234.86,212.74 L235.96,214.04 L234.86,215.34 L233.76,214.04 Z" fill="#ad62f0"/>
<path d="M239.66,213.26 L240.76,214.56 L239.66,215.86 L238.56,214.56 Z" fill="#ad62f0"/>
<path d="M244.55,213.75 L245.65,215.05 L244.55,216.35 L243.45,215.05 Z" fill="#ad62f0"/>
<path d="M249.50,214.21 L250.60,215.51 L249.50,216.81 L248.40,215.51 Z" fill="#ad62f0"/>
<path d="M254.54,214.67 L255.64,215.97 L254.54,217.27 L253.44,215.97 Z" fill="#ad62f0"/>
<path d="M259.65,215.17 L260.75,216.47 L259.65,217.77 L258.55,216.47 Z" fill="#ad62f0"/>
<path d="M264.84,215.72 L265.94,217.02 L264.84,218.32 L263.74,217.02 Z" fill="#ad62f0"/>
<path d="M270.10,216.33 L271.20,217.63 L270.10,218.93 L269.00,217.63 Z" fill="#ad62f0"/>
<path d="M275.44,216.94 L276.54,218.24 L275.44,219.54 L274.34,218.24 Z" fill="#ad62f0"/>
<path d="M280.85,217.52 L281.95,218.82 L280.85,220.12 L279.75,218.82 Z" fill="#ad62f0"/>
<path d="M286.35,218.03 L287.45,219.33 L286.35,220.63 L285.25,219.33 Z" fill="#ad62f0"/>
<path d="M291.91,218.42 L293.01,219.72 L291.91,221.02 L290.81,219.72 Z" fill="#ad62f0"/>
<path d="M297.56,218.69 L298.66,219.99 L297.56,221.29 L296.46,219.99 Z" fill="#ad62f0"/>
<path d="M303.28,218.88 L304.38,220.18 L303.28,221.48 L302.18,220.18 Z" fill="#ad62f0"/>
<path d="M309.08,219.02 L310.18,220.32 L309.08,221.62 L307.98,220.32 Z" fill="#ad62f0"/>
<path d="M314.95,219.14 L316.05,220.44 L314.95,221.74 L313.85,220.44 Z" fill="#ad62f0"/>
<path d="M320.90,219.27 L322.00,220.57 L320.90,221.87 L319.80,220.57 Z" fill="#ad62f0"/>
<path d="M326.93,219.42 L328.03,220.72 L326.93,222.02 L325.83,220.72 Z" fill="#ad62f0"/>
<path d="M333.03,219.56 L334.13,220.86 L333.03,222.16 L331.93,220.86 Z" fill="#ad62f0"/>
<path d="M339.21,219.70 L340.31,221.00 L339.21,222.30 L338.11,221.00 Z" fill="#ad62f0"/>
<path d="M345.46,219.83 L346.56,221.13 L345.46,222.43 L344.36,221.13 Z" fill="#ad62f0"/>
<path d="M351.79,219.96 L352.89,221.26 L351.79,222.56 L350.69,221.26 Z" fill="#ad62f0"/>
<path d="M358.20,220.09 L359.30,221.39 L358.20,222.69 L357.10,221.39 Z" fill="#ad62f0"/>
<path d="M219.60,223.00 L221.80,221.80 L221.80,224.20 Z" fill="#d99a1c"/>
<path d="M224.18,223.41 L226.38,222.21 L226.38,224.61 Z" fill="#d99a1c"/>
<path d="M228.83,223.47 L231.03,222.27 L231.03,224.67 Z" fill="#d99a1c"/>
<path d="M233.56,223.51 L235.76,222.31 L235.76,224.71 Z" fill="#d99a1c"/>
<path d="M238.36,223.55 L240.56,222.35 L240.56,224.75 Z" fill="#d99a1c"/>
<path d="M243.25,223.59 L245.45,222.39 L245.45,224.79 Z" fill="#d99a1c"/>
<path d="M248.20,223.63 L250.40,222.43 L250.40,224.83 Z" fill="#d99a1c"/>
<path d="M253.24,223.70 L255.44,222.50 L255.44,224.90 Z" fill="#d99a1c"/>
<path d="M258.35,223.79 L260.55,222.59 L260.55,224.99 Z" fill="#d99a1c"/>
<path d="M263.54,223.93 L265.74,222.73 L265.74,225.13 Z" fill="#d99a1c"/>
<path d="M268.80,224.11 L271.00,222.91 L271.00,225.31 Z" fill="#d99a1c"/>
<path d="M274.14,224.33 L276.34,223.13 L276.34,225.53 Z" fill="#d99a1c"/>
<path d="M279.55,224.57 L281.75,223.37 L281.75,225.77 Z" fill="#d99a1c"/>
<path d="M285.05,224.82 L287.25,223.62 L287.25,226.02 Z" fill="#d99a1c"/>
<path d="M290.61,225.08 L292.81,223.88 L292.81,226.28 Z" fill="#d99a1c"/>
<path d="M296.26,225.36 L298.46,224.16 L298.46,226.56 Z" fill="#d99a1c"/>
<path d="M301.98,225.65 L304.18,224.45 L304.18,226.85 Z" fill="#d99a1c"/>
<path d="M307.78,225.94 L309.98,224.74 L309.98,227.14 Z" fill="#d99a1c"/>
<path d="M313.65,226.24 L315.85,225.04 L315.85,227.44 Z" fill="#d99a1c"/>
<path d="M319.60,226.55 L321.80,225.35 L321.80,227.75 Z" fill="#d99a1c"/>
<path d="M325.63,226.84 L327.83,225.64 L327.83,228.04 Z" fill="#d99a1c"/>
<path d="M331.73,227.15 L333.93,225.95 L333.93,228.35 Z" fill="#d99a1c"/>
<path d="M337.91,227.45 L340.11,226.25 L340.11,228.65 Z" fill="#d99a1c"/>
<path d="M344.16,227.76 L346.36,226.56 L346.36,228.96 Z" fill="#d99a1c"/>
<path d="M350.49,228.07 L352.69,226.87 L352.69,229.27 Z" fill="#d99a1c"/>
<path d="M356.90,228.39 L359.10,227.19 L359.10,229.59 Z" fill="#d99a1c"/>
<text x="385.0" y="171.8" font-size="10.45" fill="#1a1a1a" stroke="#1a1a1a" stroke-width="0.15">Experimental</text>
<text x="450.0" y="171.6" font-size="10.5" fill="#1a1a1a" stroke="#1a1a1a" stroke-width="0.15">Predicted</text>
<line x1="394.4" y1="191.00" x2="426.0" y2="191.00" stroke="#7a7a7a" stroke-width="1.4"/>
<rect x="465.75" y="189.85" width="3.10" height="3.10" fill="#383838"/>
<text x="490.4" y="196.70" font-size="15.7" fill="#222" stroke="#222" stroke-width="0.3">350</text>
<circle cx="515.8" cy="186.60" r="1.1" fill="none" stroke="#555" stroke-width="0.65"/>
<text x="516.8" y="196.70" font-size="15.7" fill="#222" stroke="#222" stroke-width="0.3">C</text>
<line x1="394.4" y1="207.70" x2="426.0" y2="207.70" stroke="#f0505a" stroke-width="1.4"/>
<circle cx="467.30" cy="207.90" r="1.71" fill="#f5393f"/>
<text x="490.4" y="212.90" font-size="15.7" fill="#222" stroke="#222" stroke-width="0.3">375</text>
<circle cx="515.8" cy="202.80" r="1.1" fill="none" stroke="#555" stroke-width="0.65"/>
<text x="516.8" y="212.90" font-size="15.7" fill="#222" stroke="#222" stroke-width="0.3">C</text>
<line x1="394.4" y1="224.70" x2="426.0" y2="224.70" stroke="#3a6ee8" stroke-width="1.4"/>
<path d="M467.30,222.13 L469.58,226.31 L465.02,226.31 Z" fill="#2c6ef0"/>
<text x="490.4" y="230.60" font-size="15.7" fill="#222" stroke="#222" stroke-width="0.3">400</text>
<circle cx="515.8" cy="220.50" r="1.1" fill="none" stroke="#555" stroke-width="0.65"/>
<text x="516.8" y="230.60" font-size="15.7" fill="#222" stroke="#222" stroke-width="0.3">C</text>
<line x1="394.4" y1="241.40" x2="426.0" y2="241.40" stroke="#2f9e60" stroke-width="1.4"/>
<path d="M467.30,244.47 L469.58,240.29 L465.02,240.29 Z" fill="#22a055"/>
<text x="490.4" y="246.90" font-size="15.7" fill="#222" stroke="#222" stroke-width="0.3">425</text>
<circle cx="515.8" cy="236.80" r="1.1" fill="none" stroke="#555" stroke-width="0.65"/>
<text x="516.8" y="246.90" font-size="15.7" fill="#222" stroke="#222" stroke-width="0.3">C</text>
<line x1="394.4" y1="258.00" x2="426.0" y2="258.00" stroke="#a66ee6" stroke-width="1.4"/>
<path d="M467.30,256.53 L469.39,259.00 L467.30,261.47 L465.21,259.00 Z" fill="#ad62f0"/>
<text x="490.4" y="264.60" font-size="15.7" fill="#222" stroke="#222" stroke-width="0.3">450</text>
<circle cx="515.8" cy="254.50" r="1.1" fill="none" stroke="#555" stroke-width="0.65"/>
<text x="516.8" y="264.60" font-size="15.7" fill="#222" stroke="#222" stroke-width="0.3">C</text>
<line x1="394.4" y1="275.20" x2="426.0" y2="275.20" stroke="#d9a035" stroke-width="1.4"/>
<path d="M464.83,275.20 L469.01,272.92 L469.01,277.48 Z" fill="#d99a1c"/>
<text x="490.4" y="281.30" font-size="15.7" fill="#222" stroke="#222" stroke-width="0.3">475</text>
<circle cx="515.8" cy="271.20" r="1.1" fill="none" stroke="#555" stroke-width="0.65"/>
<text x="516.8" y="281.30" font-size="15.7" fill="#222" stroke="#222" stroke-width="0.3">C</text>
</svg>
</body></html>
